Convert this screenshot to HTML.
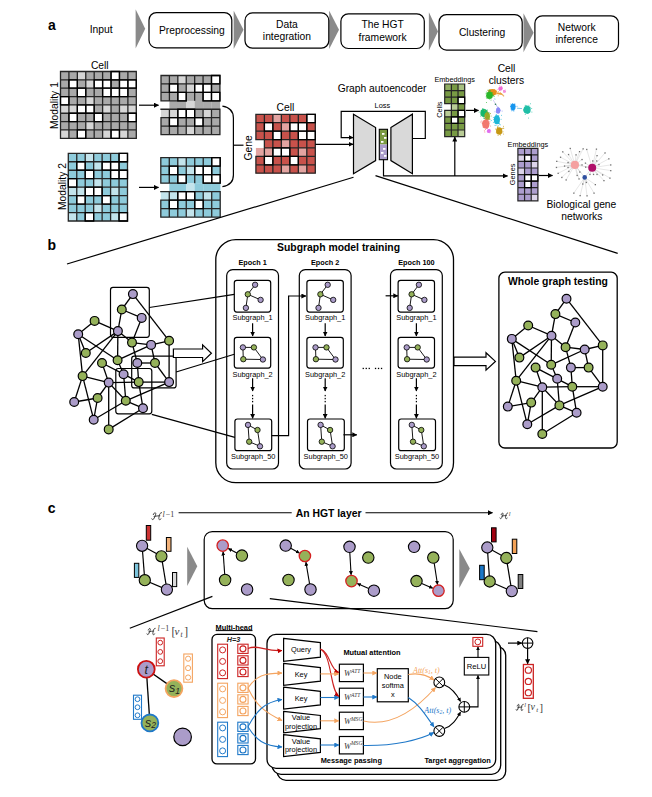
<!DOCTYPE html><html><head><meta charset="utf-8"><style>html,body{margin:0;padding:0;background:#fff;}svg{display:block;}</style></head><body>
<svg width="652" height="797" viewBox="0 0 652 797">
<defs><marker id="ah" viewBox="0 0 10 10" refX="9" refY="5" markerWidth="5" markerHeight="5" markerUnits="userSpaceOnUse" orient="auto"><path d="M0,0 L10,5 L0,10 z" fill="#000"/></marker><marker id="ahR" viewBox="0 0 10 10" refX="9" refY="5" markerWidth="5" markerHeight="5" markerUnits="userSpaceOnUse" orient="auto"><path d="M0,0 L10,5 L0,10 z" fill="#c00000"/></marker><marker id="ahO" viewBox="0 0 10 10" refX="9" refY="5" markerWidth="5" markerHeight="5" markerUnits="userSpaceOnUse" orient="auto"><path d="M0,0 L10,5 L0,10 z" fill="#f4a460"/></marker><marker id="ahB" viewBox="0 0 10 10" refX="9" refY="5" markerWidth="5" markerHeight="5" markerUnits="userSpaceOnUse" orient="auto"><path d="M0,0 L10,5 L0,10 z" fill="#1f78c8"/></marker><marker id="ahs" viewBox="0 0 10 10" refX="9" refY="5" markerWidth="4" markerHeight="4" markerUnits="userSpaceOnUse" orient="auto"><path d="M0,0 L10,5 L0,10 z" fill="#000"/></marker></defs>
<rect width="652" height="797" fill="#fff"/>
<text x="48" y="30" font-size="14" font-weight="bold" font-family='"Liberation Sans", sans-serif'>a</text>
<text x="101.2" y="29" font-size="10.3" font-weight="normal" font-style="normal" text-anchor="middle" dominant-baseline="central" fill="#000" font-family='"Liberation Sans", sans-serif' >Input</text>
<polygon points="135.6,9.3 145.2,28.85 135.6,48.4" fill="#8a8a8a"/>
<polygon points="233.7,10.7 243.5,29.85 233.7,49" fill="#8a8a8a"/>
<polygon points="329.2,10.7 339,29.85 329.2,49" fill="#8a8a8a"/>
<polygon points="428.9,12.3 438,31.450000000000003 428.9,50.6" fill="#8a8a8a"/>
<polygon points="523.5,13.2 533.6,32.7 523.5,52.2" fill="#8a8a8a"/>
<rect x="149" y="12.6" width="82.80000000000001" height="35.199999999999996" rx="7.5" fill="none" stroke="#000" stroke-width="1.2"/>
<text x="191.9" y="30.2" font-size="10.3" font-weight="normal" font-style="normal" text-anchor="middle" dominant-baseline="central" fill="#000" font-family='"Liberation Sans", sans-serif' >Preprocessing</text>
<rect x="245" y="12.9" width="83.80000000000001" height="35.300000000000004" rx="7.5" fill="none" stroke="#000" stroke-width="1.2"/>
<text x="286.9" y="24.35" font-size="10.3" font-weight="normal" font-style="normal" text-anchor="middle" dominant-baseline="central" fill="#000" font-family='"Liberation Sans", sans-serif' >Data</text>
<text x="286.9" y="36.75" font-size="10.3" font-weight="normal" font-style="normal" text-anchor="middle" dominant-baseline="central" fill="#000" font-family='"Liberation Sans", sans-serif' >integration</text>
<rect x="340.9" y="13.8" width="83.40000000000003" height="34.7" rx="7.5" fill="none" stroke="#000" stroke-width="1.2"/>
<text x="382.6" y="24.95" font-size="10.3" font-weight="normal" font-style="normal" text-anchor="middle" dominant-baseline="central" fill="#000" font-family='"Liberation Sans", sans-serif' >The HGT</text>
<text x="382.6" y="37.35" font-size="10.3" font-weight="normal" font-style="normal" text-anchor="middle" dominant-baseline="central" fill="#000" font-family='"Liberation Sans", sans-serif' >framework</text>
<rect x="439" y="14.6" width="83.20000000000005" height="35.5" rx="7.5" fill="none" stroke="#000" stroke-width="1.2"/>
<text x="482.1" y="32.35" font-size="10.3" font-weight="normal" font-style="normal" text-anchor="middle" dominant-baseline="central" fill="#000" font-family='"Liberation Sans", sans-serif' >Clustering</text>
<rect x="534.9" y="15.8" width="83.60000000000002" height="35.7" rx="7.5" fill="none" stroke="#000" stroke-width="1.2"/>
<text x="576.7" y="27.45" font-size="10.3" font-weight="normal" font-style="normal" text-anchor="middle" dominant-baseline="central" fill="#000" font-family='"Liberation Sans", sans-serif' >Network</text>
<text x="576.7" y="39.85" font-size="10.3" font-weight="normal" font-style="normal" text-anchor="middle" dominant-baseline="central" fill="#000" font-family='"Liberation Sans", sans-serif' >inference</text>
<rect x="60.50" y="71.50" width="8.62" height="8.55" fill="#a9a9a9"/>
<rect x="68.92" y="71.50" width="8.62" height="8.55" fill="#a9a9a9"/>
<rect x="77.34" y="71.50" width="8.62" height="8.55" fill="#d6d6d6"/>
<rect x="85.77" y="71.50" width="8.62" height="8.55" fill="#a9a9a9"/>
<rect x="94.19" y="71.50" width="8.62" height="8.55" fill="#a9a9a9"/>
<rect x="102.61" y="71.50" width="8.62" height="8.55" fill="#a9a9a9"/>
<rect x="111.03" y="71.50" width="8.62" height="8.55" fill="#ffffff"/>
<rect x="119.46" y="71.50" width="8.62" height="8.55" fill="#a9a9a9"/>
<rect x="127.88" y="71.50" width="8.62" height="8.55" fill="#a9a9a9"/>
<rect x="60.50" y="79.85" width="8.62" height="8.55" fill="#a9a9a9"/>
<rect x="68.92" y="79.85" width="8.62" height="8.55" fill="#ffffff"/>
<rect x="77.34" y="79.85" width="8.62" height="8.55" fill="#a9a9a9"/>
<rect x="85.77" y="79.85" width="8.62" height="8.55" fill="#d6d6d6"/>
<rect x="94.19" y="79.85" width="8.62" height="8.55" fill="#ffffff"/>
<rect x="102.61" y="79.85" width="8.62" height="8.55" fill="#ffffff"/>
<rect x="111.03" y="79.85" width="8.62" height="8.55" fill="#a9a9a9"/>
<rect x="119.46" y="79.85" width="8.62" height="8.55" fill="#ffffff"/>
<rect x="127.88" y="79.85" width="8.62" height="8.55" fill="#ffffff"/>
<rect x="60.50" y="88.20" width="8.62" height="8.55" fill="#a9a9a9"/>
<rect x="68.92" y="88.20" width="8.62" height="8.55" fill="#a9a9a9"/>
<rect x="77.34" y="88.20" width="8.62" height="8.55" fill="#ffffff"/>
<rect x="85.77" y="88.20" width="8.62" height="8.55" fill="#a9a9a9"/>
<rect x="94.19" y="88.20" width="8.62" height="8.55" fill="#a9a9a9"/>
<rect x="102.61" y="88.20" width="8.62" height="8.55" fill="#ffffff"/>
<rect x="111.03" y="88.20" width="8.62" height="8.55" fill="#ffffff"/>
<rect x="119.46" y="88.20" width="8.62" height="8.55" fill="#ffffff"/>
<rect x="127.88" y="88.20" width="8.62" height="8.55" fill="#a9a9a9"/>
<rect x="60.50" y="96.55" width="8.62" height="8.55" fill="#ffffff"/>
<rect x="68.92" y="96.55" width="8.62" height="8.55" fill="#a9a9a9"/>
<rect x="77.34" y="96.55" width="8.62" height="8.55" fill="#a9a9a9"/>
<rect x="85.77" y="96.55" width="8.62" height="8.55" fill="#d6d6d6"/>
<rect x="94.19" y="96.55" width="8.62" height="8.55" fill="#a9a9a9"/>
<rect x="102.61" y="96.55" width="8.62" height="8.55" fill="#a9a9a9"/>
<rect x="111.03" y="96.55" width="8.62" height="8.55" fill="#a9a9a9"/>
<rect x="119.46" y="96.55" width="8.62" height="8.55" fill="#a9a9a9"/>
<rect x="127.88" y="96.55" width="8.62" height="8.55" fill="#a9a9a9"/>
<rect x="60.50" y="104.90" width="8.62" height="8.55" fill="#d6d6d6"/>
<rect x="68.92" y="104.90" width="8.62" height="8.55" fill="#d6d6d6"/>
<rect x="77.34" y="104.90" width="8.62" height="8.55" fill="#ffffff"/>
<rect x="85.77" y="104.90" width="8.62" height="8.55" fill="#ffffff"/>
<rect x="94.19" y="104.90" width="8.62" height="8.55" fill="#a9a9a9"/>
<rect x="102.61" y="104.90" width="8.62" height="8.55" fill="#d6d6d6"/>
<rect x="111.03" y="104.90" width="8.62" height="8.55" fill="#a9a9a9"/>
<rect x="119.46" y="104.90" width="8.62" height="8.55" fill="#d6d6d6"/>
<rect x="127.88" y="104.90" width="8.62" height="8.55" fill="#d6d6d6"/>
<rect x="60.50" y="113.25" width="8.62" height="8.55" fill="#a9a9a9"/>
<rect x="68.92" y="113.25" width="8.62" height="8.55" fill="#ffffff"/>
<rect x="77.34" y="113.25" width="8.62" height="8.55" fill="#a9a9a9"/>
<rect x="85.77" y="113.25" width="8.62" height="8.55" fill="#a9a9a9"/>
<rect x="94.19" y="113.25" width="8.62" height="8.55" fill="#ffffff"/>
<rect x="102.61" y="113.25" width="8.62" height="8.55" fill="#a9a9a9"/>
<rect x="111.03" y="113.25" width="8.62" height="8.55" fill="#a9a9a9"/>
<rect x="119.46" y="113.25" width="8.62" height="8.55" fill="#a9a9a9"/>
<rect x="127.88" y="113.25" width="8.62" height="8.55" fill="#ffffff"/>
<rect x="60.50" y="121.60" width="8.62" height="8.55" fill="#a9a9a9"/>
<rect x="68.92" y="121.60" width="8.62" height="8.55" fill="#a9a9a9"/>
<rect x="77.34" y="121.60" width="8.62" height="8.55" fill="#a9a9a9"/>
<rect x="85.77" y="121.60" width="8.62" height="8.55" fill="#d6d6d6"/>
<rect x="94.19" y="121.60" width="8.62" height="8.55" fill="#a9a9a9"/>
<rect x="102.61" y="121.60" width="8.62" height="8.55" fill="#a9a9a9"/>
<rect x="111.03" y="121.60" width="8.62" height="8.55" fill="#a9a9a9"/>
<rect x="119.46" y="121.60" width="8.62" height="8.55" fill="#a9a9a9"/>
<rect x="127.88" y="121.60" width="8.62" height="8.55" fill="#a9a9a9"/>
<rect x="60.50" y="129.95" width="8.62" height="8.55" fill="#d6d6d6"/>
<rect x="68.92" y="129.95" width="8.62" height="8.55" fill="#a9a9a9"/>
<rect x="77.34" y="129.95" width="8.62" height="8.55" fill="#ffffff"/>
<rect x="85.77" y="129.95" width="8.62" height="8.55" fill="#a9a9a9"/>
<rect x="94.19" y="129.95" width="8.62" height="8.55" fill="#a9a9a9"/>
<rect x="102.61" y="129.95" width="8.62" height="8.55" fill="#d6d6d6"/>
<rect x="111.03" y="129.95" width="8.62" height="8.55" fill="#ffffff"/>
<rect x="119.46" y="129.95" width="8.62" height="8.55" fill="#d6d6d6"/>
<rect x="127.88" y="129.95" width="8.62" height="8.55" fill="#a9a9a9"/>
<path d="M59.85,71.50H69.57M68.27,71.50H77.99M76.69,71.50H86.42M85.12,71.50H94.84M93.54,71.50H103.26M101.96,71.50H111.68M110.38,71.50H120.11M118.81,71.50H128.53M127.23,71.50H136.95M59.85,79.85H69.57M68.27,79.85H77.99M76.69,79.85H86.42M85.12,79.85H94.84M93.54,79.85H103.26M101.96,79.85H111.68M110.38,79.85H120.11M118.81,79.85H128.53M127.23,79.85H136.95M59.85,88.20H69.57M68.27,88.20H77.99M76.69,88.20H86.42M85.12,88.20H94.84M93.54,88.20H103.26M101.96,88.20H111.68M110.38,88.20H120.11M118.81,88.20H128.53M127.23,88.20H136.95M59.85,96.55H69.57M68.27,96.55H77.99M76.69,96.55H86.42M85.12,96.55H94.84M93.54,96.55H103.26M101.96,96.55H111.68M110.38,96.55H120.11M118.81,96.55H128.53M127.23,96.55H136.95M59.85,104.90H69.57M68.27,104.90H77.99M76.69,104.90H86.42M85.12,104.90H94.84M93.54,104.90H103.26M101.96,104.90H111.68M110.38,104.90H120.11M118.81,104.90H128.53M127.23,104.90H136.95M59.85,113.25H69.57M68.27,113.25H77.99M76.69,113.25H86.42M85.12,113.25H94.84M93.54,113.25H103.26M101.96,113.25H111.68M110.38,113.25H120.11M118.81,113.25H128.53M127.23,113.25H136.95M59.85,121.60H69.57M68.27,121.60H77.99M76.69,121.60H86.42M85.12,121.60H94.84M93.54,121.60H103.26M101.96,121.60H111.68M110.38,121.60H120.11M118.81,121.60H128.53M127.23,121.60H136.95M59.85,129.95H69.57M68.27,129.95H77.99M76.69,129.95H86.42M85.12,129.95H94.84M93.54,129.95H103.26M101.96,129.95H111.68M110.38,129.95H120.11M118.81,129.95H128.53M127.23,129.95H136.95M59.85,138.30H69.57M68.27,138.30H77.99M76.69,138.30H86.42M85.12,138.30H94.84M93.54,138.30H103.26M101.96,138.30H111.68M110.38,138.30H120.11M118.81,138.30H128.53M127.23,138.30H136.95M60.50,71.50V79.85M60.50,79.85V88.20M60.50,88.20V96.55M60.50,96.55V104.90M60.50,104.90V113.25M60.50,113.25V121.60M60.50,121.60V129.95M60.50,129.95V138.30M68.92,71.50V79.85M68.92,79.85V88.20M68.92,88.20V96.55M68.92,96.55V104.90M68.92,104.90V113.25M68.92,113.25V121.60M68.92,121.60V129.95M68.92,129.95V138.30M77.34,71.50V79.85M77.34,79.85V88.20M77.34,88.20V96.55M77.34,96.55V104.90M77.34,104.90V113.25M77.34,113.25V121.60M77.34,121.60V129.95M77.34,129.95V138.30M85.77,71.50V79.85M85.77,79.85V88.20M85.77,88.20V96.55M85.77,96.55V104.90M85.77,104.90V113.25M85.77,113.25V121.60M85.77,121.60V129.95M85.77,129.95V138.30M94.19,71.50V79.85M94.19,79.85V88.20M94.19,88.20V96.55M94.19,96.55V104.90M94.19,104.90V113.25M94.19,113.25V121.60M94.19,121.60V129.95M94.19,129.95V138.30M102.61,71.50V79.85M102.61,79.85V88.20M102.61,88.20V96.55M102.61,96.55V104.90M102.61,104.90V113.25M102.61,113.25V121.60M102.61,121.60V129.95M102.61,129.95V138.30M111.03,71.50V79.85M111.03,79.85V88.20M111.03,88.20V96.55M111.03,96.55V104.90M111.03,104.90V113.25M111.03,113.25V121.60M111.03,121.60V129.95M111.03,129.95V138.30M119.46,71.50V79.85M119.46,79.85V88.20M119.46,88.20V96.55M119.46,96.55V104.90M119.46,104.90V113.25M119.46,113.25V121.60M119.46,121.60V129.95M119.46,129.95V138.30M127.88,71.50V79.85M127.88,79.85V88.20M127.88,88.20V96.55M127.88,96.55V104.90M127.88,104.90V113.25M127.88,113.25V121.60M127.88,121.60V129.95M127.88,129.95V138.30M136.30,71.50V79.85M136.30,79.85V88.20M136.30,88.20V96.55M136.30,96.55V104.90M136.30,104.90V113.25M136.30,113.25V121.60M136.30,121.60V129.95M136.30,129.95V138.30" stroke="#262626" stroke-width="1.3" fill="none"/>
<path d="M111.03,71.50h8.42v8.35h-8.42zM68.92,79.85h8.42v8.35h-8.42zM94.19,79.85h8.42v8.35h-8.42zM102.61,79.85h8.42v8.35h-8.42zM119.46,79.85h8.42v8.35h-8.42zM127.88,79.85h8.42v8.35h-8.42zM77.34,88.20h8.42v8.35h-8.42zM102.61,88.20h8.42v8.35h-8.42zM111.03,88.20h8.42v8.35h-8.42zM119.46,88.20h8.42v8.35h-8.42zM60.50,96.55h8.42v8.35h-8.42zM77.34,104.90h8.42v8.35h-8.42zM85.77,104.90h8.42v8.35h-8.42zM68.92,113.25h8.42v8.35h-8.42zM94.19,113.25h8.42v8.35h-8.42zM127.88,113.25h8.42v8.35h-8.42zM77.34,129.95h8.42v8.35h-8.42zM111.03,129.95h8.42v8.35h-8.42z" stroke="#000" stroke-width="1.3" fill="none"/>
<rect x="161.00" y="75.50" width="8.61" height="8.64" fill="#a9a9a9"/>
<rect x="169.41" y="75.50" width="8.61" height="8.64" fill="#a9a9a9"/>
<rect x="177.83" y="75.50" width="8.61" height="8.64" fill="#d6d6d6"/>
<rect x="186.24" y="75.50" width="8.61" height="8.64" fill="#a9a9a9"/>
<rect x="194.66" y="75.50" width="8.61" height="8.64" fill="#a9a9a9"/>
<rect x="203.07" y="75.50" width="8.61" height="8.64" fill="#a9a9a9"/>
<rect x="211.49" y="75.50" width="8.61" height="8.64" fill="#ffffff"/>
<rect x="161.00" y="83.94" width="8.61" height="8.64" fill="#a9a9a9"/>
<rect x="169.41" y="83.94" width="8.61" height="8.64" fill="#ffffff"/>
<rect x="177.83" y="83.94" width="8.61" height="8.64" fill="#a9a9a9"/>
<rect x="186.24" y="83.94" width="8.61" height="8.64" fill="#d6d6d6"/>
<rect x="194.66" y="83.94" width="8.61" height="8.64" fill="#ffffff"/>
<rect x="203.07" y="83.94" width="8.61" height="8.64" fill="#ffffff"/>
<rect x="211.49" y="83.94" width="8.61" height="8.64" fill="#a9a9a9"/>
<rect x="161.00" y="92.39" width="8.61" height="8.64" fill="#a9a9a9"/>
<rect x="169.41" y="92.39" width="8.61" height="8.64" fill="#a9a9a9"/>
<rect x="177.83" y="92.39" width="8.61" height="8.64" fill="#ffffff"/>
<rect x="186.24" y="92.39" width="8.61" height="8.64" fill="#a9a9a9"/>
<rect x="194.66" y="92.39" width="8.61" height="8.64" fill="#a9a9a9"/>
<rect x="203.07" y="92.39" width="8.61" height="8.64" fill="#ffffff"/>
<rect x="211.49" y="92.39" width="8.61" height="8.64" fill="#ffffff"/>
<rect x="169.41" y="100.83" width="8.61" height="8.64" fill="#a9a9a9"/>
<rect x="177.83" y="100.83" width="8.61" height="8.64" fill="#a9a9a9"/>
<rect x="186.24" y="100.83" width="8.61" height="8.64" fill="#d6d6d6"/>
<rect x="194.66" y="100.83" width="8.61" height="8.64" fill="#a9a9a9"/>
<rect x="203.07" y="100.83" width="8.61" height="8.64" fill="#a9a9a9"/>
<rect x="211.49" y="100.83" width="8.61" height="8.64" fill="#a9a9a9"/>
<rect x="161.00" y="109.27" width="8.61" height="8.64" fill="#d6d6d6"/>
<rect x="169.41" y="109.27" width="8.61" height="8.64" fill="#d6d6d6"/>
<rect x="177.83" y="109.27" width="8.61" height="8.64" fill="#ffffff"/>
<rect x="186.24" y="109.27" width="8.61" height="8.64" fill="#ffffff"/>
<rect x="194.66" y="109.27" width="8.61" height="8.64" fill="#a9a9a9"/>
<rect x="203.07" y="109.27" width="8.61" height="8.64" fill="#d6d6d6"/>
<rect x="211.49" y="109.27" width="8.61" height="8.64" fill="#a9a9a9"/>
<rect x="161.00" y="117.71" width="8.61" height="8.64" fill="#a9a9a9"/>
<rect x="169.41" y="117.71" width="8.61" height="8.64" fill="#ffffff"/>
<rect x="177.83" y="117.71" width="8.61" height="8.64" fill="#a9a9a9"/>
<rect x="186.24" y="117.71" width="8.61" height="8.64" fill="#a9a9a9"/>
<rect x="194.66" y="117.71" width="8.61" height="8.64" fill="#ffffff"/>
<rect x="203.07" y="117.71" width="8.61" height="8.64" fill="#a9a9a9"/>
<rect x="211.49" y="117.71" width="8.61" height="8.64" fill="#a9a9a9"/>
<rect x="161.00" y="126.16" width="8.61" height="8.64" fill="#a9a9a9"/>
<rect x="169.41" y="126.16" width="8.61" height="8.64" fill="#a9a9a9"/>
<rect x="177.83" y="126.16" width="8.61" height="8.64" fill="#a9a9a9"/>
<rect x="186.24" y="126.16" width="8.61" height="8.64" fill="#d6d6d6"/>
<rect x="194.66" y="126.16" width="8.61" height="8.64" fill="#a9a9a9"/>
<rect x="203.07" y="126.16" width="8.61" height="8.64" fill="#a9a9a9"/>
<rect x="211.49" y="126.16" width="8.61" height="8.64" fill="#a9a9a9"/>
<path d="M160.35,75.50H170.06M168.76,75.50H178.48M177.18,75.50H186.89M185.59,75.50H195.31M194.01,75.50H203.72M202.42,75.50H212.14M210.84,75.50H220.55M160.35,83.94H170.06M168.76,83.94H178.48M177.18,83.94H186.89M185.59,83.94H195.31M194.01,83.94H203.72M202.42,83.94H212.14M210.84,83.94H220.55M160.35,92.39H170.06M168.76,92.39H178.48M177.18,92.39H186.89M185.59,92.39H195.31M194.01,92.39H203.72M202.42,92.39H212.14M210.84,92.39H220.55M160.35,100.83H170.06M168.76,100.83H178.48M177.18,100.83H186.89M202.42,100.83H212.14M210.84,100.83H220.55M160.35,109.27H170.06M168.76,109.27H178.48M177.18,109.27H186.89M185.59,109.27H195.31M194.01,109.27H203.72M202.42,109.27H212.14M210.84,109.27H220.55M160.35,117.71H170.06M168.76,117.71H178.48M177.18,117.71H186.89M185.59,117.71H195.31M194.01,117.71H203.72M202.42,117.71H212.14M210.84,117.71H220.55M160.35,126.16H170.06M168.76,126.16H178.48M177.18,126.16H186.89M185.59,126.16H195.31M194.01,126.16H203.72M202.42,126.16H212.14M210.84,126.16H220.55M160.35,134.60H170.06M168.76,134.60H178.48M177.18,134.60H186.89M185.59,134.60H195.31M194.01,134.60H203.72M202.42,134.60H212.14M210.84,134.60H220.55M161.00,75.50V83.94M161.00,83.94V92.39M161.00,92.39V100.83M161.00,117.71V126.16M161.00,126.16V134.60M169.41,75.50V83.94M169.41,83.94V92.39M169.41,92.39V100.83M169.41,109.27V117.71M169.41,117.71V126.16M169.41,126.16V134.60M177.83,75.50V83.94M177.83,83.94V92.39M177.83,92.39V100.83M177.83,109.27V117.71M177.83,117.71V126.16M177.83,126.16V134.60M186.24,75.50V83.94M186.24,83.94V92.39M186.24,92.39V100.83M186.24,109.27V117.71M186.24,117.71V126.16M186.24,126.16V134.60M194.66,75.50V83.94M194.66,83.94V92.39M194.66,92.39V100.83M194.66,109.27V117.71M194.66,117.71V126.16M194.66,126.16V134.60M203.07,75.50V83.94M203.07,83.94V92.39M203.07,92.39V100.83M203.07,109.27V117.71M203.07,117.71V126.16M203.07,126.16V134.60M211.49,75.50V83.94M211.49,83.94V92.39M211.49,92.39V100.83M211.49,109.27V117.71M211.49,117.71V126.16M211.49,126.16V134.60M219.90,75.50V83.94M219.90,83.94V92.39M219.90,92.39V100.83M219.90,109.27V117.71M219.90,117.71V126.16M219.90,126.16V134.60" stroke="#262626" stroke-width="1.3" fill="none"/>
<path d="M211.49,75.50h8.41v8.44h-8.41zM169.41,83.94h8.41v8.44h-8.41zM194.66,83.94h8.41v8.44h-8.41zM203.07,83.94h8.41v8.44h-8.41zM177.83,92.39h8.41v8.44h-8.41zM203.07,92.39h8.41v8.44h-8.41zM211.49,92.39h8.41v8.44h-8.41zM177.83,109.27h8.41v8.44h-8.41zM186.24,109.27h8.41v8.44h-8.41zM169.41,117.71h8.41v8.44h-8.41zM194.66,117.71h8.41v8.44h-8.41z" stroke="#000" stroke-width="1.3" fill="none"/>
<rect x="68.30" y="153.30" width="8.66" height="8.66" fill="#8ecbdb"/>
<rect x="76.76" y="153.30" width="8.66" height="8.66" fill="#8ecbdb"/>
<rect x="85.21" y="153.30" width="8.66" height="8.66" fill="#c3e4ec"/>
<rect x="93.67" y="153.30" width="8.66" height="8.66" fill="#8ecbdb"/>
<rect x="102.13" y="153.30" width="8.66" height="8.66" fill="#8ecbdb"/>
<rect x="110.59" y="153.30" width="8.66" height="8.66" fill="#8ecbdb"/>
<rect x="119.04" y="153.30" width="8.66" height="8.66" fill="#ffffff"/>
<rect x="68.30" y="161.76" width="8.66" height="8.66" fill="#8ecbdb"/>
<rect x="76.76" y="161.76" width="8.66" height="8.66" fill="#ffffff"/>
<rect x="85.21" y="161.76" width="8.66" height="8.66" fill="#8ecbdb"/>
<rect x="93.67" y="161.76" width="8.66" height="8.66" fill="#c3e4ec"/>
<rect x="102.13" y="161.76" width="8.66" height="8.66" fill="#ffffff"/>
<rect x="110.59" y="161.76" width="8.66" height="8.66" fill="#ffffff"/>
<rect x="119.04" y="161.76" width="8.66" height="8.66" fill="#8ecbdb"/>
<rect x="68.30" y="170.23" width="8.66" height="8.66" fill="#8ecbdb"/>
<rect x="76.76" y="170.23" width="8.66" height="8.66" fill="#8ecbdb"/>
<rect x="85.21" y="170.23" width="8.66" height="8.66" fill="#ffffff"/>
<rect x="93.67" y="170.23" width="8.66" height="8.66" fill="#8ecbdb"/>
<rect x="102.13" y="170.23" width="8.66" height="8.66" fill="#8ecbdb"/>
<rect x="110.59" y="170.23" width="8.66" height="8.66" fill="#ffffff"/>
<rect x="119.04" y="170.23" width="8.66" height="8.66" fill="#ffffff"/>
<rect x="68.30" y="178.69" width="8.66" height="8.66" fill="#ffffff"/>
<rect x="76.76" y="178.69" width="8.66" height="8.66" fill="#8ecbdb"/>
<rect x="85.21" y="178.69" width="8.66" height="8.66" fill="#8ecbdb"/>
<rect x="93.67" y="178.69" width="8.66" height="8.66" fill="#c3e4ec"/>
<rect x="102.13" y="178.69" width="8.66" height="8.66" fill="#8ecbdb"/>
<rect x="110.59" y="178.69" width="8.66" height="8.66" fill="#8ecbdb"/>
<rect x="119.04" y="178.69" width="8.66" height="8.66" fill="#8ecbdb"/>
<rect x="68.30" y="187.15" width="8.66" height="8.66" fill="#c3e4ec"/>
<rect x="76.76" y="187.15" width="8.66" height="8.66" fill="#c3e4ec"/>
<rect x="85.21" y="187.15" width="8.66" height="8.66" fill="#ffffff"/>
<rect x="93.67" y="187.15" width="8.66" height="8.66" fill="#ffffff"/>
<rect x="102.13" y="187.15" width="8.66" height="8.66" fill="#8ecbdb"/>
<rect x="110.59" y="187.15" width="8.66" height="8.66" fill="#c3e4ec"/>
<rect x="119.04" y="187.15" width="8.66" height="8.66" fill="#8ecbdb"/>
<rect x="68.30" y="195.61" width="8.66" height="8.66" fill="#8ecbdb"/>
<rect x="76.76" y="195.61" width="8.66" height="8.66" fill="#ffffff"/>
<rect x="85.21" y="195.61" width="8.66" height="8.66" fill="#8ecbdb"/>
<rect x="93.67" y="195.61" width="8.66" height="8.66" fill="#8ecbdb"/>
<rect x="102.13" y="195.61" width="8.66" height="8.66" fill="#ffffff"/>
<rect x="110.59" y="195.61" width="8.66" height="8.66" fill="#8ecbdb"/>
<rect x="119.04" y="195.61" width="8.66" height="8.66" fill="#8ecbdb"/>
<rect x="68.30" y="204.07" width="8.66" height="8.66" fill="#8ecbdb"/>
<rect x="76.76" y="204.07" width="8.66" height="8.66" fill="#8ecbdb"/>
<rect x="85.21" y="204.07" width="8.66" height="8.66" fill="#8ecbdb"/>
<rect x="93.67" y="204.07" width="8.66" height="8.66" fill="#c3e4ec"/>
<rect x="102.13" y="204.07" width="8.66" height="8.66" fill="#8ecbdb"/>
<rect x="110.59" y="204.07" width="8.66" height="8.66" fill="#8ecbdb"/>
<rect x="119.04" y="204.07" width="8.66" height="8.66" fill="#8ecbdb"/>
<rect x="68.30" y="212.54" width="8.66" height="8.66" fill="#c3e4ec"/>
<rect x="76.76" y="212.54" width="8.66" height="8.66" fill="#8ecbdb"/>
<rect x="85.21" y="212.54" width="8.66" height="8.66" fill="#ffffff"/>
<rect x="93.67" y="212.54" width="8.66" height="8.66" fill="#8ecbdb"/>
<rect x="102.13" y="212.54" width="8.66" height="8.66" fill="#8ecbdb"/>
<rect x="110.59" y="212.54" width="8.66" height="8.66" fill="#c3e4ec"/>
<rect x="119.04" y="212.54" width="8.66" height="8.66" fill="#ffffff"/>
<path d="M67.65,153.30H77.41M76.11,153.30H85.86M84.56,153.30H94.32M93.02,153.30H102.78M101.48,153.30H111.24M109.94,153.30H119.69M118.39,153.30H128.15M67.65,161.76H77.41M76.11,161.76H85.86M84.56,161.76H94.32M93.02,161.76H102.78M101.48,161.76H111.24M109.94,161.76H119.69M118.39,161.76H128.15M67.65,170.23H77.41M76.11,170.23H85.86M84.56,170.23H94.32M93.02,170.23H102.78M101.48,170.23H111.24M109.94,170.23H119.69M118.39,170.23H128.15M67.65,178.69H77.41M76.11,178.69H85.86M84.56,178.69H94.32M93.02,178.69H102.78M101.48,178.69H111.24M109.94,178.69H119.69M118.39,178.69H128.15M67.65,187.15H77.41M76.11,187.15H85.86M84.56,187.15H94.32M93.02,187.15H102.78M101.48,187.15H111.24M109.94,187.15H119.69M118.39,187.15H128.15M67.65,195.61H77.41M76.11,195.61H85.86M84.56,195.61H94.32M93.02,195.61H102.78M101.48,195.61H111.24M109.94,195.61H119.69M118.39,195.61H128.15M67.65,204.07H77.41M76.11,204.07H85.86M84.56,204.07H94.32M93.02,204.07H102.78M101.48,204.07H111.24M109.94,204.07H119.69M118.39,204.07H128.15M67.65,212.54H77.41M76.11,212.54H85.86M84.56,212.54H94.32M93.02,212.54H102.78M101.48,212.54H111.24M109.94,212.54H119.69M118.39,212.54H128.15M67.65,221.00H77.41M76.11,221.00H85.86M84.56,221.00H94.32M93.02,221.00H102.78M101.48,221.00H111.24M109.94,221.00H119.69M118.39,221.00H128.15M68.30,153.30V161.76M68.30,161.76V170.23M68.30,170.23V178.69M68.30,178.69V187.15M68.30,187.15V195.61M68.30,195.61V204.07M68.30,204.07V212.54M68.30,212.54V221.00M76.76,153.30V161.76M76.76,161.76V170.23M76.76,170.23V178.69M76.76,178.69V187.15M76.76,187.15V195.61M76.76,195.61V204.07M76.76,204.07V212.54M76.76,212.54V221.00M85.21,153.30V161.76M85.21,161.76V170.23M85.21,170.23V178.69M85.21,178.69V187.15M85.21,187.15V195.61M85.21,195.61V204.07M85.21,204.07V212.54M85.21,212.54V221.00M93.67,153.30V161.76M93.67,161.76V170.23M93.67,170.23V178.69M93.67,178.69V187.15M93.67,187.15V195.61M93.67,195.61V204.07M93.67,204.07V212.54M93.67,212.54V221.00M102.13,153.30V161.76M102.13,161.76V170.23M102.13,170.23V178.69M102.13,178.69V187.15M102.13,187.15V195.61M102.13,195.61V204.07M102.13,204.07V212.54M102.13,212.54V221.00M110.59,153.30V161.76M110.59,161.76V170.23M110.59,170.23V178.69M110.59,178.69V187.15M110.59,187.15V195.61M110.59,195.61V204.07M110.59,204.07V212.54M110.59,212.54V221.00M119.04,153.30V161.76M119.04,161.76V170.23M119.04,170.23V178.69M119.04,178.69V187.15M119.04,187.15V195.61M119.04,195.61V204.07M119.04,204.07V212.54M119.04,212.54V221.00M127.50,153.30V161.76M127.50,161.76V170.23M127.50,170.23V178.69M127.50,178.69V187.15M127.50,187.15V195.61M127.50,195.61V204.07M127.50,204.07V212.54M127.50,212.54V221.00" stroke="#262626" stroke-width="1.3" fill="none"/>
<path d="M119.04,153.30h8.46v8.46h-8.46zM76.76,161.76h8.46v8.46h-8.46zM102.13,161.76h8.46v8.46h-8.46zM110.59,161.76h8.46v8.46h-8.46zM85.21,170.23h8.46v8.46h-8.46zM110.59,170.23h8.46v8.46h-8.46zM119.04,170.23h8.46v8.46h-8.46zM68.30,178.69h8.46v8.46h-8.46zM85.21,187.15h8.46v8.46h-8.46zM93.67,187.15h8.46v8.46h-8.46zM76.76,195.61h8.46v8.46h-8.46zM102.13,195.61h8.46v8.46h-8.46zM85.21,212.54h8.46v8.46h-8.46zM119.04,212.54h8.46v8.46h-8.46z" stroke="#000" stroke-width="1.3" fill="none"/>
<rect x="160.80" y="157.60" width="8.69" height="8.71" fill="#8ecbdb"/>
<rect x="169.29" y="157.60" width="8.69" height="8.71" fill="#8ecbdb"/>
<rect x="177.77" y="157.60" width="8.69" height="8.71" fill="#c3e4ec"/>
<rect x="186.26" y="157.60" width="8.69" height="8.71" fill="#8ecbdb"/>
<rect x="194.74" y="157.60" width="8.69" height="8.71" fill="#8ecbdb"/>
<rect x="203.23" y="157.60" width="8.69" height="8.71" fill="#8ecbdb"/>
<rect x="211.71" y="157.60" width="8.69" height="8.71" fill="#ffffff"/>
<rect x="160.80" y="166.11" width="8.69" height="8.71" fill="#8ecbdb"/>
<rect x="169.29" y="166.11" width="8.69" height="8.71" fill="#ffffff"/>
<rect x="177.77" y="166.11" width="8.69" height="8.71" fill="#8ecbdb"/>
<rect x="186.26" y="166.11" width="8.69" height="8.71" fill="#c3e4ec"/>
<rect x="194.74" y="166.11" width="8.69" height="8.71" fill="#ffffff"/>
<rect x="203.23" y="166.11" width="8.69" height="8.71" fill="#ffffff"/>
<rect x="211.71" y="166.11" width="8.69" height="8.71" fill="#8ecbdb"/>
<rect x="160.80" y="174.63" width="8.69" height="8.71" fill="#8ecbdb"/>
<rect x="169.29" y="174.63" width="8.69" height="8.71" fill="#8ecbdb"/>
<rect x="177.77" y="174.63" width="8.69" height="8.71" fill="#ffffff"/>
<rect x="186.26" y="174.63" width="8.69" height="8.71" fill="#8ecbdb"/>
<rect x="194.74" y="174.63" width="8.69" height="8.71" fill="#8ecbdb"/>
<rect x="203.23" y="174.63" width="8.69" height="8.71" fill="#ffffff"/>
<rect x="211.71" y="174.63" width="8.69" height="8.71" fill="#ffffff"/>
<rect x="169.29" y="183.14" width="8.69" height="8.71" fill="#8ecbdb"/>
<rect x="177.77" y="183.14" width="8.69" height="8.71" fill="#8ecbdb"/>
<rect x="186.26" y="183.14" width="8.69" height="8.71" fill="#c3e4ec"/>
<rect x="194.74" y="183.14" width="8.69" height="8.71" fill="#8ecbdb"/>
<rect x="203.23" y="183.14" width="8.69" height="8.71" fill="#8ecbdb"/>
<rect x="211.71" y="183.14" width="8.69" height="8.71" fill="#8ecbdb"/>
<rect x="160.80" y="191.66" width="8.69" height="8.71" fill="#c3e4ec"/>
<rect x="169.29" y="191.66" width="8.69" height="8.71" fill="#c3e4ec"/>
<rect x="177.77" y="191.66" width="8.69" height="8.71" fill="#ffffff"/>
<rect x="186.26" y="191.66" width="8.69" height="8.71" fill="#ffffff"/>
<rect x="194.74" y="191.66" width="8.69" height="8.71" fill="#8ecbdb"/>
<rect x="203.23" y="191.66" width="8.69" height="8.71" fill="#c3e4ec"/>
<rect x="211.71" y="191.66" width="8.69" height="8.71" fill="#8ecbdb"/>
<rect x="160.80" y="200.17" width="8.69" height="8.71" fill="#8ecbdb"/>
<rect x="169.29" y="200.17" width="8.69" height="8.71" fill="#ffffff"/>
<rect x="177.77" y="200.17" width="8.69" height="8.71" fill="#8ecbdb"/>
<rect x="186.26" y="200.17" width="8.69" height="8.71" fill="#8ecbdb"/>
<rect x="194.74" y="200.17" width="8.69" height="8.71" fill="#ffffff"/>
<rect x="203.23" y="200.17" width="8.69" height="8.71" fill="#8ecbdb"/>
<rect x="211.71" y="200.17" width="8.69" height="8.71" fill="#8ecbdb"/>
<rect x="160.80" y="208.69" width="8.69" height="8.71" fill="#8ecbdb"/>
<rect x="169.29" y="208.69" width="8.69" height="8.71" fill="#8ecbdb"/>
<rect x="177.77" y="208.69" width="8.69" height="8.71" fill="#8ecbdb"/>
<rect x="186.26" y="208.69" width="8.69" height="8.71" fill="#c3e4ec"/>
<rect x="194.74" y="208.69" width="8.69" height="8.71" fill="#8ecbdb"/>
<rect x="203.23" y="208.69" width="8.69" height="8.71" fill="#8ecbdb"/>
<rect x="211.71" y="208.69" width="8.69" height="8.71" fill="#8ecbdb"/>
<path d="M160.15,157.60H169.94M168.64,157.60H178.42M177.12,157.60H186.91M185.61,157.60H195.39M194.09,157.60H203.88M202.58,157.60H212.36M211.06,157.60H220.85M160.15,166.11H169.94M168.64,166.11H178.42M177.12,166.11H186.91M185.61,166.11H195.39M194.09,166.11H203.88M202.58,166.11H212.36M211.06,166.11H220.85M160.15,174.63H169.94M168.64,174.63H178.42M177.12,174.63H186.91M185.61,174.63H195.39M194.09,174.63H203.88M202.58,174.63H212.36M211.06,174.63H220.85M160.15,183.14H169.94M168.64,183.14H178.42M177.12,183.14H186.91M202.58,183.14H212.36M211.06,183.14H220.85M160.15,191.66H169.94M168.64,191.66H178.42M177.12,191.66H186.91M185.61,191.66H195.39M194.09,191.66H203.88M202.58,191.66H212.36M211.06,191.66H220.85M160.15,200.17H169.94M168.64,200.17H178.42M177.12,200.17H186.91M185.61,200.17H195.39M194.09,200.17H203.88M202.58,200.17H212.36M211.06,200.17H220.85M160.15,208.69H169.94M168.64,208.69H178.42M177.12,208.69H186.91M185.61,208.69H195.39M194.09,208.69H203.88M202.58,208.69H212.36M211.06,208.69H220.85M160.15,217.20H169.94M168.64,217.20H178.42M177.12,217.20H186.91M185.61,217.20H195.39M194.09,217.20H203.88M202.58,217.20H212.36M211.06,217.20H220.85M160.80,157.60V166.11M160.80,166.11V174.63M160.80,174.63V183.14M160.80,200.17V208.69M160.80,208.69V217.20M169.29,157.60V166.11M169.29,166.11V174.63M169.29,174.63V183.14M169.29,191.66V200.17M169.29,200.17V208.69M169.29,208.69V217.20M177.77,157.60V166.11M177.77,166.11V174.63M177.77,174.63V183.14M177.77,191.66V200.17M177.77,200.17V208.69M177.77,208.69V217.20M186.26,157.60V166.11M186.26,166.11V174.63M186.26,174.63V183.14M186.26,191.66V200.17M186.26,200.17V208.69M186.26,208.69V217.20M194.74,157.60V166.11M194.74,166.11V174.63M194.74,174.63V183.14M194.74,191.66V200.17M194.74,200.17V208.69M194.74,208.69V217.20M203.23,157.60V166.11M203.23,166.11V174.63M203.23,174.63V183.14M203.23,191.66V200.17M203.23,200.17V208.69M203.23,208.69V217.20M211.71,157.60V166.11M211.71,166.11V174.63M211.71,174.63V183.14M211.71,191.66V200.17M211.71,200.17V208.69M211.71,208.69V217.20M220.20,157.60V166.11M220.20,166.11V174.63M220.20,174.63V183.14M220.20,191.66V200.17M220.20,200.17V208.69M220.20,208.69V217.20" stroke="#262626" stroke-width="1.3" fill="none"/>
<path d="M211.71,157.60h8.49v8.51h-8.49zM169.29,166.11h8.49v8.51h-8.49zM194.74,166.11h8.49v8.51h-8.49zM203.23,166.11h8.49v8.51h-8.49zM177.77,174.63h8.49v8.51h-8.49zM203.23,174.63h8.49v8.51h-8.49zM211.71,174.63h8.49v8.51h-8.49zM177.77,191.66h8.49v8.51h-8.49zM186.26,191.66h8.49v8.51h-8.49zM169.29,200.17h8.49v8.51h-8.49zM194.74,200.17h8.49v8.51h-8.49z" stroke="#000" stroke-width="1.3" fill="none"/>
<rect x="255.90" y="114.30" width="8.69" height="8.61" fill="#c8524b"/>
<rect x="264.39" y="114.30" width="8.69" height="8.61" fill="#c8524b"/>
<rect x="272.87" y="114.30" width="8.69" height="8.61" fill="#e3a4a1"/>
<rect x="281.36" y="114.30" width="8.69" height="8.61" fill="#c8524b"/>
<rect x="289.84" y="114.30" width="8.69" height="8.61" fill="#c8524b"/>
<rect x="298.33" y="114.30" width="8.69" height="8.61" fill="#c8524b"/>
<rect x="306.81" y="114.30" width="8.69" height="8.61" fill="#ffffff"/>
<rect x="255.90" y="122.71" width="8.69" height="8.61" fill="#c8524b"/>
<rect x="264.39" y="122.71" width="8.69" height="8.61" fill="#ffffff"/>
<rect x="272.87" y="122.71" width="8.69" height="8.61" fill="#c8524b"/>
<rect x="281.36" y="122.71" width="8.69" height="8.61" fill="#e3a4a1"/>
<rect x="289.84" y="122.71" width="8.69" height="8.61" fill="#ffffff"/>
<rect x="298.33" y="122.71" width="8.69" height="8.61" fill="#ffffff"/>
<rect x="306.81" y="122.71" width="8.69" height="8.61" fill="#c8524b"/>
<rect x="255.90" y="131.13" width="8.69" height="8.61" fill="#c8524b"/>
<rect x="264.39" y="131.13" width="8.69" height="8.61" fill="#c8524b"/>
<rect x="272.87" y="131.13" width="8.69" height="8.61" fill="#ffffff"/>
<rect x="281.36" y="131.13" width="8.69" height="8.61" fill="#c8524b"/>
<rect x="289.84" y="131.13" width="8.69" height="8.61" fill="#c8524b"/>
<rect x="298.33" y="131.13" width="8.69" height="8.61" fill="#ffffff"/>
<rect x="306.81" y="131.13" width="8.69" height="8.61" fill="#ffffff"/>
<rect x="264.39" y="139.54" width="8.69" height="8.61" fill="#c8524b"/>
<rect x="272.87" y="139.54" width="8.69" height="8.61" fill="#c8524b"/>
<rect x="281.36" y="139.54" width="8.69" height="8.61" fill="#e3a4a1"/>
<rect x="289.84" y="139.54" width="8.69" height="8.61" fill="#c8524b"/>
<rect x="298.33" y="139.54" width="8.69" height="8.61" fill="#c8524b"/>
<rect x="306.81" y="139.54" width="8.69" height="8.61" fill="#c8524b"/>
<rect x="255.90" y="147.96" width="8.69" height="8.61" fill="#e3a4a1"/>
<rect x="264.39" y="147.96" width="8.69" height="8.61" fill="#e3a4a1"/>
<rect x="272.87" y="147.96" width="8.69" height="8.61" fill="#ffffff"/>
<rect x="281.36" y="147.96" width="8.69" height="8.61" fill="#ffffff"/>
<rect x="289.84" y="147.96" width="8.69" height="8.61" fill="#c8524b"/>
<rect x="298.33" y="147.96" width="8.69" height="8.61" fill="#e3a4a1"/>
<rect x="306.81" y="147.96" width="8.69" height="8.61" fill="#c8524b"/>
<rect x="255.90" y="156.37" width="8.69" height="8.61" fill="#c8524b"/>
<rect x="264.39" y="156.37" width="8.69" height="8.61" fill="#ffffff"/>
<rect x="272.87" y="156.37" width="8.69" height="8.61" fill="#c8524b"/>
<rect x="281.36" y="156.37" width="8.69" height="8.61" fill="#c8524b"/>
<rect x="289.84" y="156.37" width="8.69" height="8.61" fill="#ffffff"/>
<rect x="298.33" y="156.37" width="8.69" height="8.61" fill="#c8524b"/>
<rect x="306.81" y="156.37" width="8.69" height="8.61" fill="#c8524b"/>
<rect x="255.90" y="164.79" width="8.69" height="8.61" fill="#c8524b"/>
<rect x="264.39" y="164.79" width="8.69" height="8.61" fill="#c8524b"/>
<rect x="272.87" y="164.79" width="8.69" height="8.61" fill="#c8524b"/>
<rect x="281.36" y="164.79" width="8.69" height="8.61" fill="#e3a4a1"/>
<rect x="289.84" y="164.79" width="8.69" height="8.61" fill="#c8524b"/>
<rect x="298.33" y="164.79" width="8.69" height="8.61" fill="#e3a4a1"/>
<rect x="306.81" y="164.79" width="8.69" height="8.61" fill="#c8524b"/>
<path d="M255.25,114.30H265.04M263.74,114.30H273.52M272.22,114.30H282.01M280.71,114.30H290.49M289.19,114.30H298.98M297.68,114.30H307.46M306.16,114.30H315.95M255.25,122.71H265.04M263.74,122.71H273.52M272.22,122.71H282.01M280.71,122.71H290.49M289.19,122.71H298.98M297.68,122.71H307.46M306.16,122.71H315.95M255.25,131.13H265.04M263.74,131.13H273.52M272.22,131.13H282.01M280.71,131.13H290.49M289.19,131.13H298.98M297.68,131.13H307.46M306.16,131.13H315.95M255.25,139.54H265.04M263.74,139.54H273.52M272.22,139.54H282.01M280.71,139.54H290.49M289.19,139.54H298.98M297.68,139.54H307.46M306.16,139.54H315.95M263.74,147.96H273.52M272.22,147.96H282.01M280.71,147.96H290.49M289.19,147.96H298.98M297.68,147.96H307.46M306.16,147.96H315.95M255.25,156.37H265.04M263.74,156.37H273.52M272.22,156.37H282.01M280.71,156.37H290.49M289.19,156.37H298.98M297.68,156.37H307.46M306.16,156.37H315.95M255.25,164.79H265.04M263.74,164.79H273.52M272.22,164.79H282.01M280.71,164.79H290.49M289.19,164.79H298.98M297.68,164.79H307.46M306.16,164.79H315.95M255.25,173.20H265.04M263.74,173.20H273.52M272.22,173.20H282.01M280.71,173.20H290.49M289.19,173.20H298.98M297.68,173.20H307.46M306.16,173.20H315.95M255.90,114.30V122.71M255.90,122.71V131.13M255.90,131.13V139.54M255.90,156.37V164.79M255.90,164.79V173.20M264.39,114.30V122.71M264.39,122.71V131.13M264.39,131.13V139.54M264.39,139.54V147.96M264.39,147.96V156.37M264.39,156.37V164.79M264.39,164.79V173.20M272.87,114.30V122.71M272.87,122.71V131.13M272.87,131.13V139.54M272.87,139.54V147.96M272.87,147.96V156.37M272.87,156.37V164.79M272.87,164.79V173.20M281.36,114.30V122.71M281.36,122.71V131.13M281.36,131.13V139.54M281.36,139.54V147.96M281.36,147.96V156.37M281.36,156.37V164.79M281.36,164.79V173.20M289.84,114.30V122.71M289.84,122.71V131.13M289.84,131.13V139.54M289.84,139.54V147.96M289.84,147.96V156.37M289.84,156.37V164.79M289.84,164.79V173.20M298.33,114.30V122.71M298.33,122.71V131.13M298.33,131.13V139.54M298.33,139.54V147.96M298.33,147.96V156.37M298.33,156.37V164.79M298.33,164.79V173.20M306.81,114.30V122.71M306.81,122.71V131.13M306.81,131.13V139.54M306.81,139.54V147.96M306.81,147.96V156.37M306.81,156.37V164.79M306.81,164.79V173.20M315.30,114.30V122.71M315.30,122.71V131.13M315.30,131.13V139.54M315.30,139.54V147.96M315.30,147.96V156.37M315.30,156.37V164.79M315.30,164.79V173.20" stroke="#262626" stroke-width="1.3" fill="none"/>
<path d="M306.81,114.30h8.49v8.41h-8.49zM264.39,122.71h8.49v8.41h-8.49zM289.84,122.71h8.49v8.41h-8.49zM298.33,122.71h8.49v8.41h-8.49zM272.87,131.13h8.49v8.41h-8.49zM298.33,131.13h8.49v8.41h-8.49zM306.81,131.13h8.49v8.41h-8.49zM272.87,147.96h8.49v8.41h-8.49zM281.36,147.96h8.49v8.41h-8.49zM264.39,156.37h8.49v8.41h-8.49zM289.84,156.37h8.49v8.41h-8.49z" stroke="#000" stroke-width="1.3" fill="none"/>
<rect x="444.70" y="84.00" width="6.87" height="6.77" fill="#90ae64"/>
<rect x="451.37" y="84.00" width="6.87" height="6.77" fill="#789a44"/>
<rect x="458.03" y="84.00" width="6.87" height="6.77" fill="#a8c080"/>
<rect x="444.70" y="90.58" width="6.87" height="6.77" fill="#789a44"/>
<rect x="451.37" y="90.58" width="6.87" height="6.77" fill="#789a44"/>
<rect x="458.03" y="90.58" width="6.87" height="6.77" fill="#789a44"/>
<rect x="444.70" y="97.15" width="6.87" height="6.77" fill="#789a44"/>
<rect x="451.37" y="97.15" width="6.87" height="6.77" fill="#789a44"/>
<rect x="458.03" y="97.15" width="6.87" height="6.77" fill="#ffffff"/>
<rect x="451.37" y="103.72" width="6.87" height="6.77" fill="#b9cc96"/>
<rect x="458.03" y="103.72" width="6.87" height="6.77" fill="#789a44"/>
<rect x="444.70" y="110.30" width="6.87" height="6.77" fill="#b9cc96"/>
<rect x="451.37" y="110.30" width="6.87" height="6.77" fill="#789a44"/>
<rect x="458.03" y="110.30" width="6.87" height="6.77" fill="#ffffff"/>
<rect x="444.70" y="116.88" width="6.87" height="6.77" fill="#789a44"/>
<rect x="451.37" y="116.88" width="6.87" height="6.77" fill="#ffffff"/>
<rect x="458.03" y="116.88" width="6.87" height="6.77" fill="#789a44"/>
<rect x="444.70" y="123.45" width="6.87" height="6.77" fill="#789a44"/>
<rect x="451.37" y="123.45" width="6.87" height="6.77" fill="#789a44"/>
<rect x="458.03" y="123.45" width="6.87" height="6.77" fill="#789a44"/>
<rect x="444.70" y="130.02" width="6.87" height="6.77" fill="#789a44"/>
<rect x="451.37" y="130.02" width="6.87" height="6.77" fill="#789a44"/>
<rect x="458.03" y="130.02" width="6.87" height="6.77" fill="#b9cc96"/>
<path d="M444.10,84.00H451.97M450.77,84.00H458.63M457.43,84.00H465.30M444.10,90.58H451.97M450.77,90.58H458.63M457.43,90.58H465.30M444.10,97.15H451.97M450.77,97.15H458.63M457.43,97.15H465.30M444.10,103.72H451.97M450.77,103.72H458.63M457.43,103.72H465.30M444.10,110.30H451.97M450.77,110.30H458.63M457.43,110.30H465.30M444.10,116.88H451.97M450.77,116.88H458.63M457.43,116.88H465.30M444.10,123.45H451.97M450.77,123.45H458.63M457.43,123.45H465.30M444.10,130.02H451.97M450.77,130.02H458.63M457.43,130.02H465.30M444.10,136.60H451.97M450.77,136.60H458.63M457.43,136.60H465.30M444.70,84.00V90.58M444.70,90.58V97.15M444.70,97.15V103.72M444.70,110.30V116.88M444.70,116.88V123.45M444.70,123.45V130.02M444.70,130.02V136.60M451.37,84.00V90.58M451.37,90.58V97.15M451.37,97.15V103.72M451.37,103.72V110.30M451.37,110.30V116.88M451.37,116.88V123.45M451.37,123.45V130.02M451.37,130.02V136.60M458.03,84.00V90.58M458.03,90.58V97.15M458.03,97.15V103.72M458.03,103.72V110.30M458.03,110.30V116.88M458.03,116.88V123.45M458.03,123.45V130.02M458.03,130.02V136.60M464.70,84.00V90.58M464.70,90.58V97.15M464.70,97.15V103.72M464.70,103.72V110.30M464.70,110.30V116.88M464.70,116.88V123.45M464.70,123.45V130.02M464.70,130.02V136.60" stroke="#262626" stroke-width="1.2" fill="none"/>
<path d="M458.03,97.15h6.67v6.57h-6.67zM458.03,110.30h6.67v6.57h-6.67zM451.37,116.88h6.67v6.57h-6.67z" stroke="#000" stroke-width="1.2" fill="none"/>
<rect x="517.90" y="148.30" width="6.87" height="6.76" fill="#ad9ecf"/>
<rect x="524.57" y="148.30" width="6.87" height="6.76" fill="#ad9ecf"/>
<rect x="531.23" y="148.30" width="6.87" height="6.76" fill="#ad9ecf"/>
<rect x="517.90" y="154.86" width="6.87" height="6.76" fill="#dcd4ea"/>
<rect x="524.57" y="154.86" width="6.87" height="6.76" fill="#ffffff"/>
<rect x="531.23" y="154.86" width="6.87" height="6.76" fill="#ad9ecf"/>
<rect x="517.90" y="161.43" width="6.87" height="6.76" fill="#ad9ecf"/>
<rect x="524.57" y="161.43" width="6.87" height="6.76" fill="#ad9ecf"/>
<rect x="531.23" y="161.43" width="6.87" height="6.76" fill="#dcd4ea"/>
<rect x="517.90" y="167.99" width="6.87" height="6.76" fill="#dcd4ea"/>
<rect x="524.57" y="167.99" width="6.87" height="6.76" fill="#ad9ecf"/>
<rect x="531.23" y="167.99" width="6.87" height="6.76" fill="#ad9ecf"/>
<rect x="517.90" y="174.55" width="6.87" height="6.76" fill="#ad9ecf"/>
<rect x="524.57" y="174.55" width="6.87" height="6.76" fill="#ffffff"/>
<rect x="531.23" y="174.55" width="6.87" height="6.76" fill="#ffffff"/>
<rect x="517.90" y="181.11" width="6.87" height="6.76" fill="#ad9ecf"/>
<rect x="524.57" y="181.11" width="6.87" height="6.76" fill="#ffffff"/>
<rect x="531.23" y="181.11" width="6.87" height="6.76" fill="#ad9ecf"/>
<rect x="517.90" y="187.68" width="6.87" height="6.76" fill="#ad9ecf"/>
<rect x="524.57" y="187.68" width="6.87" height="6.76" fill="#ad9ecf"/>
<rect x="531.23" y="187.68" width="6.87" height="6.76" fill="#ad9ecf"/>
<rect x="517.90" y="194.24" width="6.87" height="6.76" fill="#ad9ecf"/>
<rect x="524.57" y="194.24" width="6.87" height="6.76" fill="#ad9ecf"/>
<rect x="531.23" y="194.24" width="6.87" height="6.76" fill="#dcd4ea"/>
<path d="M517.30,148.30H525.17M523.97,148.30H531.83M530.63,148.30H538.50M517.30,154.86H525.17M523.97,154.86H531.83M530.63,154.86H538.50M517.30,161.43H525.17M523.97,161.43H531.83M530.63,161.43H538.50M517.30,167.99H525.17M523.97,167.99H531.83M530.63,167.99H538.50M517.30,174.55H525.17M523.97,174.55H531.83M530.63,174.55H538.50M517.30,181.11H525.17M523.97,181.11H531.83M530.63,181.11H538.50M517.30,187.68H525.17M523.97,187.68H531.83M530.63,187.68H538.50M517.30,194.24H525.17M523.97,194.24H531.83M530.63,194.24H538.50M517.30,200.80H525.17M523.97,200.80H531.83M530.63,200.80H538.50M517.90,148.30V154.86M517.90,154.86V161.43M517.90,161.43V167.99M517.90,167.99V174.55M517.90,174.55V181.11M517.90,181.11V187.68M517.90,187.68V194.24M517.90,194.24V200.80M524.57,148.30V154.86M524.57,154.86V161.43M524.57,161.43V167.99M524.57,167.99V174.55M524.57,174.55V181.11M524.57,181.11V187.68M524.57,187.68V194.24M524.57,194.24V200.80M531.23,148.30V154.86M531.23,154.86V161.43M531.23,161.43V167.99M531.23,167.99V174.55M531.23,174.55V181.11M531.23,181.11V187.68M531.23,187.68V194.24M531.23,194.24V200.80M537.90,148.30V154.86M537.90,154.86V161.43M537.90,161.43V167.99M537.90,167.99V174.55M537.90,174.55V181.11M537.90,181.11V187.68M537.90,187.68V194.24M537.90,194.24V200.80" stroke="#262626" stroke-width="1.2" fill="none"/>
<path d="M524.57,154.86h6.67v6.56h-6.67zM524.57,174.55h6.67v6.56h-6.67zM531.23,174.55h6.67v6.56h-6.67zM524.57,181.11h6.67v6.56h-6.67z" stroke="#000" stroke-width="1.2" fill="none"/>
<text x="99.8" y="65.7" font-size="10.3" font-weight="normal" font-style="normal" text-anchor="middle" dominant-baseline="central" fill="#000" font-family='"Liberation Sans", sans-serif' >Cell</text>
<text x="54.5" y="105.6" font-size="10.3" font-weight="normal" font-style="normal" text-anchor="middle" dominant-baseline="central" fill="#000" font-family='"Liberation Sans", sans-serif' transform="rotate(-90 54.5 105.6)" >Modality 1</text>
<text x="62.3" y="186.5" font-size="10.3" font-weight="normal" font-style="normal" text-anchor="middle" dominant-baseline="central" fill="#000" font-family='"Liberation Sans", sans-serif' transform="rotate(-90 62.3 186.5)" >Modality 2</text>
<line x1="139" y1="105.2" x2="158.5" y2="105.2" stroke="#000" stroke-width="1.2" marker-end="url(#ah)"/>
<line x1="139" y1="187.4" x2="158.5" y2="187.4" stroke="#000" stroke-width="1.2" marker-end="url(#ah)"/>
<path d="M222.4,106.2 Q233.4,108 233.4,118 V175 Q233.4,185 222.4,186.6" stroke="#000" stroke-width="1.2" fill="none" />
<line x1="233.4" y1="145.2" x2="243.5" y2="145.2" stroke="#000" stroke-width="1.2"/>
<text x="285.4" y="107" font-size="10.3" font-weight="normal" font-style="normal" text-anchor="middle" dominant-baseline="central" fill="#000" font-family='"Liberation Sans", sans-serif' >Cell</text>
<text x="248.5" y="147.8" font-size="10.3" font-weight="normal" font-style="normal" text-anchor="middle" dominant-baseline="central" fill="#000" font-family='"Liberation Sans", sans-serif' transform="rotate(-90 248.5 147.8)" >Gene</text>
<text x="382" y="88.8" font-size="10.3" font-weight="normal" font-style="normal" text-anchor="middle" dominant-baseline="central" fill="#000" font-family='"Liberation Sans", sans-serif' >Graph autoencoder</text>
<text x="382.4" y="105" font-size="7.4" font-weight="normal" font-style="normal" text-anchor="middle" dominant-baseline="central" fill="#000" font-family='"Liberation Sans", sans-serif' >Loss</text>
<path d="M412.4,138.5 H425.3 V111.3 H341.2 V137.6 H353" stroke="#000" stroke-width="1.2" fill="none" marker-end="url(#ah)" />
<line x1="315.3" y1="144.3" x2="353" y2="144.3" stroke="#000" stroke-width="1.2" marker-end="url(#ah)"/>
<polygon points="353.5,114.2 375.6,127.5 375.6,160.6 353.5,173.8" fill="#d9d9d9" stroke="#000" stroke-width="1.2"/>
<polygon points="390.9,127.5 412.4,114.2 412.4,173.8 390.9,160.6" fill="#d9d9d9" stroke="#000" stroke-width="1.2"/>
<rect x="379.3" y="129.3" width="8.2" height="15.2" fill="#7a9a40"/>
<rect x="379.3" y="144.5" width="8.2" height="15.2" fill="#ab9dcc"/>
<rect x="382" y="133" width="2.5" height="1.8" fill="#fff"/>
<rect x="384" y="137" width="2.5" height="1.8" fill="#fff"/>
<rect x="381" y="141" width="2.5" height="1.8" fill="#fff"/>
<rect x="383" y="148" width="2.5" height="1.8" fill="#fff"/>
<rect x="381" y="152" width="2.5" height="1.8" fill="#fff"/>
<rect x="384" y="155" width="2.5" height="1.8" fill="#fff"/>
<rect x="379.3" y="129.3" width="8.2" height="30.4" rx="0" fill="none" stroke="#000" stroke-width="1.1"/>
<path d="M383.5,159.7 V175.9 H507.5" stroke="#000" stroke-width="1.2" fill="none" marker-end="url(#ah)" />
<line x1="454.8" y1="175.9" x2="454.8" y2="137" stroke="#000" stroke-width="1.2" marker-end="url(#ah)"/>
<text x="454.7" y="79" font-size="7.3" font-weight="normal" font-style="normal" text-anchor="middle" dominant-baseline="central" fill="#000" font-family='"Liberation Sans", sans-serif' >Embeddings</text>
<text x="439.8" y="109.7" font-size="7.3" font-weight="normal" font-style="normal" text-anchor="middle" dominant-baseline="central" fill="#000" font-family='"Liberation Sans", sans-serif' transform="rotate(-90 439.8 109.7)" >Cells</text>
<line x1="466" y1="110.4" x2="478.5" y2="110.4" stroke="#000" stroke-width="1.2" marker-end="url(#ah)"/>
<text x="506.5" y="68.3" font-size="10.3" font-weight="normal" font-style="normal" text-anchor="middle" dominant-baseline="central" fill="#000" font-family='"Liberation Sans", sans-serif' >Cell</text>
<text x="506.4" y="80.3" font-size="10.3" font-weight="normal" font-style="normal" text-anchor="middle" dominant-baseline="central" fill="#000" font-family='"Liberation Sans", sans-serif' >clusters</text>
<line x1="496.4" y1="93.2" x2="502" y2="94.2" stroke="#e8901c" stroke-width="1.8" opacity="0.85"/>
<line x1="502" y1="94.2" x2="504" y2="96.3" stroke="#e8a040" stroke-width="1.2" opacity="0.85"/>
<line x1="493.2" y1="100" x2="495.6" y2="104.2" stroke="#b8b0f0" stroke-width="0.7" opacity="0.85"/>
<line x1="495.6" y1="104.2" x2="498.2" y2="108" stroke="#a0a0f0" stroke-width="0.8" opacity="0.85"/>
<line x1="517" y1="108.2" x2="522" y2="108.6" stroke="#40a8d8" stroke-width="0.8" opacity="0.85"/>
<line x1="494" y1="98.5" x2="495.5" y2="99.5" stroke="#a8e0f0" stroke-width="1.2" opacity="0.85"/>
<circle cx="495.5" cy="104.2" r="0.8" fill="#2a7a50"/>
<ellipse cx="492.3" cy="92.3" rx="4.18" ry="3.32" fill="#e8901c"/>
<circle cx="489.34" cy="93.03" r="0.5" fill="#e8901c" opacity="0.85"/>
<circle cx="494.71" cy="91.31" r="0.5" fill="#e8901c" opacity="0.85"/>
<circle cx="489.08" cy="92.17" r="0.5" fill="#e8901c" opacity="0.85"/>
<circle cx="493.46" cy="94.41" r="0.5" fill="#e8901c" opacity="0.85"/>
<circle cx="489.36" cy="89.81" r="0.5" fill="#e8901c" opacity="0.85"/>
<circle cx="494.01" cy="93.21" r="0.5" fill="#e8901c" opacity="0.85"/>
<circle cx="496.01" cy="94.19" r="0.5" fill="#e8901c" opacity="0.85"/>
<circle cx="492.05" cy="91.77" r="0.5" fill="#e8901c" opacity="0.85"/>
<circle cx="498.52" cy="91.74" r="0.5" fill="#e8901c" opacity="0.85"/>
<circle cx="490.40" cy="90.11" r="0.5" fill="#e8901c" opacity="0.85"/>
<circle cx="492.53" cy="92.58" r="0.5" fill="#e8901c" opacity="0.85"/>
<circle cx="491.47" cy="92.18" r="0.5" fill="#e8901c" opacity="0.85"/>
<circle cx="492.96" cy="93.63" r="0.5" fill="#e8901c" opacity="0.85"/>
<circle cx="494.95" cy="92.70" r="0.5" fill="#e8901c" opacity="0.85"/>
<circle cx="487.97" cy="93.65" r="0.5" fill="#e8901c" opacity="0.85"/>
<circle cx="488.86" cy="91.97" r="0.5" fill="#e8901c" opacity="0.85"/>
<circle cx="488.73" cy="92.30" r="0.5" fill="#e8901c" opacity="0.85"/>
<circle cx="490.42" cy="92.71" r="0.5" fill="#e8901c" opacity="0.85"/>
<circle cx="500.29" cy="92.21" r="0.5" fill="#e8901c" opacity="0.85"/>
<circle cx="494.34" cy="89.75" r="0.5" fill="#e8901c" opacity="0.85"/>
<circle cx="491.60" cy="93.58" r="0.5" fill="#e8901c" opacity="0.85"/>
<circle cx="492.08" cy="93.01" r="0.5" fill="#e8901c" opacity="0.85"/>
<circle cx="492.55" cy="90.36" r="0.5" fill="#e8901c" opacity="0.85"/>
<circle cx="493.66" cy="90.74" r="0.5" fill="#e8901c" opacity="0.85"/>
<circle cx="496.83" cy="91.33" r="0.5" fill="#e8901c" opacity="0.85"/>
<circle cx="493.96" cy="92.30" r="0.5" fill="#e8901c" opacity="0.85"/>
<circle cx="494.60" cy="91.14" r="0.5" fill="#e8901c" opacity="0.85"/>
<circle cx="494.72" cy="92.06" r="0.5" fill="#e8901c" opacity="0.85"/>
<circle cx="495.36" cy="93.50" r="0.5" fill="#e8901c" opacity="0.85"/>
<circle cx="492.64" cy="90.80" r="0.5" fill="#e8901c" opacity="0.85"/>
<circle cx="494.16" cy="93.20" r="0.5" fill="#e8901c" opacity="0.85"/>
<circle cx="496.27" cy="91.57" r="0.5" fill="#e8901c" opacity="0.85"/>
<circle cx="493.64" cy="93.28" r="0.5" fill="#e8901c" opacity="0.85"/>
<circle cx="492.98" cy="92.70" r="0.5" fill="#e8901c" opacity="0.85"/>
<circle cx="492.74" cy="91.15" r="0.5" fill="#e8901c" opacity="0.85"/>
<circle cx="489.84" cy="91.54" r="0.5" fill="#e8901c" opacity="0.85"/>
<circle cx="493.73" cy="95.21" r="0.5" fill="#e8901c" opacity="0.85"/>
<circle cx="494.66" cy="94.33" r="0.5" fill="#e8901c" opacity="0.85"/>
<circle cx="494.18" cy="93.64" r="0.5" fill="#e8901c" opacity="0.85"/>
<circle cx="492.74" cy="93.79" r="0.5" fill="#e8901c" opacity="0.85"/>
<circle cx="496.59" cy="91.67" r="0.5" fill="#e8901c" opacity="0.85"/>
<circle cx="490.62" cy="96.07" r="0.5" fill="#e8901c" opacity="0.85"/>
<circle cx="492.89" cy="94.17" r="0.5" fill="#e8901c" opacity="0.85"/>
<circle cx="494.41" cy="90.11" r="0.5" fill="#e8901c" opacity="0.85"/>
<circle cx="498.19" cy="95.72" r="0.5" fill="#e8901c" opacity="0.85"/>
<circle cx="492.73" cy="93.75" r="0.5" fill="#e8901c" opacity="0.85"/>
<circle cx="492.61" cy="90.60" r="0.5" fill="#e8901c" opacity="0.85"/>
<circle cx="492.03" cy="93.02" r="0.5" fill="#e8901c" opacity="0.85"/>
<circle cx="495.00" cy="93.67" r="0.5" fill="#e8901c" opacity="0.85"/>
<circle cx="492.44" cy="94.91" r="0.5" fill="#e8901c" opacity="0.85"/>
<circle cx="490.46" cy="93.83" r="0.5" fill="#e8901c" opacity="0.85"/>
<circle cx="494.99" cy="91.74" r="0.5" fill="#e8901c" opacity="0.85"/>
<circle cx="487.97" cy="90.56" r="0.5" fill="#e8901c" opacity="0.85"/>
<circle cx="492.87" cy="93.32" r="0.5" fill="#e8901c" opacity="0.85"/>
<circle cx="496.05" cy="90.37" r="0.5" fill="#e8901c" opacity="0.85"/>
<circle cx="492.30" cy="93.55" r="0.5" fill="#e8901c" opacity="0.85"/>
<ellipse cx="489.5" cy="95.2" rx="3.23" ry="3.61" fill="#2cb82c"/>
<circle cx="489.21" cy="90.25" r="0.5" fill="#2cb82c" opacity="0.85"/>
<circle cx="491.01" cy="100.03" r="0.5" fill="#2cb82c" opacity="0.85"/>
<circle cx="491.38" cy="93.28" r="0.5" fill="#2cb82c" opacity="0.85"/>
<circle cx="488.73" cy="95.66" r="0.5" fill="#2cb82c" opacity="0.85"/>
<circle cx="494.15" cy="96.49" r="0.5" fill="#2cb82c" opacity="0.85"/>
<circle cx="489.71" cy="98.46" r="0.5" fill="#2cb82c" opacity="0.85"/>
<circle cx="489.35" cy="99.09" r="0.5" fill="#2cb82c" opacity="0.85"/>
<circle cx="488.22" cy="94.21" r="0.5" fill="#2cb82c" opacity="0.85"/>
<circle cx="490.85" cy="98.18" r="0.5" fill="#2cb82c" opacity="0.85"/>
<circle cx="490.72" cy="95.83" r="0.5" fill="#2cb82c" opacity="0.85"/>
<circle cx="486.09" cy="93.71" r="0.5" fill="#2cb82c" opacity="0.85"/>
<circle cx="488.36" cy="94.08" r="0.5" fill="#2cb82c" opacity="0.85"/>
<circle cx="490.60" cy="94.50" r="0.5" fill="#2cb82c" opacity="0.85"/>
<circle cx="490.97" cy="95.37" r="0.5" fill="#2cb82c" opacity="0.85"/>
<circle cx="488.88" cy="95.45" r="0.5" fill="#2cb82c" opacity="0.85"/>
<circle cx="490.30" cy="96.99" r="0.5" fill="#2cb82c" opacity="0.85"/>
<circle cx="488.61" cy="94.71" r="0.5" fill="#2cb82c" opacity="0.85"/>
<circle cx="486.95" cy="98.55" r="0.5" fill="#2cb82c" opacity="0.85"/>
<circle cx="492.21" cy="94.83" r="0.5" fill="#2cb82c" opacity="0.85"/>
<circle cx="488.61" cy="92.62" r="0.5" fill="#2cb82c" opacity="0.85"/>
<circle cx="489.82" cy="95.63" r="0.5" fill="#2cb82c" opacity="0.85"/>
<circle cx="493.58" cy="95.71" r="0.5" fill="#2cb82c" opacity="0.85"/>
<circle cx="488.05" cy="90.09" r="0.5" fill="#2cb82c" opacity="0.85"/>
<circle cx="492.14" cy="95.60" r="0.5" fill="#2cb82c" opacity="0.85"/>
<circle cx="486.49" cy="95.58" r="0.5" fill="#2cb82c" opacity="0.85"/>
<circle cx="486.49" cy="102.47" r="0.5" fill="#2cb82c" opacity="0.85"/>
<circle cx="491.59" cy="96.40" r="0.5" fill="#2cb82c" opacity="0.85"/>
<circle cx="489.17" cy="90.73" r="0.5" fill="#2cb82c" opacity="0.85"/>
<circle cx="489.26" cy="91.95" r="0.5" fill="#2cb82c" opacity="0.85"/>
<circle cx="490.61" cy="90.73" r="0.5" fill="#2cb82c" opacity="0.85"/>
<circle cx="487.80" cy="97.75" r="0.5" fill="#2cb82c" opacity="0.85"/>
<circle cx="492.57" cy="92.73" r="0.5" fill="#2cb82c" opacity="0.85"/>
<circle cx="486.63" cy="97.04" r="0.5" fill="#2cb82c" opacity="0.85"/>
<circle cx="491.10" cy="93.14" r="0.5" fill="#2cb82c" opacity="0.85"/>
<circle cx="488.20" cy="93.75" r="0.5" fill="#2cb82c" opacity="0.85"/>
<circle cx="487.28" cy="93.78" r="0.5" fill="#2cb82c" opacity="0.85"/>
<circle cx="491.84" cy="96.64" r="0.5" fill="#2cb82c" opacity="0.85"/>
<circle cx="493.35" cy="95.02" r="0.5" fill="#2cb82c" opacity="0.85"/>
<circle cx="489.25" cy="93.15" r="0.5" fill="#2cb82c" opacity="0.85"/>
<circle cx="489.27" cy="92.46" r="0.5" fill="#2cb82c" opacity="0.85"/>
<circle cx="486.18" cy="96.66" r="0.5" fill="#2cb82c" opacity="0.85"/>
<circle cx="492.19" cy="96.95" r="0.5" fill="#2cb82c" opacity="0.85"/>
<circle cx="491.99" cy="95.73" r="0.5" fill="#2cb82c" opacity="0.85"/>
<circle cx="488.16" cy="95.38" r="0.5" fill="#2cb82c" opacity="0.85"/>
<circle cx="488.80" cy="92.88" r="0.5" fill="#2cb82c" opacity="0.85"/>
<circle cx="486.34" cy="92.10" r="0.5" fill="#2cb82c" opacity="0.85"/>
<circle cx="489.49" cy="95.51" r="0.5" fill="#2cb82c" opacity="0.85"/>
<circle cx="488.61" cy="98.19" r="0.5" fill="#2cb82c" opacity="0.85"/>
<ellipse cx="500.5" cy="88.6" rx="2.18" ry="1.99" fill="#f070d8"/>
<circle cx="500.73" cy="89.27" r="0.5" fill="#f070d8" opacity="0.85"/>
<circle cx="502.04" cy="87.65" r="0.5" fill="#f070d8" opacity="0.85"/>
<circle cx="498.01" cy="89.47" r="0.5" fill="#f070d8" opacity="0.85"/>
<circle cx="499.63" cy="90.11" r="0.5" fill="#f070d8" opacity="0.85"/>
<circle cx="500.93" cy="89.76" r="0.5" fill="#f070d8" opacity="0.85"/>
<circle cx="501.47" cy="86.20" r="0.5" fill="#f070d8" opacity="0.85"/>
<circle cx="501.41" cy="87.82" r="0.5" fill="#f070d8" opacity="0.85"/>
<circle cx="499.54" cy="88.10" r="0.5" fill="#f070d8" opacity="0.85"/>
<circle cx="501.47" cy="89.62" r="0.5" fill="#f070d8" opacity="0.85"/>
<circle cx="501.78" cy="86.68" r="0.5" fill="#f070d8" opacity="0.85"/>
<circle cx="499.75" cy="85.86" r="0.5" fill="#f070d8" opacity="0.85"/>
<circle cx="500.37" cy="89.29" r="0.5" fill="#f070d8" opacity="0.85"/>
<circle cx="499.53" cy="88.88" r="0.5" fill="#f070d8" opacity="0.85"/>
<circle cx="500.79" cy="89.76" r="0.5" fill="#f070d8" opacity="0.85"/>
<circle cx="499.46" cy="87.64" r="0.5" fill="#f070d8" opacity="0.85"/>
<circle cx="499.53" cy="90.62" r="0.5" fill="#f070d8" opacity="0.85"/>
<circle cx="501.88" cy="88.46" r="0.5" fill="#f070d8" opacity="0.85"/>
<circle cx="500.79" cy="88.73" r="0.5" fill="#f070d8" opacity="0.85"/>
<circle cx="500.76" cy="88.36" r="0.5" fill="#f070d8" opacity="0.85"/>
<circle cx="500.08" cy="87.15" r="0.5" fill="#f070d8" opacity="0.85"/>
<circle cx="499.69" cy="90.51" r="0.5" fill="#f070d8" opacity="0.85"/>
<circle cx="501.18" cy="88.67" r="0.5" fill="#f070d8" opacity="0.85"/>
<circle cx="500.23" cy="88.67" r="0.5" fill="#f070d8" opacity="0.85"/>
<circle cx="500.95" cy="87.85" r="0.5" fill="#f070d8" opacity="0.85"/>
<ellipse cx="504.5" cy="91.4" rx="1.33" ry="1.23" fill="#f590dc"/>
<circle cx="504.65" cy="91.57" r="0.5" fill="#f590dc" opacity="0.85"/>
<circle cx="503.92" cy="90.84" r="0.5" fill="#f590dc" opacity="0.85"/>
<circle cx="503.73" cy="90.64" r="0.5" fill="#f590dc" opacity="0.85"/>
<circle cx="505.19" cy="89.71" r="0.5" fill="#f590dc" opacity="0.85"/>
<circle cx="504.29" cy="90.96" r="0.5" fill="#f590dc" opacity="0.85"/>
<circle cx="504.02" cy="91.47" r="0.5" fill="#f590dc" opacity="0.85"/>
<circle cx="505.37" cy="91.45" r="0.5" fill="#f590dc" opacity="0.85"/>
<circle cx="504.39" cy="90.96" r="0.5" fill="#f590dc" opacity="0.85"/>
<circle cx="504.40" cy="92.05" r="0.5" fill="#f590dc" opacity="0.85"/>
<circle cx="504.20" cy="90.58" r="0.5" fill="#f590dc" opacity="0.85"/>
<circle cx="503.53" cy="90.61" r="0.5" fill="#f590dc" opacity="0.85"/>
<circle cx="503.43" cy="92.19" r="0.5" fill="#f590dc" opacity="0.85"/>
<circle cx="504.77" cy="91.23" r="0.5" fill="#f590dc" opacity="0.85"/>
<circle cx="505.62" cy="90.93" r="0.5" fill="#f590dc" opacity="0.85"/>
<circle cx="505.08" cy="91.97" r="0.5" fill="#f590dc" opacity="0.85"/>
<ellipse cx="513.1" cy="107" rx="2.47" ry="3.23" fill="#1898f0"/>
<circle cx="510.89" cy="104.09" r="0.5" fill="#1898f0" opacity="0.85"/>
<circle cx="511.77" cy="108.70" r="0.5" fill="#1898f0" opacity="0.85"/>
<circle cx="514.95" cy="104.70" r="0.5" fill="#1898f0" opacity="0.85"/>
<circle cx="514.60" cy="106.28" r="0.5" fill="#1898f0" opacity="0.85"/>
<circle cx="512.54" cy="105.97" r="0.5" fill="#1898f0" opacity="0.85"/>
<circle cx="512.64" cy="103.60" r="0.5" fill="#1898f0" opacity="0.85"/>
<circle cx="511.67" cy="104.69" r="0.5" fill="#1898f0" opacity="0.85"/>
<circle cx="513.80" cy="110.91" r="0.5" fill="#1898f0" opacity="0.85"/>
<circle cx="517.01" cy="106.37" r="0.5" fill="#1898f0" opacity="0.85"/>
<circle cx="510.64" cy="106.24" r="0.5" fill="#1898f0" opacity="0.85"/>
<circle cx="511.76" cy="110.71" r="0.5" fill="#1898f0" opacity="0.85"/>
<circle cx="513.92" cy="105.64" r="0.5" fill="#1898f0" opacity="0.85"/>
<circle cx="514.44" cy="108.00" r="0.5" fill="#1898f0" opacity="0.85"/>
<circle cx="510.78" cy="106.01" r="0.5" fill="#1898f0" opacity="0.85"/>
<circle cx="512.76" cy="107.04" r="0.5" fill="#1898f0" opacity="0.85"/>
<circle cx="513.29" cy="106.37" r="0.5" fill="#1898f0" opacity="0.85"/>
<circle cx="513.37" cy="105.90" r="0.5" fill="#1898f0" opacity="0.85"/>
<circle cx="511.82" cy="109.83" r="0.5" fill="#1898f0" opacity="0.85"/>
<circle cx="513.62" cy="107.82" r="0.5" fill="#1898f0" opacity="0.85"/>
<circle cx="510.82" cy="106.69" r="0.5" fill="#1898f0" opacity="0.85"/>
<circle cx="514.27" cy="104.59" r="0.5" fill="#1898f0" opacity="0.85"/>
<circle cx="514.67" cy="106.27" r="0.5" fill="#1898f0" opacity="0.85"/>
<circle cx="513.68" cy="106.75" r="0.5" fill="#1898f0" opacity="0.85"/>
<circle cx="513.41" cy="109.25" r="0.5" fill="#1898f0" opacity="0.85"/>
<circle cx="512.52" cy="109.93" r="0.5" fill="#1898f0" opacity="0.85"/>
<circle cx="511.98" cy="105.26" r="0.5" fill="#1898f0" opacity="0.85"/>
<circle cx="514.12" cy="105.01" r="0.5" fill="#1898f0" opacity="0.85"/>
<circle cx="512.57" cy="108.70" r="0.5" fill="#1898f0" opacity="0.85"/>
<circle cx="514.83" cy="103.68" r="0.5" fill="#1898f0" opacity="0.85"/>
<circle cx="513.82" cy="110.52" r="0.5" fill="#1898f0" opacity="0.85"/>
<circle cx="514.81" cy="106.55" r="0.5" fill="#1898f0" opacity="0.85"/>
<circle cx="512.24" cy="106.45" r="0.5" fill="#1898f0" opacity="0.85"/>
<circle cx="511.45" cy="106.51" r="0.5" fill="#1898f0" opacity="0.85"/>
<circle cx="512.83" cy="106.73" r="0.5" fill="#1898f0" opacity="0.85"/>
<circle cx="514.79" cy="106.57" r="0.5" fill="#1898f0" opacity="0.85"/>
<circle cx="511.02" cy="108.97" r="0.5" fill="#1898f0" opacity="0.85"/>
<ellipse cx="527.1" cy="109.8" rx="3.61" ry="3.99" fill="#22c0a8"/>
<circle cx="524.86" cy="108.77" r="0.5" fill="#22c0a8" opacity="0.85"/>
<circle cx="526.82" cy="109.01" r="0.5" fill="#22c0a8" opacity="0.85"/>
<circle cx="525.00" cy="109.22" r="0.5" fill="#22c0a8" opacity="0.85"/>
<circle cx="531.66" cy="108.40" r="0.5" fill="#22c0a8" opacity="0.85"/>
<circle cx="526.82" cy="112.40" r="0.5" fill="#22c0a8" opacity="0.85"/>
<circle cx="528.66" cy="111.56" r="0.5" fill="#22c0a8" opacity="0.85"/>
<circle cx="528.90" cy="105.25" r="0.5" fill="#22c0a8" opacity="0.85"/>
<circle cx="525.29" cy="110.10" r="0.5" fill="#22c0a8" opacity="0.85"/>
<circle cx="528.14" cy="112.79" r="0.5" fill="#22c0a8" opacity="0.85"/>
<circle cx="528.08" cy="109.25" r="0.5" fill="#22c0a8" opacity="0.85"/>
<circle cx="527.18" cy="109.31" r="0.5" fill="#22c0a8" opacity="0.85"/>
<circle cx="527.62" cy="111.36" r="0.5" fill="#22c0a8" opacity="0.85"/>
<circle cx="526.39" cy="107.92" r="0.5" fill="#22c0a8" opacity="0.85"/>
<circle cx="525.31" cy="112.33" r="0.5" fill="#22c0a8" opacity="0.85"/>
<circle cx="529.78" cy="112.09" r="0.5" fill="#22c0a8" opacity="0.85"/>
<circle cx="528.89" cy="111.72" r="0.5" fill="#22c0a8" opacity="0.85"/>
<circle cx="527.10" cy="111.33" r="0.5" fill="#22c0a8" opacity="0.85"/>
<circle cx="524.90" cy="109.33" r="0.5" fill="#22c0a8" opacity="0.85"/>
<circle cx="525.57" cy="111.48" r="0.5" fill="#22c0a8" opacity="0.85"/>
<circle cx="525.89" cy="109.55" r="0.5" fill="#22c0a8" opacity="0.85"/>
<circle cx="527.94" cy="112.93" r="0.5" fill="#22c0a8" opacity="0.85"/>
<circle cx="525.44" cy="107.63" r="0.5" fill="#22c0a8" opacity="0.85"/>
<circle cx="528.81" cy="107.24" r="0.5" fill="#22c0a8" opacity="0.85"/>
<circle cx="528.05" cy="108.48" r="0.5" fill="#22c0a8" opacity="0.85"/>
<circle cx="526.88" cy="105.59" r="0.5" fill="#22c0a8" opacity="0.85"/>
<circle cx="528.59" cy="108.64" r="0.5" fill="#22c0a8" opacity="0.85"/>
<circle cx="525.22" cy="114.60" r="0.5" fill="#22c0a8" opacity="0.85"/>
<circle cx="528.59" cy="117.91" r="0.5" fill="#22c0a8" opacity="0.85"/>
<circle cx="527.95" cy="109.00" r="0.5" fill="#22c0a8" opacity="0.85"/>
<circle cx="527.33" cy="113.51" r="0.5" fill="#22c0a8" opacity="0.85"/>
<circle cx="527.04" cy="110.84" r="0.5" fill="#22c0a8" opacity="0.85"/>
<circle cx="528.18" cy="107.70" r="0.5" fill="#22c0a8" opacity="0.85"/>
<circle cx="527.37" cy="108.64" r="0.5" fill="#22c0a8" opacity="0.85"/>
<circle cx="524.50" cy="111.81" r="0.5" fill="#22c0a8" opacity="0.85"/>
<circle cx="528.49" cy="109.97" r="0.5" fill="#22c0a8" opacity="0.85"/>
<circle cx="525.20" cy="105.17" r="0.5" fill="#22c0a8" opacity="0.85"/>
<circle cx="528.11" cy="109.57" r="0.5" fill="#22c0a8" opacity="0.85"/>
<circle cx="523.58" cy="109.66" r="0.5" fill="#22c0a8" opacity="0.85"/>
<circle cx="523.92" cy="109.74" r="0.5" fill="#22c0a8" opacity="0.85"/>
<circle cx="527.40" cy="110.62" r="0.5" fill="#22c0a8" opacity="0.85"/>
<circle cx="527.55" cy="110.19" r="0.5" fill="#22c0a8" opacity="0.85"/>
<circle cx="524.72" cy="108.91" r="0.5" fill="#22c0a8" opacity="0.85"/>
<circle cx="526.03" cy="109.26" r="0.5" fill="#22c0a8" opacity="0.85"/>
<circle cx="527.66" cy="111.23" r="0.5" fill="#22c0a8" opacity="0.85"/>
<circle cx="530.52" cy="103.87" r="0.5" fill="#22c0a8" opacity="0.85"/>
<circle cx="527.94" cy="109.34" r="0.5" fill="#22c0a8" opacity="0.85"/>
<circle cx="531.86" cy="111.96" r="0.5" fill="#22c0a8" opacity="0.85"/>
<circle cx="523.65" cy="110.73" r="0.5" fill="#22c0a8" opacity="0.85"/>
<circle cx="526.01" cy="112.10" r="0.5" fill="#22c0a8" opacity="0.85"/>
<circle cx="524.89" cy="109.57" r="0.5" fill="#22c0a8" opacity="0.85"/>
<circle cx="526.83" cy="109.58" r="0.5" fill="#22c0a8" opacity="0.85"/>
<circle cx="525.88" cy="105.55" r="0.5" fill="#22c0a8" opacity="0.85"/>
<circle cx="528.06" cy="112.11" r="0.5" fill="#22c0a8" opacity="0.85"/>
<circle cx="526.96" cy="107.45" r="0.5" fill="#22c0a8" opacity="0.85"/>
<circle cx="527.52" cy="111.11" r="0.5" fill="#22c0a8" opacity="0.85"/>
<circle cx="526.73" cy="109.77" r="0.5" fill="#22c0a8" opacity="0.85"/>
<circle cx="530.04" cy="107.22" r="0.5" fill="#22c0a8" opacity="0.85"/>
<ellipse cx="484" cy="112.9" rx="3.61" ry="3.99" fill="#18b870"/>
<circle cx="482.83" cy="108.50" r="0.5" fill="#18b870" opacity="0.85"/>
<circle cx="482.54" cy="111.19" r="0.5" fill="#18b870" opacity="0.85"/>
<circle cx="481.99" cy="111.30" r="0.5" fill="#18b870" opacity="0.85"/>
<circle cx="487.76" cy="112.45" r="0.5" fill="#18b870" opacity="0.85"/>
<circle cx="483.76" cy="117.98" r="0.5" fill="#18b870" opacity="0.85"/>
<circle cx="483.87" cy="108.89" r="0.5" fill="#18b870" opacity="0.85"/>
<circle cx="484.84" cy="110.74" r="0.5" fill="#18b870" opacity="0.85"/>
<circle cx="487.43" cy="110.02" r="0.5" fill="#18b870" opacity="0.85"/>
<circle cx="482.79" cy="109.19" r="0.5" fill="#18b870" opacity="0.85"/>
<circle cx="484.20" cy="110.55" r="0.5" fill="#18b870" opacity="0.85"/>
<circle cx="483.86" cy="112.03" r="0.5" fill="#18b870" opacity="0.85"/>
<circle cx="482.72" cy="115.08" r="0.5" fill="#18b870" opacity="0.85"/>
<circle cx="485.96" cy="113.04" r="0.5" fill="#18b870" opacity="0.85"/>
<circle cx="482.12" cy="110.43" r="0.5" fill="#18b870" opacity="0.85"/>
<circle cx="484.56" cy="118.42" r="0.5" fill="#18b870" opacity="0.85"/>
<circle cx="483.05" cy="111.09" r="0.5" fill="#18b870" opacity="0.85"/>
<circle cx="482.54" cy="110.37" r="0.5" fill="#18b870" opacity="0.85"/>
<circle cx="481.97" cy="112.43" r="0.5" fill="#18b870" opacity="0.85"/>
<circle cx="487.00" cy="112.90" r="0.5" fill="#18b870" opacity="0.85"/>
<circle cx="482.93" cy="109.17" r="0.5" fill="#18b870" opacity="0.85"/>
<circle cx="484.45" cy="112.84" r="0.5" fill="#18b870" opacity="0.85"/>
<circle cx="481.44" cy="110.39" r="0.5" fill="#18b870" opacity="0.85"/>
<circle cx="483.91" cy="115.24" r="0.5" fill="#18b870" opacity="0.85"/>
<circle cx="485.31" cy="113.37" r="0.5" fill="#18b870" opacity="0.85"/>
<circle cx="483.32" cy="113.64" r="0.5" fill="#18b870" opacity="0.85"/>
<circle cx="483.97" cy="117.92" r="0.5" fill="#18b870" opacity="0.85"/>
<circle cx="481.63" cy="112.05" r="0.5" fill="#18b870" opacity="0.85"/>
<circle cx="486.65" cy="112.29" r="0.5" fill="#18b870" opacity="0.85"/>
<circle cx="486.98" cy="112.80" r="0.5" fill="#18b870" opacity="0.85"/>
<circle cx="484.30" cy="112.04" r="0.5" fill="#18b870" opacity="0.85"/>
<circle cx="481.11" cy="110.66" r="0.5" fill="#18b870" opacity="0.85"/>
<circle cx="488.63" cy="114.39" r="0.5" fill="#18b870" opacity="0.85"/>
<circle cx="485.27" cy="115.10" r="0.5" fill="#18b870" opacity="0.85"/>
<circle cx="485.19" cy="115.26" r="0.5" fill="#18b870" opacity="0.85"/>
<circle cx="483.44" cy="112.38" r="0.5" fill="#18b870" opacity="0.85"/>
<circle cx="486.06" cy="112.09" r="0.5" fill="#18b870" opacity="0.85"/>
<circle cx="481.22" cy="112.38" r="0.5" fill="#18b870" opacity="0.85"/>
<circle cx="482.86" cy="114.32" r="0.5" fill="#18b870" opacity="0.85"/>
<circle cx="482.49" cy="110.45" r="0.5" fill="#18b870" opacity="0.85"/>
<circle cx="483.31" cy="116.49" r="0.5" fill="#18b870" opacity="0.85"/>
<circle cx="483.90" cy="113.27" r="0.5" fill="#18b870" opacity="0.85"/>
<circle cx="484.02" cy="113.58" r="0.5" fill="#18b870" opacity="0.85"/>
<circle cx="485.94" cy="116.12" r="0.5" fill="#18b870" opacity="0.85"/>
<circle cx="480.56" cy="116.04" r="0.5" fill="#18b870" opacity="0.85"/>
<circle cx="483.99" cy="112.16" r="0.5" fill="#18b870" opacity="0.85"/>
<circle cx="489.01" cy="112.51" r="0.5" fill="#18b870" opacity="0.85"/>
<circle cx="488.06" cy="115.14" r="0.5" fill="#18b870" opacity="0.85"/>
<circle cx="481.85" cy="114.03" r="0.5" fill="#18b870" opacity="0.85"/>
<circle cx="485.54" cy="112.61" r="0.5" fill="#18b870" opacity="0.85"/>
<circle cx="479.13" cy="112.11" r="0.5" fill="#18b870" opacity="0.85"/>
<circle cx="483.60" cy="110.34" r="0.5" fill="#18b870" opacity="0.85"/>
<circle cx="487.82" cy="112.34" r="0.5" fill="#18b870" opacity="0.85"/>
<circle cx="483.18" cy="112.21" r="0.5" fill="#18b870" opacity="0.85"/>
<circle cx="482.36" cy="111.11" r="0.5" fill="#18b870" opacity="0.85"/>
<circle cx="484.20" cy="113.62" r="0.5" fill="#18b870" opacity="0.85"/>
<circle cx="482.94" cy="112.69" r="0.5" fill="#18b870" opacity="0.85"/>
<circle cx="481.09" cy="114.11" r="0.5" fill="#18b870" opacity="0.85"/>
<ellipse cx="487.2" cy="116.2" rx="2.75" ry="3.99" fill="#98ac28"/>
<circle cx="486.00" cy="116.70" r="0.5" fill="#98ac28" opacity="0.85"/>
<circle cx="485.75" cy="115.01" r="0.5" fill="#98ac28" opacity="0.85"/>
<circle cx="487.54" cy="113.40" r="0.5" fill="#98ac28" opacity="0.85"/>
<circle cx="491.14" cy="116.12" r="0.5" fill="#98ac28" opacity="0.85"/>
<circle cx="487.08" cy="114.50" r="0.5" fill="#98ac28" opacity="0.85"/>
<circle cx="489.74" cy="119.40" r="0.5" fill="#98ac28" opacity="0.85"/>
<circle cx="487.68" cy="113.04" r="0.5" fill="#98ac28" opacity="0.85"/>
<circle cx="486.40" cy="117.62" r="0.5" fill="#98ac28" opacity="0.85"/>
<circle cx="486.38" cy="113.46" r="0.5" fill="#98ac28" opacity="0.85"/>
<circle cx="485.31" cy="114.42" r="0.5" fill="#98ac28" opacity="0.85"/>
<circle cx="487.22" cy="114.70" r="0.5" fill="#98ac28" opacity="0.85"/>
<circle cx="487.23" cy="122.65" r="0.5" fill="#98ac28" opacity="0.85"/>
<circle cx="490.03" cy="113.80" r="0.5" fill="#98ac28" opacity="0.85"/>
<circle cx="487.75" cy="116.40" r="0.5" fill="#98ac28" opacity="0.85"/>
<circle cx="486.98" cy="118.61" r="0.5" fill="#98ac28" opacity="0.85"/>
<circle cx="486.67" cy="115.45" r="0.5" fill="#98ac28" opacity="0.85"/>
<circle cx="486.60" cy="115.97" r="0.5" fill="#98ac28" opacity="0.85"/>
<circle cx="489.25" cy="117.99" r="0.5" fill="#98ac28" opacity="0.85"/>
<circle cx="485.06" cy="115.18" r="0.5" fill="#98ac28" opacity="0.85"/>
<circle cx="485.93" cy="118.09" r="0.5" fill="#98ac28" opacity="0.85"/>
<circle cx="487.56" cy="118.26" r="0.5" fill="#98ac28" opacity="0.85"/>
<circle cx="487.10" cy="111.79" r="0.5" fill="#98ac28" opacity="0.85"/>
<circle cx="487.92" cy="116.73" r="0.5" fill="#98ac28" opacity="0.85"/>
<circle cx="488.01" cy="113.19" r="0.5" fill="#98ac28" opacity="0.85"/>
<circle cx="487.33" cy="114.61" r="0.5" fill="#98ac28" opacity="0.85"/>
<circle cx="486.10" cy="117.02" r="0.5" fill="#98ac28" opacity="0.85"/>
<circle cx="487.76" cy="114.14" r="0.5" fill="#98ac28" opacity="0.85"/>
<circle cx="484.47" cy="110.48" r="0.5" fill="#98ac28" opacity="0.85"/>
<circle cx="486.28" cy="118.79" r="0.5" fill="#98ac28" opacity="0.85"/>
<circle cx="487.11" cy="111.00" r="0.5" fill="#98ac28" opacity="0.85"/>
<circle cx="485.82" cy="117.17" r="0.5" fill="#98ac28" opacity="0.85"/>
<circle cx="489.87" cy="118.90" r="0.5" fill="#98ac28" opacity="0.85"/>
<circle cx="487.78" cy="116.66" r="0.5" fill="#98ac28" opacity="0.85"/>
<circle cx="485.51" cy="115.16" r="0.5" fill="#98ac28" opacity="0.85"/>
<circle cx="486.67" cy="114.41" r="0.5" fill="#98ac28" opacity="0.85"/>
<circle cx="487.30" cy="115.29" r="0.5" fill="#98ac28" opacity="0.85"/>
<circle cx="487.74" cy="119.51" r="0.5" fill="#98ac28" opacity="0.85"/>
<circle cx="488.38" cy="117.17" r="0.5" fill="#98ac28" opacity="0.85"/>
<circle cx="486.82" cy="112.69" r="0.5" fill="#98ac28" opacity="0.85"/>
<circle cx="487.02" cy="117.46" r="0.5" fill="#98ac28" opacity="0.85"/>
<circle cx="485.59" cy="119.10" r="0.5" fill="#98ac28" opacity="0.85"/>
<circle cx="486.67" cy="117.06" r="0.5" fill="#98ac28" opacity="0.85"/>
<circle cx="486.68" cy="113.30" r="0.5" fill="#98ac28" opacity="0.85"/>
<circle cx="490.50" cy="113.52" r="0.5" fill="#98ac28" opacity="0.85"/>
<circle cx="488.66" cy="114.92" r="0.5" fill="#98ac28" opacity="0.85"/>
<circle cx="487.64" cy="114.34" r="0.5" fill="#98ac28" opacity="0.85"/>
<ellipse cx="485.8" cy="124" rx="3.61" ry="4.56" fill="#f27a70"/>
<circle cx="484.93" cy="126.43" r="0.5" fill="#f27a70" opacity="0.85"/>
<circle cx="489.87" cy="121.76" r="0.5" fill="#f27a70" opacity="0.85"/>
<circle cx="485.82" cy="126.50" r="0.5" fill="#f27a70" opacity="0.85"/>
<circle cx="484.48" cy="125.88" r="0.5" fill="#f27a70" opacity="0.85"/>
<circle cx="484.16" cy="125.59" r="0.5" fill="#f27a70" opacity="0.85"/>
<circle cx="486.71" cy="127.20" r="0.5" fill="#f27a70" opacity="0.85"/>
<circle cx="486.56" cy="120.85" r="0.5" fill="#f27a70" opacity="0.85"/>
<circle cx="487.19" cy="121.09" r="0.5" fill="#f27a70" opacity="0.85"/>
<circle cx="487.37" cy="127.99" r="0.5" fill="#f27a70" opacity="0.85"/>
<circle cx="487.05" cy="122.54" r="0.5" fill="#f27a70" opacity="0.85"/>
<circle cx="488.29" cy="124.44" r="0.5" fill="#f27a70" opacity="0.85"/>
<circle cx="483.20" cy="123.06" r="0.5" fill="#f27a70" opacity="0.85"/>
<circle cx="488.77" cy="123.20" r="0.5" fill="#f27a70" opacity="0.85"/>
<circle cx="486.05" cy="123.09" r="0.5" fill="#f27a70" opacity="0.85"/>
<circle cx="482.28" cy="122.65" r="0.5" fill="#f27a70" opacity="0.85"/>
<circle cx="486.55" cy="124.55" r="0.5" fill="#f27a70" opacity="0.85"/>
<circle cx="485.44" cy="118.36" r="0.5" fill="#f27a70" opacity="0.85"/>
<circle cx="488.35" cy="125.90" r="0.5" fill="#f27a70" opacity="0.85"/>
<circle cx="487.94" cy="127.43" r="0.5" fill="#f27a70" opacity="0.85"/>
<circle cx="484.87" cy="122.40" r="0.5" fill="#f27a70" opacity="0.85"/>
<circle cx="486.46" cy="128.42" r="0.5" fill="#f27a70" opacity="0.85"/>
<circle cx="482.28" cy="123.39" r="0.5" fill="#f27a70" opacity="0.85"/>
<circle cx="484.31" cy="125.48" r="0.5" fill="#f27a70" opacity="0.85"/>
<circle cx="488.86" cy="123.22" r="0.5" fill="#f27a70" opacity="0.85"/>
<circle cx="483.21" cy="124.13" r="0.5" fill="#f27a70" opacity="0.85"/>
<circle cx="485.20" cy="119.93" r="0.5" fill="#f27a70" opacity="0.85"/>
<circle cx="487.65" cy="122.62" r="0.5" fill="#f27a70" opacity="0.85"/>
<circle cx="487.23" cy="120.53" r="0.5" fill="#f27a70" opacity="0.85"/>
<circle cx="488.09" cy="120.20" r="0.5" fill="#f27a70" opacity="0.85"/>
<circle cx="488.00" cy="119.22" r="0.5" fill="#f27a70" opacity="0.85"/>
<circle cx="488.68" cy="123.01" r="0.5" fill="#f27a70" opacity="0.85"/>
<circle cx="482.55" cy="123.38" r="0.5" fill="#f27a70" opacity="0.85"/>
<circle cx="486.51" cy="121.38" r="0.5" fill="#f27a70" opacity="0.85"/>
<circle cx="484.77" cy="124.71" r="0.5" fill="#f27a70" opacity="0.85"/>
<circle cx="485.45" cy="115.91" r="0.5" fill="#f27a70" opacity="0.85"/>
<circle cx="484.90" cy="125.13" r="0.5" fill="#f27a70" opacity="0.85"/>
<circle cx="486.42" cy="126.66" r="0.5" fill="#f27a70" opacity="0.85"/>
<circle cx="484.36" cy="130.74" r="0.5" fill="#f27a70" opacity="0.85"/>
<circle cx="487.47" cy="124.82" r="0.5" fill="#f27a70" opacity="0.85"/>
<circle cx="488.07" cy="126.52" r="0.5" fill="#f27a70" opacity="0.85"/>
<circle cx="486.01" cy="122.36" r="0.5" fill="#f27a70" opacity="0.85"/>
<circle cx="487.94" cy="125.12" r="0.5" fill="#f27a70" opacity="0.85"/>
<circle cx="481.84" cy="121.08" r="0.5" fill="#f27a70" opacity="0.85"/>
<circle cx="486.78" cy="124.29" r="0.5" fill="#f27a70" opacity="0.85"/>
<circle cx="486.39" cy="125.69" r="0.5" fill="#f27a70" opacity="0.85"/>
<circle cx="486.10" cy="128.18" r="0.5" fill="#f27a70" opacity="0.85"/>
<circle cx="484.57" cy="122.95" r="0.5" fill="#f27a70" opacity="0.85"/>
<circle cx="486.47" cy="125.97" r="0.5" fill="#f27a70" opacity="0.85"/>
<circle cx="487.45" cy="127.93" r="0.5" fill="#f27a70" opacity="0.85"/>
<circle cx="484.80" cy="127.08" r="0.5" fill="#f27a70" opacity="0.85"/>
<circle cx="486.78" cy="121.25" r="0.5" fill="#f27a70" opacity="0.85"/>
<circle cx="485.51" cy="129.51" r="0.5" fill="#f27a70" opacity="0.85"/>
<circle cx="487.44" cy="122.76" r="0.5" fill="#f27a70" opacity="0.85"/>
<circle cx="480.79" cy="122.06" r="0.5" fill="#f27a70" opacity="0.85"/>
<circle cx="484.33" cy="124.20" r="0.5" fill="#f27a70" opacity="0.85"/>
<circle cx="490.63" cy="125.97" r="0.5" fill="#f27a70" opacity="0.85"/>
<circle cx="486.45" cy="121.53" r="0.5" fill="#f27a70" opacity="0.85"/>
<circle cx="483.32" cy="123.45" r="0.5" fill="#f27a70" opacity="0.85"/>
<circle cx="484.82" cy="131.94" r="0.5" fill="#f27a70" opacity="0.85"/>
<circle cx="484.96" cy="122.37" r="0.5" fill="#f27a70" opacity="0.85"/>
<circle cx="488.16" cy="124.20" r="0.5" fill="#f27a70" opacity="0.85"/>
<circle cx="483.22" cy="127.40" r="0.5" fill="#f27a70" opacity="0.85"/>
<circle cx="485.15" cy="120.49" r="0.5" fill="#f27a70" opacity="0.85"/>
<circle cx="486.47" cy="125.29" r="0.5" fill="#f27a70" opacity="0.85"/>
<ellipse cx="488.8" cy="130.9" rx="1.80" ry="1.99" fill="#e070f0"/>
<circle cx="488.45" cy="131.71" r="0.5" fill="#e070f0" opacity="0.85"/>
<circle cx="489.66" cy="129.88" r="0.5" fill="#e070f0" opacity="0.85"/>
<circle cx="486.65" cy="128.14" r="0.5" fill="#e070f0" opacity="0.85"/>
<circle cx="488.67" cy="132.32" r="0.5" fill="#e070f0" opacity="0.85"/>
<circle cx="489.85" cy="132.51" r="0.5" fill="#e070f0" opacity="0.85"/>
<circle cx="490.74" cy="130.92" r="0.5" fill="#e070f0" opacity="0.85"/>
<circle cx="489.90" cy="129.13" r="0.5" fill="#e070f0" opacity="0.85"/>
<circle cx="489.52" cy="131.35" r="0.5" fill="#e070f0" opacity="0.85"/>
<circle cx="488.70" cy="130.39" r="0.5" fill="#e070f0" opacity="0.85"/>
<circle cx="487.63" cy="131.06" r="0.5" fill="#e070f0" opacity="0.85"/>
<circle cx="490.14" cy="130.48" r="0.5" fill="#e070f0" opacity="0.85"/>
<circle cx="489.36" cy="130.13" r="0.5" fill="#e070f0" opacity="0.85"/>
<circle cx="489.07" cy="129.74" r="0.5" fill="#e070f0" opacity="0.85"/>
<circle cx="489.20" cy="130.65" r="0.5" fill="#e070f0" opacity="0.85"/>
<circle cx="489.13" cy="130.20" r="0.5" fill="#e070f0" opacity="0.85"/>
<circle cx="487.57" cy="130.52" r="0.5" fill="#e070f0" opacity="0.85"/>
<circle cx="489.88" cy="132.72" r="0.5" fill="#e070f0" opacity="0.85"/>
<circle cx="488.46" cy="131.82" r="0.5" fill="#e070f0" opacity="0.85"/>
<circle cx="489.59" cy="131.35" r="0.5" fill="#e070f0" opacity="0.85"/>
<circle cx="487.18" cy="131.27" r="0.5" fill="#e070f0" opacity="0.85"/>
<circle cx="487.79" cy="132.26" r="0.5" fill="#e070f0" opacity="0.85"/>
<ellipse cx="498.2" cy="110.6" rx="2.18" ry="3.13" fill="#8c8cf8"/>
<circle cx="499.20" cy="111.72" r="0.5" fill="#8c8cf8" opacity="0.85"/>
<circle cx="494.99" cy="111.73" r="0.5" fill="#8c8cf8" opacity="0.85"/>
<circle cx="499.09" cy="108.28" r="0.5" fill="#8c8cf8" opacity="0.85"/>
<circle cx="499.43" cy="110.74" r="0.5" fill="#8c8cf8" opacity="0.85"/>
<circle cx="497.97" cy="109.31" r="0.5" fill="#8c8cf8" opacity="0.85"/>
<circle cx="496.91" cy="109.81" r="0.5" fill="#8c8cf8" opacity="0.85"/>
<circle cx="502.10" cy="110.97" r="0.5" fill="#8c8cf8" opacity="0.85"/>
<circle cx="498.46" cy="109.42" r="0.5" fill="#8c8cf8" opacity="0.85"/>
<circle cx="497.42" cy="109.60" r="0.5" fill="#8c8cf8" opacity="0.85"/>
<circle cx="497.08" cy="112.19" r="0.5" fill="#8c8cf8" opacity="0.85"/>
<circle cx="497.86" cy="112.17" r="0.5" fill="#8c8cf8" opacity="0.85"/>
<circle cx="496.74" cy="112.29" r="0.5" fill="#8c8cf8" opacity="0.85"/>
<circle cx="498.17" cy="111.81" r="0.5" fill="#8c8cf8" opacity="0.85"/>
<circle cx="498.07" cy="108.99" r="0.5" fill="#8c8cf8" opacity="0.85"/>
<circle cx="499.73" cy="109.81" r="0.5" fill="#8c8cf8" opacity="0.85"/>
<circle cx="498.01" cy="108.99" r="0.5" fill="#8c8cf8" opacity="0.85"/>
<circle cx="498.46" cy="109.89" r="0.5" fill="#8c8cf8" opacity="0.85"/>
<circle cx="498.56" cy="111.23" r="0.5" fill="#8c8cf8" opacity="0.85"/>
<circle cx="497.33" cy="108.04" r="0.5" fill="#8c8cf8" opacity="0.85"/>
<circle cx="498.75" cy="112.27" r="0.5" fill="#8c8cf8" opacity="0.85"/>
<circle cx="499.08" cy="108.52" r="0.5" fill="#8c8cf8" opacity="0.85"/>
<circle cx="498.97" cy="111.30" r="0.5" fill="#8c8cf8" opacity="0.85"/>
<circle cx="498.56" cy="111.38" r="0.5" fill="#8c8cf8" opacity="0.85"/>
<circle cx="497.79" cy="110.99" r="0.5" fill="#8c8cf8" opacity="0.85"/>
<circle cx="499.37" cy="109.68" r="0.5" fill="#8c8cf8" opacity="0.85"/>
<circle cx="496.38" cy="110.41" r="0.5" fill="#8c8cf8" opacity="0.85"/>
<circle cx="498.45" cy="107.25" r="0.5" fill="#8c8cf8" opacity="0.85"/>
<circle cx="497.34" cy="111.67" r="0.5" fill="#8c8cf8" opacity="0.85"/>
<circle cx="498.01" cy="110.77" r="0.5" fill="#8c8cf8" opacity="0.85"/>
<circle cx="496.61" cy="112.25" r="0.5" fill="#8c8cf8" opacity="0.85"/>
<circle cx="500.42" cy="110.24" r="0.5" fill="#8c8cf8" opacity="0.85"/>
<circle cx="497.27" cy="108.50" r="0.5" fill="#8c8cf8" opacity="0.85"/>
<ellipse cx="496.9" cy="119.8" rx="3.04" ry="4.56" fill="#20b8d8"/>
<circle cx="498.47" cy="120.08" r="0.5" fill="#20b8d8" opacity="0.85"/>
<circle cx="495.50" cy="123.00" r="0.5" fill="#20b8d8" opacity="0.85"/>
<circle cx="498.25" cy="121.39" r="0.5" fill="#20b8d8" opacity="0.85"/>
<circle cx="493.80" cy="119.53" r="0.5" fill="#20b8d8" opacity="0.85"/>
<circle cx="498.00" cy="116.57" r="0.5" fill="#20b8d8" opacity="0.85"/>
<circle cx="498.53" cy="123.58" r="0.5" fill="#20b8d8" opacity="0.85"/>
<circle cx="498.72" cy="117.89" r="0.5" fill="#20b8d8" opacity="0.85"/>
<circle cx="495.65" cy="122.29" r="0.5" fill="#20b8d8" opacity="0.85"/>
<circle cx="498.65" cy="123.05" r="0.5" fill="#20b8d8" opacity="0.85"/>
<circle cx="499.01" cy="119.54" r="0.5" fill="#20b8d8" opacity="0.85"/>
<circle cx="496.18" cy="114.90" r="0.5" fill="#20b8d8" opacity="0.85"/>
<circle cx="498.28" cy="125.81" r="0.5" fill="#20b8d8" opacity="0.85"/>
<circle cx="496.08" cy="118.54" r="0.5" fill="#20b8d8" opacity="0.85"/>
<circle cx="498.04" cy="120.79" r="0.5" fill="#20b8d8" opacity="0.85"/>
<circle cx="494.49" cy="117.91" r="0.5" fill="#20b8d8" opacity="0.85"/>
<circle cx="494.97" cy="125.14" r="0.5" fill="#20b8d8" opacity="0.85"/>
<circle cx="495.64" cy="122.05" r="0.5" fill="#20b8d8" opacity="0.85"/>
<circle cx="500.28" cy="124.80" r="0.5" fill="#20b8d8" opacity="0.85"/>
<circle cx="499.41" cy="124.10" r="0.5" fill="#20b8d8" opacity="0.85"/>
<circle cx="494.73" cy="118.89" r="0.5" fill="#20b8d8" opacity="0.85"/>
<circle cx="495.62" cy="119.03" r="0.5" fill="#20b8d8" opacity="0.85"/>
<circle cx="501.51" cy="115.37" r="0.5" fill="#20b8d8" opacity="0.85"/>
<circle cx="497.88" cy="116.54" r="0.5" fill="#20b8d8" opacity="0.85"/>
<circle cx="499.26" cy="123.23" r="0.5" fill="#20b8d8" opacity="0.85"/>
<circle cx="496.00" cy="125.26" r="0.5" fill="#20b8d8" opacity="0.85"/>
<circle cx="497.03" cy="123.24" r="0.5" fill="#20b8d8" opacity="0.85"/>
<circle cx="497.45" cy="118.32" r="0.5" fill="#20b8d8" opacity="0.85"/>
<circle cx="496.23" cy="119.49" r="0.5" fill="#20b8d8" opacity="0.85"/>
<circle cx="497.99" cy="120.13" r="0.5" fill="#20b8d8" opacity="0.85"/>
<circle cx="501.05" cy="119.29" r="0.5" fill="#20b8d8" opacity="0.85"/>
<circle cx="496.08" cy="117.90" r="0.5" fill="#20b8d8" opacity="0.85"/>
<circle cx="495.53" cy="116.00" r="0.5" fill="#20b8d8" opacity="0.85"/>
<circle cx="495.17" cy="122.19" r="0.5" fill="#20b8d8" opacity="0.85"/>
<circle cx="497.01" cy="119.35" r="0.5" fill="#20b8d8" opacity="0.85"/>
<circle cx="497.52" cy="122.62" r="0.5" fill="#20b8d8" opacity="0.85"/>
<circle cx="497.98" cy="121.84" r="0.5" fill="#20b8d8" opacity="0.85"/>
<circle cx="495.91" cy="119.11" r="0.5" fill="#20b8d8" opacity="0.85"/>
<circle cx="495.53" cy="119.54" r="0.5" fill="#20b8d8" opacity="0.85"/>
<circle cx="495.46" cy="118.82" r="0.5" fill="#20b8d8" opacity="0.85"/>
<circle cx="496.59" cy="119.23" r="0.5" fill="#20b8d8" opacity="0.85"/>
<circle cx="496.43" cy="118.50" r="0.5" fill="#20b8d8" opacity="0.85"/>
<circle cx="499.21" cy="118.90" r="0.5" fill="#20b8d8" opacity="0.85"/>
<circle cx="495.12" cy="120.31" r="0.5" fill="#20b8d8" opacity="0.85"/>
<circle cx="494.98" cy="116.97" r="0.5" fill="#20b8d8" opacity="0.85"/>
<circle cx="497.05" cy="115.40" r="0.5" fill="#20b8d8" opacity="0.85"/>
<circle cx="491.23" cy="120.56" r="0.5" fill="#20b8d8" opacity="0.85"/>
<circle cx="498.72" cy="115.39" r="0.5" fill="#20b8d8" opacity="0.85"/>
<circle cx="495.32" cy="121.32" r="0.5" fill="#20b8d8" opacity="0.85"/>
<circle cx="493.40" cy="117.49" r="0.5" fill="#20b8d8" opacity="0.85"/>
<circle cx="494.78" cy="119.28" r="0.5" fill="#20b8d8" opacity="0.85"/>
<circle cx="493.43" cy="122.16" r="0.5" fill="#20b8d8" opacity="0.85"/>
<circle cx="496.65" cy="120.60" r="0.5" fill="#20b8d8" opacity="0.85"/>
<circle cx="496.32" cy="114.20" r="0.5" fill="#20b8d8" opacity="0.85"/>
<circle cx="496.63" cy="116.26" r="0.5" fill="#20b8d8" opacity="0.85"/>
<circle cx="496.92" cy="117.55" r="0.5" fill="#20b8d8" opacity="0.85"/>
<circle cx="496.34" cy="119.24" r="0.5" fill="#20b8d8" opacity="0.85"/>
<ellipse cx="499.2" cy="130.9" rx="3.13" ry="3.61" fill="#c89a18"/>
<circle cx="500.60" cy="132.50" r="0.5" fill="#c89a18" opacity="0.85"/>
<circle cx="497.38" cy="130.87" r="0.5" fill="#c89a18" opacity="0.85"/>
<circle cx="501.85" cy="131.93" r="0.5" fill="#c89a18" opacity="0.85"/>
<circle cx="497.88" cy="130.65" r="0.5" fill="#c89a18" opacity="0.85"/>
<circle cx="498.57" cy="132.87" r="0.5" fill="#c89a18" opacity="0.85"/>
<circle cx="499.26" cy="131.68" r="0.5" fill="#c89a18" opacity="0.85"/>
<circle cx="503.21" cy="128.02" r="0.5" fill="#c89a18" opacity="0.85"/>
<circle cx="497.36" cy="127.28" r="0.5" fill="#c89a18" opacity="0.85"/>
<circle cx="496.31" cy="132.69" r="0.5" fill="#c89a18" opacity="0.85"/>
<circle cx="499.73" cy="134.31" r="0.5" fill="#c89a18" opacity="0.85"/>
<circle cx="495.62" cy="129.06" r="0.5" fill="#c89a18" opacity="0.85"/>
<circle cx="501.82" cy="133.05" r="0.5" fill="#c89a18" opacity="0.85"/>
<circle cx="500.81" cy="132.72" r="0.5" fill="#c89a18" opacity="0.85"/>
<circle cx="499.26" cy="130.88" r="0.5" fill="#c89a18" opacity="0.85"/>
<circle cx="499.26" cy="132.66" r="0.5" fill="#c89a18" opacity="0.85"/>
<circle cx="498.90" cy="131.57" r="0.5" fill="#c89a18" opacity="0.85"/>
<circle cx="501.84" cy="128.55" r="0.5" fill="#c89a18" opacity="0.85"/>
<circle cx="497.84" cy="132.08" r="0.5" fill="#c89a18" opacity="0.85"/>
<circle cx="498.72" cy="130.57" r="0.5" fill="#c89a18" opacity="0.85"/>
<circle cx="503.01" cy="131.77" r="0.5" fill="#c89a18" opacity="0.85"/>
<circle cx="498.44" cy="133.19" r="0.5" fill="#c89a18" opacity="0.85"/>
<circle cx="503.77" cy="128.58" r="0.5" fill="#c89a18" opacity="0.85"/>
<circle cx="497.98" cy="131.14" r="0.5" fill="#c89a18" opacity="0.85"/>
<circle cx="498.05" cy="135.44" r="0.5" fill="#c89a18" opacity="0.85"/>
<circle cx="500.15" cy="130.07" r="0.5" fill="#c89a18" opacity="0.85"/>
<circle cx="500.09" cy="129.24" r="0.5" fill="#c89a18" opacity="0.85"/>
<circle cx="498.10" cy="131.12" r="0.5" fill="#c89a18" opacity="0.85"/>
<circle cx="503.53" cy="126.20" r="0.5" fill="#c89a18" opacity="0.85"/>
<circle cx="499.96" cy="133.72" r="0.5" fill="#c89a18" opacity="0.85"/>
<circle cx="500.54" cy="134.92" r="0.5" fill="#c89a18" opacity="0.85"/>
<circle cx="500.02" cy="131.21" r="0.5" fill="#c89a18" opacity="0.85"/>
<circle cx="498.96" cy="129.11" r="0.5" fill="#c89a18" opacity="0.85"/>
<circle cx="502.17" cy="128.43" r="0.5" fill="#c89a18" opacity="0.85"/>
<circle cx="498.98" cy="129.80" r="0.5" fill="#c89a18" opacity="0.85"/>
<circle cx="497.78" cy="126.26" r="0.5" fill="#c89a18" opacity="0.85"/>
<circle cx="498.51" cy="131.19" r="0.5" fill="#c89a18" opacity="0.85"/>
<circle cx="499.46" cy="132.67" r="0.5" fill="#c89a18" opacity="0.85"/>
<circle cx="498.91" cy="129.56" r="0.5" fill="#c89a18" opacity="0.85"/>
<circle cx="499.76" cy="132.29" r="0.5" fill="#c89a18" opacity="0.85"/>
<circle cx="497.56" cy="127.72" r="0.5" fill="#c89a18" opacity="0.85"/>
<circle cx="497.34" cy="133.11" r="0.5" fill="#c89a18" opacity="0.85"/>
<circle cx="501.01" cy="129.05" r="0.5" fill="#c89a18" opacity="0.85"/>
<circle cx="499.40" cy="132.65" r="0.5" fill="#c89a18" opacity="0.85"/>
<circle cx="501.61" cy="129.52" r="0.5" fill="#c89a18" opacity="0.85"/>
<circle cx="498.76" cy="133.84" r="0.5" fill="#c89a18" opacity="0.85"/>
<circle cx="503.58" cy="134.10" r="0.5" fill="#c89a18" opacity="0.85"/>
<circle cx="497.13" cy="131.84" r="0.5" fill="#c89a18" opacity="0.85"/>
<text x="527.9" y="144.4" font-size="7.3" font-weight="normal" font-style="normal" text-anchor="middle" dominant-baseline="central" fill="#000" font-family='"Liberation Sans", sans-serif' >Embeddings</text>
<text x="512.5" y="174.4" font-size="7.3" font-weight="normal" font-style="normal" text-anchor="middle" dominant-baseline="central" fill="#000" font-family='"Liberation Sans", sans-serif' transform="rotate(-90 512.5 174.4)" >Genes</text>
<line x1="538.9" y1="175.5" x2="552.5" y2="175.5" stroke="#000" stroke-width="1.2" marker-end="url(#ah)"/>
<line x1="574.9" y1="164.9" x2="570.2" y2="148.4" stroke="#cfcfcf" stroke-width="0.5"/>
<line x1="574.9" y1="164.9" x2="562.7" y2="151.8" stroke="#cfcfcf" stroke-width="0.5"/>
<line x1="574.9" y1="164.9" x2="583.1" y2="148.8" stroke="#cfcfcf" stroke-width="0.5"/>
<line x1="592.2" y1="167.7" x2="586.7" y2="149.4" stroke="#cfcfcf" stroke-width="0.5"/>
<line x1="592.2" y1="167.7" x2="596.4" y2="149.1" stroke="#cfcfcf" stroke-width="0.5"/>
<line x1="592.2" y1="167.7" x2="605.0" y2="152.9" stroke="#cfcfcf" stroke-width="0.5"/>
<line x1="574.9" y1="164.9" x2="568.5" y2="154.5" stroke="#cfcfcf" stroke-width="0.5"/>
<line x1="574.9" y1="164.9" x2="576.0" y2="154.8" stroke="#cfcfcf" stroke-width="0.5"/>
<line x1="574.9" y1="164.9" x2="579.5" y2="151.6" stroke="#cfcfcf" stroke-width="0.5"/>
<line x1="574.9" y1="164.9" x2="560.5" y2="157.2" stroke="#cfcfcf" stroke-width="0.5"/>
<line x1="592.2" y1="167.7" x2="597.0" y2="155.6" stroke="#cfcfcf" stroke-width="0.5"/>
<line x1="592.2" y1="167.7" x2="608.8" y2="158.8" stroke="#cfcfcf" stroke-width="0.5"/>
<line x1="574.9" y1="164.9" x2="582.0" y2="159.5" stroke="#cfcfcf" stroke-width="0.5"/>
<line x1="574.9" y1="164.9" x2="556.7" y2="161.3" stroke="#cfcfcf" stroke-width="0.5"/>
<line x1="574.9" y1="164.9" x2="568.0" y2="162.5" stroke="#cfcfcf" stroke-width="0.5"/>
<line x1="592.2" y1="167.7" x2="592.7" y2="160.9" stroke="#cfcfcf" stroke-width="0.5"/>
<line x1="592.2" y1="167.7" x2="596.7" y2="160.9" stroke="#cfcfcf" stroke-width="0.5"/>
<line x1="592.2" y1="167.7" x2="585.4" y2="163.1" stroke="#cfcfcf" stroke-width="0.5"/>
<line x1="574.9" y1="164.9" x2="564.5" y2="166.0" stroke="#cfcfcf" stroke-width="0.5"/>
<line x1="574.9" y1="164.9" x2="568.0" y2="167.4" stroke="#cfcfcf" stroke-width="0.5"/>
<line x1="574.9" y1="164.9" x2="582.0" y2="164.9" stroke="#cfcfcf" stroke-width="0.5"/>
<line x1="592.2" y1="167.7" x2="585.6" y2="167.1" stroke="#cfcfcf" stroke-width="0.5"/>
<line x1="592.2" y1="167.7" x2="598.9" y2="164.5" stroke="#cfcfcf" stroke-width="0.5"/>
<line x1="592.2" y1="167.7" x2="610.7" y2="164.9" stroke="#cfcfcf" stroke-width="0.5"/>
<line x1="574.9" y1="164.9" x2="556.4" y2="167.4" stroke="#cfcfcf" stroke-width="0.5"/>
<line x1="574.9" y1="164.9" x2="568.8" y2="171.4" stroke="#cfcfcf" stroke-width="0.5"/>
<line x1="574.9" y1="164.9" x2="579.8" y2="172.0" stroke="#cfcfcf" stroke-width="0.5"/>
<line x1="592.2" y1="167.7" x2="610.7" y2="170.6" stroke="#cfcfcf" stroke-width="0.5"/>
<line x1="574.9" y1="164.9" x2="558.1" y2="173.3" stroke="#cfcfcf" stroke-width="0.5"/>
<line x1="574.9" y1="164.9" x2="577.1" y2="175.4" stroke="#cfcfcf" stroke-width="0.5"/>
<line x1="592.2" y1="167.7" x2="589.9" y2="174.4" stroke="#cfcfcf" stroke-width="0.5"/>
<line x1="592.2" y1="167.7" x2="593.5" y2="174.4" stroke="#cfcfcf" stroke-width="0.5"/>
<line x1="592.2" y1="167.7" x2="597.0" y2="174.4" stroke="#cfcfcf" stroke-width="0.5"/>
<line x1="592.2" y1="167.7" x2="602.6" y2="174.9" stroke="#cfcfcf" stroke-width="0.5"/>
<line x1="592.2" y1="167.7" x2="609.9" y2="178.1" stroke="#cfcfcf" stroke-width="0.5"/>
<line x1="574.9" y1="164.9" x2="561.8" y2="177.4" stroke="#cfcfcf" stroke-width="0.5"/>
<line x1="574.9" y1="164.9" x2="566.1" y2="179.9" stroke="#cfcfcf" stroke-width="0.5"/>
<line x1="574.9" y1="164.9" x2="579.0" y2="178.9" stroke="#cfcfcf" stroke-width="0.5"/>
<line x1="592.2" y1="167.7" x2="603.9" y2="180.6" stroke="#cfcfcf" stroke-width="0.5"/>
<line x1="584.7" y1="177.4" x2="582.7" y2="184.0" stroke="#cfcfcf" stroke-width="0.5"/>
<line x1="584.7" y1="177.4" x2="586.3" y2="182.4" stroke="#cfcfcf" stroke-width="0.5"/>
<line x1="584.7" y1="177.4" x2="595.3" y2="184.6" stroke="#cfcfcf" stroke-width="0.5"/>
<line x1="584.7" y1="177.4" x2="573.8" y2="193.1" stroke="#cfcfcf" stroke-width="0.5"/>
<line x1="584.7" y1="177.4" x2="580.1" y2="195.6" stroke="#cfcfcf" stroke-width="0.5"/>
<line x1="584.7" y1="177.4" x2="587.0" y2="195.8" stroke="#cfcfcf" stroke-width="0.5"/>
<line x1="584.7" y1="177.4" x2="594.0" y2="193.1" stroke="#cfcfcf" stroke-width="0.5"/>
<line x1="574.9" y1="164.9" x2="592.2" y2="167.7" stroke="#ccc" stroke-width="0.6"/>
<line x1="574.9" y1="164.9" x2="584.7" y2="177.4" stroke="#ccc" stroke-width="0.6"/>
<line x1="592.2" y1="167.7" x2="584.7" y2="177.4" stroke="#ccc" stroke-width="0.6"/>
<rect x="569.6" y="147.8" width="1.3" height="1.3" fill="#707070"/>
<rect x="562.1" y="151.2" width="1.3" height="1.3" fill="#707070"/>
<rect x="582.5" y="148.2" width="1.3" height="1.3" fill="#707070"/>
<rect x="586.1" y="148.8" width="1.3" height="1.3" fill="#707070"/>
<rect x="595.8" y="148.5" width="1.3" height="1.3" fill="#707070"/>
<rect x="604.4" y="152.3" width="1.3" height="1.3" fill="#707070"/>
<rect x="567.9" y="153.9" width="1.3" height="1.3" fill="#707070"/>
<rect x="575.4" y="154.2" width="1.3" height="1.3" fill="#707070"/>
<rect x="578.9" y="151.0" width="1.3" height="1.3" fill="#707070"/>
<rect x="559.9" y="156.6" width="1.3" height="1.3" fill="#707070"/>
<rect x="596.4" y="155.0" width="1.3" height="1.3" fill="#707070"/>
<rect x="608.2" y="158.2" width="1.3" height="1.3" fill="#707070"/>
<rect x="581.4" y="158.9" width="1.3" height="1.3" fill="#707070"/>
<rect x="556.1" y="160.7" width="1.3" height="1.3" fill="#707070"/>
<rect x="567.4" y="161.9" width="1.3" height="1.3" fill="#707070"/>
<rect x="592.1" y="160.3" width="1.3" height="1.3" fill="#707070"/>
<rect x="596.1" y="160.3" width="1.3" height="1.3" fill="#707070"/>
<rect x="584.8" y="162.5" width="1.3" height="1.3" fill="#707070"/>
<rect x="563.9" y="165.4" width="1.3" height="1.3" fill="#707070"/>
<rect x="567.4" y="166.8" width="1.3" height="1.3" fill="#707070"/>
<rect x="581.4" y="164.3" width="1.3" height="1.3" fill="#707070"/>
<rect x="585.0" y="166.5" width="1.3" height="1.3" fill="#707070"/>
<rect x="598.3" y="163.9" width="1.3" height="1.3" fill="#707070"/>
<rect x="610.1" y="164.3" width="1.3" height="1.3" fill="#707070"/>
<rect x="555.8" y="166.8" width="1.3" height="1.3" fill="#707070"/>
<rect x="568.2" y="170.8" width="1.3" height="1.3" fill="#707070"/>
<rect x="579.2" y="171.4" width="1.3" height="1.3" fill="#707070"/>
<rect x="610.1" y="170.0" width="1.3" height="1.3" fill="#707070"/>
<rect x="557.5" y="172.7" width="1.3" height="1.3" fill="#707070"/>
<rect x="576.5" y="174.8" width="1.3" height="1.3" fill="#707070"/>
<rect x="589.3" y="173.8" width="1.3" height="1.3" fill="#707070"/>
<rect x="592.9" y="173.8" width="1.3" height="1.3" fill="#707070"/>
<rect x="596.4" y="173.8" width="1.3" height="1.3" fill="#707070"/>
<rect x="602.0" y="174.3" width="1.3" height="1.3" fill="#707070"/>
<rect x="609.3" y="177.5" width="1.3" height="1.3" fill="#707070"/>
<rect x="561.2" y="176.8" width="1.3" height="1.3" fill="#707070"/>
<rect x="565.5" y="179.3" width="1.3" height="1.3" fill="#707070"/>
<rect x="578.4" y="178.3" width="1.3" height="1.3" fill="#707070"/>
<rect x="603.3" y="180.0" width="1.3" height="1.3" fill="#707070"/>
<rect x="582.1" y="183.4" width="1.3" height="1.3" fill="#707070"/>
<rect x="585.7" y="181.8" width="1.3" height="1.3" fill="#707070"/>
<rect x="594.7" y="184.0" width="1.3" height="1.3" fill="#707070"/>
<rect x="573.2" y="192.5" width="1.3" height="1.3" fill="#707070"/>
<rect x="579.5" y="195.0" width="1.3" height="1.3" fill="#707070"/>
<rect x="586.4" y="195.2" width="1.3" height="1.3" fill="#707070"/>
<rect x="593.4" y="192.5" width="1.3" height="1.3" fill="#707070"/>
<circle cx="574.9" cy="164.9" r="4.1" fill="#f4a0a0" stroke="none" stroke-width="1.0"/>
<circle cx="592.2" cy="167.7" r="4.0" fill="#b0106a" stroke="none" stroke-width="1.0"/>
<circle cx="584.7" cy="177.4" r="2.3" fill="#3050a0" stroke="none" stroke-width="1.0"/>
<text x="581.4" y="204.8" font-size="10.3" font-weight="normal" font-style="normal" text-anchor="middle" dominant-baseline="central" fill="#000" font-family='"Liberation Sans", sans-serif' >Biological gene</text>
<text x="581.8" y="216.1" font-size="10.3" font-weight="normal" font-style="normal" text-anchor="middle" dominant-baseline="central" fill="#000" font-family='"Liberation Sans", sans-serif' >networks</text>
<line x1="67" y1="264" x2="353.5" y2="177.2" stroke="#000" stroke-width="1.2"/>
<line x1="375.5" y1="175.6" x2="617.7" y2="253.4" stroke="#000" stroke-width="1.2"/>
<text x="47.6" y="249.6" font-size="14" font-weight="bold" font-family='"Liberation Sans", sans-serif'>b</text>
<g transform="translate(0,0)">
<line x1="132.9" y1="294.1" x2="121.8" y2="309.5" stroke="#000" stroke-width="1.3"/>
<line x1="132.9" y1="294.1" x2="169.1" y2="340.8" stroke="#000" stroke-width="1.3"/>
<line x1="121.8" y1="309.5" x2="141.7" y2="317.9" stroke="#000" stroke-width="1.3"/>
<line x1="121.8" y1="309.5" x2="117.9" y2="331.1" stroke="#000" stroke-width="1.3"/>
<line x1="141.7" y1="317.9" x2="132" y2="342.6" stroke="#000" stroke-width="1.3"/>
<line x1="94.6" y1="320.9" x2="117.9" y2="331.1" stroke="#000" stroke-width="1.3"/>
<line x1="94.6" y1="320.9" x2="78.2" y2="334.3" stroke="#000" stroke-width="1.3"/>
<line x1="117.9" y1="331.1" x2="132" y2="342.6" stroke="#000" stroke-width="1.3"/>
<line x1="117.9" y1="331.1" x2="85.8" y2="353" stroke="#000" stroke-width="1.3"/>
<line x1="117.9" y1="331.1" x2="117.6" y2="360.2" stroke="#000" stroke-width="1.3"/>
<line x1="117.9" y1="331.1" x2="82.6" y2="376.1" stroke="#000" stroke-width="1.3"/>
<line x1="78.2" y1="334.3" x2="85.8" y2="353" stroke="#000" stroke-width="1.3"/>
<line x1="78.2" y1="334.3" x2="117.6" y2="360.2" stroke="#000" stroke-width="1.3"/>
<line x1="78.2" y1="334.3" x2="82.6" y2="376.1" stroke="#000" stroke-width="1.3"/>
<line x1="132" y1="342.6" x2="151.1" y2="344.9" stroke="#000" stroke-width="1.3"/>
<line x1="132" y1="342.6" x2="137.3" y2="363" stroke="#000" stroke-width="1.3"/>
<line x1="151.1" y1="344.9" x2="169.1" y2="340.8" stroke="#000" stroke-width="1.3"/>
<line x1="151.1" y1="344.9" x2="117.6" y2="360.2" stroke="#000" stroke-width="1.3"/>
<line x1="151.1" y1="344.9" x2="155" y2="363" stroke="#000" stroke-width="1.3"/>
<line x1="169.1" y1="340.8" x2="169.1" y2="382.1" stroke="#000" stroke-width="1.3"/>
<line x1="117.6" y1="360.2" x2="123.6" y2="374.2" stroke="#000" stroke-width="1.3"/>
<line x1="102" y1="363" x2="123.6" y2="374.2" stroke="#000" stroke-width="1.3"/>
<line x1="102" y1="363" x2="108.7" y2="382.6" stroke="#000" stroke-width="1.3"/>
<line x1="137.3" y1="363" x2="155" y2="363" stroke="#000" stroke-width="1.3"/>
<line x1="137.3" y1="363" x2="138.7" y2="382.1" stroke="#000" stroke-width="1.3"/>
<line x1="155" y1="363" x2="169.1" y2="382.1" stroke="#000" stroke-width="1.3"/>
<line x1="123.6" y1="374.2" x2="138.7" y2="382.1" stroke="#000" stroke-width="1.3"/>
<line x1="123.6" y1="374.2" x2="125.8" y2="400.8" stroke="#000" stroke-width="1.3"/>
<line x1="82.6" y1="376.1" x2="108.7" y2="382.6" stroke="#000" stroke-width="1.3"/>
<line x1="82.6" y1="376.1" x2="74.2" y2="402" stroke="#000" stroke-width="1.3"/>
<line x1="82.6" y1="376.1" x2="93.7" y2="419.7" stroke="#000" stroke-width="1.3"/>
<line x1="108.7" y1="382.6" x2="138.7" y2="382.1" stroke="#000" stroke-width="1.3"/>
<line x1="108.7" y1="382.6" x2="97.6" y2="398" stroke="#000" stroke-width="1.3"/>
<line x1="108.7" y1="382.6" x2="125.8" y2="400.8" stroke="#000" stroke-width="1.3"/>
<line x1="108.7" y1="382.6" x2="108.7" y2="429.4" stroke="#000" stroke-width="1.3"/>
<line x1="138.7" y1="382.1" x2="169.1" y2="382.1" stroke="#000" stroke-width="1.3"/>
<line x1="138.7" y1="382.1" x2="143" y2="408.2" stroke="#000" stroke-width="1.3"/>
<line x1="169.1" y1="382.1" x2="125.8" y2="400.8" stroke="#000" stroke-width="1.3"/>
<line x1="97.6" y1="398" x2="74.2" y2="402" stroke="#000" stroke-width="1.3"/>
<line x1="97.6" y1="398" x2="93.7" y2="419.7" stroke="#000" stroke-width="1.3"/>
<line x1="125.8" y1="400.8" x2="143" y2="408.2" stroke="#000" stroke-width="1.3"/>
<line x1="125.8" y1="400.8" x2="93.7" y2="419.7" stroke="#000" stroke-width="1.3"/>
<line x1="143" y1="408.2" x2="108.7" y2="429.4" stroke="#000" stroke-width="1.3"/>
<circle cx="132.9" cy="294.1" r="4.4" fill="#ab9cc9" stroke="#000" stroke-width="1.2"/>
<circle cx="121.8" cy="309.5" r="4.4" fill="#95b25a" stroke="#000" stroke-width="1.2"/>
<circle cx="141.7" cy="317.9" r="4.4" fill="#ab9cc9" stroke="#000" stroke-width="1.2"/>
<circle cx="94.6" cy="320.9" r="4.4" fill="#95b25a" stroke="#000" stroke-width="1.2"/>
<circle cx="117.9" cy="331.1" r="4.4" fill="#ab9cc9" stroke="#000" stroke-width="1.2"/>
<circle cx="78.2" cy="334.3" r="4.4" fill="#ab9cc9" stroke="#000" stroke-width="1.2"/>
<circle cx="132" cy="342.6" r="4.4" fill="#95b25a" stroke="#000" stroke-width="1.2"/>
<circle cx="151.1" cy="344.9" r="4.4" fill="#ab9cc9" stroke="#000" stroke-width="1.2"/>
<circle cx="169.1" cy="340.8" r="4.4" fill="#95b25a" stroke="#000" stroke-width="1.2"/>
<circle cx="85.8" cy="353" r="4.4" fill="#95b25a" stroke="#000" stroke-width="1.2"/>
<circle cx="117.6" cy="360.2" r="4.4" fill="#95b25a" stroke="#000" stroke-width="1.2"/>
<circle cx="102" cy="363" r="4.4" fill="#95b25a" stroke="#000" stroke-width="1.2"/>
<circle cx="137.3" cy="363" r="4.4" fill="#ab9cc9" stroke="#000" stroke-width="1.2"/>
<circle cx="155" cy="363" r="4.4" fill="#95b25a" stroke="#000" stroke-width="1.2"/>
<circle cx="123.6" cy="374.2" r="4.4" fill="#ab9cc9" stroke="#000" stroke-width="1.2"/>
<circle cx="82.6" cy="376.1" r="4.4" fill="#95b25a" stroke="#000" stroke-width="1.2"/>
<circle cx="108.7" cy="382.6" r="4.4" fill="#ab9cc9" stroke="#000" stroke-width="1.2"/>
<circle cx="138.7" cy="382.1" r="4.4" fill="#95b25a" stroke="#000" stroke-width="1.2"/>
<circle cx="169.1" cy="382.1" r="4.4" fill="#ab9cc9" stroke="#000" stroke-width="1.2"/>
<circle cx="97.6" cy="398" r="4.4" fill="#95b25a" stroke="#000" stroke-width="1.2"/>
<circle cx="74.2" cy="402" r="4.4" fill="#ab9cc9" stroke="#000" stroke-width="1.2"/>
<circle cx="125.8" cy="400.8" r="4.4" fill="#95b25a" stroke="#000" stroke-width="1.2"/>
<circle cx="143" cy="408.2" r="4.4" fill="#ab9cc9" stroke="#000" stroke-width="1.2"/>
<circle cx="93.7" cy="419.7" r="4.4" fill="#ab9cc9" stroke="#000" stroke-width="1.2"/>
<circle cx="108.7" cy="429.4" r="4.4" fill="#95b25a" stroke="#000" stroke-width="1.2"/>
</g>
<rect x="110.5" y="287.4" width="38.8" height="49.9" rx="2.5" fill="none" stroke="#000" stroke-width="1.2"/>
<rect x="131.7" y="356.2" width="44.4" height="31.7" rx="2.5" fill="none" stroke="#000" stroke-width="1.2"/>
<rect x="115.8" y="368.5" width="36" height="45.3" rx="2.5" fill="none" stroke="#000" stroke-width="1.2"/>
<line x1="149.3" y1="307.5" x2="234.3" y2="294.3" stroke="#000" stroke-width="1.2"/>
<line x1="176.1" y1="372" x2="234.3" y2="354.3" stroke="#000" stroke-width="1.2"/>
<line x1="151.8" y1="414.4" x2="234.9" y2="437.3" stroke="#000" stroke-width="1.2"/>
<polygon points="173.4,349 202.6,349 202.6,344.9 211.4,353.3 202.6,361.6 202.6,357.5 173.4,357.5" fill="#fff" stroke="#000" stroke-width="1.2"/>
<rect x="215.8" y="239.6" width="237.7" height="243.1" rx="20" fill="none" stroke="#000" stroke-width="1.3"/>
<text x="338.5" y="247.9" font-size="10.4" font-weight="bold" font-style="normal" text-anchor="middle" dominant-baseline="central" fill="#000" font-family='"Liberation Sans", sans-serif' >Subgraph model training</text>
<rect x="226.7" y="269.6" width="51.8" height="199.4" rx="6" fill="none" stroke="#000" stroke-width="1.2"/>
<text x="252.6" y="262.8" font-size="7.3" font-weight="bold" font-style="normal" text-anchor="middle" dominant-baseline="central" fill="#000" font-family='"Liberation Sans", sans-serif' >Epoch 1</text>
<rect x="234.3" y="280.3" width="36.4" height="31.8" rx="2.5" fill="none" stroke="#000" stroke-width="1.2"/>
<line x1="247.8" y1="294.3" x2="255.1" y2="284.8" stroke="#000" stroke-width="0.9"/>
<line x1="247.8" y1="294.3" x2="260.6" y2="299.9" stroke="#000" stroke-width="0.9"/>
<line x1="247.8" y1="294.3" x2="245.9" y2="307.9" stroke="#000" stroke-width="0.9"/>
<circle cx="255.1" cy="284.8" r="2.7" fill="#ab9cc9" stroke="#000" stroke-width="0.8"/>
<circle cx="247.8" cy="294.3" r="2.7" fill="#95b25a" stroke="#000" stroke-width="0.8"/>
<circle cx="260.6" cy="299.9" r="2.7" fill="#ab9cc9" stroke="#000" stroke-width="0.8"/>
<circle cx="245.9" cy="307.9" r="2.7" fill="#ab9cc9" stroke="#000" stroke-width="0.8"/>
<text x="252.6" y="317.8" font-size="7.4" font-weight="normal" font-style="normal" text-anchor="middle" dominant-baseline="central" fill="#000" font-family='"Liberation Sans", sans-serif' >Subgraph_1</text>
<line x1="252.6" y1="323.2" x2="252.6" y2="336" stroke="#000" stroke-width="1.2" marker-end="url(#ah)"/>
<rect x="234.3" y="337.3" width="36.4" height="30.8" rx="2.5" fill="none" stroke="#000" stroke-width="1.2"/>
<line x1="242.9" y1="347.4" x2="253.9" y2="347.4" stroke="#000" stroke-width="0.9"/>
<line x1="242.9" y1="347.4" x2="243.3" y2="359.2" stroke="#000" stroke-width="0.9"/>
<line x1="253.9" y1="347.4" x2="262.9" y2="359.5" stroke="#000" stroke-width="0.9"/>
<line x1="243.3" y1="359.2" x2="262.9" y2="359.5" stroke="#000" stroke-width="0.9"/>
<circle cx="242.9" cy="347.4" r="2.7" fill="#ab9cc9" stroke="#000" stroke-width="0.8"/>
<circle cx="253.9" cy="347.4" r="2.7" fill="#95b25a" stroke="#000" stroke-width="0.8"/>
<circle cx="243.3" cy="359.2" r="2.7" fill="#95b25a" stroke="#000" stroke-width="0.8"/>
<circle cx="262.9" cy="359.5" r="2.7" fill="#ab9cc9" stroke="#000" stroke-width="0.8"/>
<text x="252.6" y="374" font-size="7.4" font-weight="normal" font-style="normal" text-anchor="middle" dominant-baseline="central" fill="#000" font-family='"Liberation Sans", sans-serif' >Subgraph_2</text>
<line x1="252.6" y1="378.3" x2="252.6" y2="391" stroke="#000" stroke-width="1.2" marker-end="url(#ah)"/>
<rect x="252.0" y="394.9" width="1.2" height="1.4" fill="#000"/>
<rect x="252.0" y="397.9" width="1.2" height="1.4" fill="#000"/>
<rect x="252.0" y="400.9" width="1.2" height="1.4" fill="#000"/>
<line x1="252.6" y1="404.5" x2="252.6" y2="418.3" stroke="#000" stroke-width="1.2" marker-end="url(#ah)"/>
<rect x="234.9" y="419" width="36.8" height="31.7" rx="2.5" fill="none" stroke="#000" stroke-width="1.2"/>
<line x1="248.0" y1="424.9" x2="257.5" y2="430.0" stroke="#000" stroke-width="0.9"/>
<line x1="248.0" y1="424.9" x2="249.2" y2="441.7" stroke="#000" stroke-width="0.9"/>
<line x1="257.5" y1="430.0" x2="260.0" y2="446.3" stroke="#000" stroke-width="0.9"/>
<line x1="249.2" y1="441.7" x2="260.0" y2="446.3" stroke="#000" stroke-width="0.9"/>
<circle cx="248.0" cy="424.9" r="2.7" fill="#ab9cc9" stroke="#000" stroke-width="0.8"/>
<circle cx="257.5" cy="430.0" r="2.7" fill="#95b25a" stroke="#000" stroke-width="0.8"/>
<circle cx="249.2" cy="441.7" r="2.7" fill="#95b25a" stroke="#000" stroke-width="0.8"/>
<circle cx="260.0" cy="446.3" r="2.7" fill="#ab9cc9" stroke="#000" stroke-width="0.8"/>
<text x="253.2" y="456.3" font-size="7.4" font-weight="normal" font-style="normal" text-anchor="middle" dominant-baseline="central" fill="#000" font-family='"Liberation Sans", sans-serif' >Subgraph_50</text>
<rect x="299.29999999999995" y="269.6" width="51.8" height="199.4" rx="6" fill="none" stroke="#000" stroke-width="1.2"/>
<text x="325.2" y="262.8" font-size="7.3" font-weight="bold" font-style="normal" text-anchor="middle" dominant-baseline="central" fill="#000" font-family='"Liberation Sans", sans-serif' >Epoch 2</text>
<rect x="306.9" y="280.3" width="36.4" height="31.8" rx="2.5" fill="none" stroke="#000" stroke-width="1.2"/>
<line x1="320.4" y1="294.3" x2="327.7" y2="284.8" stroke="#000" stroke-width="0.9"/>
<line x1="320.4" y1="294.3" x2="333.2" y2="299.9" stroke="#000" stroke-width="0.9"/>
<line x1="320.4" y1="294.3" x2="318.5" y2="307.9" stroke="#000" stroke-width="0.9"/>
<circle cx="327.7" cy="284.8" r="2.7" fill="#ab9cc9" stroke="#000" stroke-width="0.8"/>
<circle cx="320.4" cy="294.3" r="2.7" fill="#95b25a" stroke="#000" stroke-width="0.8"/>
<circle cx="333.2" cy="299.9" r="2.7" fill="#ab9cc9" stroke="#000" stroke-width="0.8"/>
<circle cx="318.5" cy="307.9" r="2.7" fill="#ab9cc9" stroke="#000" stroke-width="0.8"/>
<text x="325.2" y="317.8" font-size="7.4" font-weight="normal" font-style="normal" text-anchor="middle" dominant-baseline="central" fill="#000" font-family='"Liberation Sans", sans-serif' >Subgraph_1</text>
<line x1="325.2" y1="323.2" x2="325.2" y2="336" stroke="#000" stroke-width="1.2" marker-end="url(#ah)"/>
<rect x="306.9" y="337.3" width="36.4" height="30.8" rx="2.5" fill="none" stroke="#000" stroke-width="1.2"/>
<line x1="315.5" y1="347.4" x2="326.5" y2="347.4" stroke="#000" stroke-width="0.9"/>
<line x1="315.5" y1="347.4" x2="315.9" y2="359.2" stroke="#000" stroke-width="0.9"/>
<line x1="326.5" y1="347.4" x2="335.5" y2="359.5" stroke="#000" stroke-width="0.9"/>
<line x1="315.9" y1="359.2" x2="335.5" y2="359.5" stroke="#000" stroke-width="0.9"/>
<circle cx="315.5" cy="347.4" r="2.7" fill="#ab9cc9" stroke="#000" stroke-width="0.8"/>
<circle cx="326.5" cy="347.4" r="2.7" fill="#95b25a" stroke="#000" stroke-width="0.8"/>
<circle cx="315.9" cy="359.2" r="2.7" fill="#95b25a" stroke="#000" stroke-width="0.8"/>
<circle cx="335.5" cy="359.5" r="2.7" fill="#ab9cc9" stroke="#000" stroke-width="0.8"/>
<text x="325.2" y="374" font-size="7.4" font-weight="normal" font-style="normal" text-anchor="middle" dominant-baseline="central" fill="#000" font-family='"Liberation Sans", sans-serif' >Subgraph_2</text>
<line x1="325.2" y1="378.3" x2="325.2" y2="391" stroke="#000" stroke-width="1.2" marker-end="url(#ah)"/>
<rect x="324.59999999999997" y="394.9" width="1.2" height="1.4" fill="#000"/>
<rect x="324.59999999999997" y="397.9" width="1.2" height="1.4" fill="#000"/>
<rect x="324.59999999999997" y="400.9" width="1.2" height="1.4" fill="#000"/>
<line x1="325.2" y1="404.5" x2="325.2" y2="418.3" stroke="#000" stroke-width="1.2" marker-end="url(#ah)"/>
<rect x="307.5" y="419" width="36.8" height="31.7" rx="2.5" fill="none" stroke="#000" stroke-width="1.2"/>
<line x1="320.6" y1="424.9" x2="330.1" y2="430.0" stroke="#000" stroke-width="0.9"/>
<line x1="320.6" y1="424.9" x2="321.8" y2="441.7" stroke="#000" stroke-width="0.9"/>
<line x1="330.1" y1="430.0" x2="332.6" y2="446.3" stroke="#000" stroke-width="0.9"/>
<line x1="321.8" y1="441.7" x2="332.6" y2="446.3" stroke="#000" stroke-width="0.9"/>
<circle cx="320.6" cy="424.9" r="2.7" fill="#ab9cc9" stroke="#000" stroke-width="0.8"/>
<circle cx="330.1" cy="430.0" r="2.7" fill="#95b25a" stroke="#000" stroke-width="0.8"/>
<circle cx="321.8" cy="441.7" r="2.7" fill="#95b25a" stroke="#000" stroke-width="0.8"/>
<circle cx="332.6" cy="446.3" r="2.7" fill="#ab9cc9" stroke="#000" stroke-width="0.8"/>
<text x="325.8" y="456.3" font-size="7.4" font-weight="normal" font-style="normal" text-anchor="middle" dominant-baseline="central" fill="#000" font-family='"Liberation Sans", sans-serif' >Subgraph_50</text>
<rect x="390.5" y="269.6" width="51.8" height="199.4" rx="6" fill="none" stroke="#000" stroke-width="1.2"/>
<text x="416.4" y="262.8" font-size="7.3" font-weight="bold" font-style="normal" text-anchor="middle" dominant-baseline="central" fill="#000" font-family='"Liberation Sans", sans-serif' >Epoch 100</text>
<rect x="398.1" y="280.3" width="36.4" height="31.8" rx="2.5" fill="none" stroke="#000" stroke-width="1.2"/>
<line x1="411.6" y1="294.3" x2="418.9" y2="284.8" stroke="#000" stroke-width="0.9"/>
<line x1="411.6" y1="294.3" x2="424.4" y2="299.9" stroke="#000" stroke-width="0.9"/>
<line x1="411.6" y1="294.3" x2="409.7" y2="307.9" stroke="#000" stroke-width="0.9"/>
<circle cx="418.9" cy="284.8" r="2.7" fill="#ab9cc9" stroke="#000" stroke-width="0.8"/>
<circle cx="411.6" cy="294.3" r="2.7" fill="#95b25a" stroke="#000" stroke-width="0.8"/>
<circle cx="424.4" cy="299.9" r="2.7" fill="#ab9cc9" stroke="#000" stroke-width="0.8"/>
<circle cx="409.7" cy="307.9" r="2.7" fill="#ab9cc9" stroke="#000" stroke-width="0.8"/>
<text x="416.4" y="317.8" font-size="7.4" font-weight="normal" font-style="normal" text-anchor="middle" dominant-baseline="central" fill="#000" font-family='"Liberation Sans", sans-serif' >Subgraph_1</text>
<line x1="416.4" y1="323.2" x2="416.4" y2="336" stroke="#000" stroke-width="1.2" marker-end="url(#ah)"/>
<rect x="398.1" y="337.3" width="36.4" height="30.8" rx="2.5" fill="none" stroke="#000" stroke-width="1.2"/>
<line x1="406.7" y1="347.4" x2="417.7" y2="347.4" stroke="#000" stroke-width="0.9"/>
<line x1="406.7" y1="347.4" x2="407.1" y2="359.2" stroke="#000" stroke-width="0.9"/>
<line x1="417.7" y1="347.4" x2="426.7" y2="359.5" stroke="#000" stroke-width="0.9"/>
<line x1="407.1" y1="359.2" x2="426.7" y2="359.5" stroke="#000" stroke-width="0.9"/>
<circle cx="406.7" cy="347.4" r="2.7" fill="#ab9cc9" stroke="#000" stroke-width="0.8"/>
<circle cx="417.7" cy="347.4" r="2.7" fill="#95b25a" stroke="#000" stroke-width="0.8"/>
<circle cx="407.1" cy="359.2" r="2.7" fill="#95b25a" stroke="#000" stroke-width="0.8"/>
<circle cx="426.7" cy="359.5" r="2.7" fill="#ab9cc9" stroke="#000" stroke-width="0.8"/>
<text x="416.4" y="374" font-size="7.4" font-weight="normal" font-style="normal" text-anchor="middle" dominant-baseline="central" fill="#000" font-family='"Liberation Sans", sans-serif' >Subgraph_2</text>
<line x1="416.4" y1="378.3" x2="416.4" y2="391" stroke="#000" stroke-width="1.2" marker-end="url(#ah)"/>
<rect x="415.79999999999995" y="394.9" width="1.2" height="1.4" fill="#000"/>
<rect x="415.79999999999995" y="397.9" width="1.2" height="1.4" fill="#000"/>
<rect x="415.79999999999995" y="400.9" width="1.2" height="1.4" fill="#000"/>
<line x1="416.4" y1="404.5" x2="416.4" y2="418.3" stroke="#000" stroke-width="1.2" marker-end="url(#ah)"/>
<rect x="398.70000000000005" y="419" width="36.8" height="31.7" rx="2.5" fill="none" stroke="#000" stroke-width="1.2"/>
<line x1="411.8" y1="424.9" x2="421.3" y2="430.0" stroke="#000" stroke-width="0.9"/>
<line x1="411.8" y1="424.9" x2="413.0" y2="441.7" stroke="#000" stroke-width="0.9"/>
<line x1="421.3" y1="430.0" x2="423.8" y2="446.3" stroke="#000" stroke-width="0.9"/>
<line x1="413.0" y1="441.7" x2="423.8" y2="446.3" stroke="#000" stroke-width="0.9"/>
<circle cx="411.8" cy="424.9" r="2.7" fill="#ab9cc9" stroke="#000" stroke-width="0.8"/>
<circle cx="421.3" cy="430.0" r="2.7" fill="#95b25a" stroke="#000" stroke-width="0.8"/>
<circle cx="413.0" cy="441.7" r="2.7" fill="#95b25a" stroke="#000" stroke-width="0.8"/>
<circle cx="423.8" cy="446.3" r="2.7" fill="#ab9cc9" stroke="#000" stroke-width="0.8"/>
<text x="417.0" y="456.3" font-size="7.4" font-weight="normal" font-style="normal" text-anchor="middle" dominant-baseline="central" fill="#000" font-family='"Liberation Sans", sans-serif' >Subgraph_50</text>
<path d="M271.7,435.7 H288.6 V296 H305.9" stroke="#000" stroke-width="1.2" fill="none" marker-end="url(#ah)" />
<line x1="343.4" y1="434.8" x2="356.8" y2="434.8" stroke="#000" stroke-width="1.2" marker-end="url(#ah)"/>
<line x1="385.6" y1="295.8" x2="397.8" y2="295.8" stroke="#000" stroke-width="1.2" marker-end="url(#ah)"/>
<rect x="362.59999999999997" y="367.8" width="1.3" height="1.3" fill="#000"/>
<rect x="365.59999999999997" y="367.8" width="1.3" height="1.3" fill="#000"/>
<rect x="368.59999999999997" y="367.8" width="1.3" height="1.3" fill="#000"/>
<rect x="374.9" y="367.8" width="1.3" height="1.3" fill="#000"/>
<rect x="377.9" y="367.8" width="1.3" height="1.3" fill="#000"/>
<rect x="380.9" y="367.8" width="1.3" height="1.3" fill="#000"/>
<polygon points="454,357.2 486,357.2 486,352.7 495.4,361.4 486,370.2 486,365.6 454,365.6" fill="#fff" stroke="#000" stroke-width="1.2"/>
<rect x="498.9" y="272.2" width="118.3" height="175.8" rx="6" fill="none" stroke="#000" stroke-width="1.3"/>
<text x="558" y="281" font-size="10.4" font-weight="bold" font-style="normal" text-anchor="middle" dominant-baseline="central" fill="#000" font-family='"Liberation Sans", sans-serif' >Whole graph testing</text>
<g transform="translate(433.6,4.6)">
<line x1="132.9" y1="294.1" x2="121.8" y2="309.5" stroke="#000" stroke-width="1.3"/>
<line x1="132.9" y1="294.1" x2="169.1" y2="340.8" stroke="#000" stroke-width="1.3"/>
<line x1="121.8" y1="309.5" x2="141.7" y2="317.9" stroke="#000" stroke-width="1.3"/>
<line x1="121.8" y1="309.5" x2="117.9" y2="331.1" stroke="#000" stroke-width="1.3"/>
<line x1="141.7" y1="317.9" x2="132" y2="342.6" stroke="#000" stroke-width="1.3"/>
<line x1="94.6" y1="320.9" x2="117.9" y2="331.1" stroke="#000" stroke-width="1.3"/>
<line x1="94.6" y1="320.9" x2="78.2" y2="334.3" stroke="#000" stroke-width="1.3"/>
<line x1="117.9" y1="331.1" x2="132" y2="342.6" stroke="#000" stroke-width="1.3"/>
<line x1="117.9" y1="331.1" x2="85.8" y2="353" stroke="#000" stroke-width="1.3"/>
<line x1="117.9" y1="331.1" x2="117.6" y2="360.2" stroke="#000" stroke-width="1.3"/>
<line x1="117.9" y1="331.1" x2="82.6" y2="376.1" stroke="#000" stroke-width="1.3"/>
<line x1="78.2" y1="334.3" x2="85.8" y2="353" stroke="#000" stroke-width="1.3"/>
<line x1="78.2" y1="334.3" x2="117.6" y2="360.2" stroke="#000" stroke-width="1.3"/>
<line x1="78.2" y1="334.3" x2="82.6" y2="376.1" stroke="#000" stroke-width="1.3"/>
<line x1="132" y1="342.6" x2="151.1" y2="344.9" stroke="#000" stroke-width="1.3"/>
<line x1="132" y1="342.6" x2="137.3" y2="363" stroke="#000" stroke-width="1.3"/>
<line x1="151.1" y1="344.9" x2="169.1" y2="340.8" stroke="#000" stroke-width="1.3"/>
<line x1="151.1" y1="344.9" x2="117.6" y2="360.2" stroke="#000" stroke-width="1.3"/>
<line x1="151.1" y1="344.9" x2="155" y2="363" stroke="#000" stroke-width="1.3"/>
<line x1="169.1" y1="340.8" x2="169.1" y2="382.1" stroke="#000" stroke-width="1.3"/>
<line x1="117.6" y1="360.2" x2="123.6" y2="374.2" stroke="#000" stroke-width="1.3"/>
<line x1="102" y1="363" x2="123.6" y2="374.2" stroke="#000" stroke-width="1.3"/>
<line x1="102" y1="363" x2="108.7" y2="382.6" stroke="#000" stroke-width="1.3"/>
<line x1="137.3" y1="363" x2="155" y2="363" stroke="#000" stroke-width="1.3"/>
<line x1="137.3" y1="363" x2="138.7" y2="382.1" stroke="#000" stroke-width="1.3"/>
<line x1="155" y1="363" x2="169.1" y2="382.1" stroke="#000" stroke-width="1.3"/>
<line x1="123.6" y1="374.2" x2="138.7" y2="382.1" stroke="#000" stroke-width="1.3"/>
<line x1="123.6" y1="374.2" x2="125.8" y2="400.8" stroke="#000" stroke-width="1.3"/>
<line x1="82.6" y1="376.1" x2="108.7" y2="382.6" stroke="#000" stroke-width="1.3"/>
<line x1="82.6" y1="376.1" x2="74.2" y2="402" stroke="#000" stroke-width="1.3"/>
<line x1="82.6" y1="376.1" x2="93.7" y2="419.7" stroke="#000" stroke-width="1.3"/>
<line x1="108.7" y1="382.6" x2="138.7" y2="382.1" stroke="#000" stroke-width="1.3"/>
<line x1="108.7" y1="382.6" x2="97.6" y2="398" stroke="#000" stroke-width="1.3"/>
<line x1="108.7" y1="382.6" x2="125.8" y2="400.8" stroke="#000" stroke-width="1.3"/>
<line x1="108.7" y1="382.6" x2="108.7" y2="429.4" stroke="#000" stroke-width="1.3"/>
<line x1="138.7" y1="382.1" x2="169.1" y2="382.1" stroke="#000" stroke-width="1.3"/>
<line x1="138.7" y1="382.1" x2="143" y2="408.2" stroke="#000" stroke-width="1.3"/>
<line x1="169.1" y1="382.1" x2="125.8" y2="400.8" stroke="#000" stroke-width="1.3"/>
<line x1="97.6" y1="398" x2="74.2" y2="402" stroke="#000" stroke-width="1.3"/>
<line x1="97.6" y1="398" x2="93.7" y2="419.7" stroke="#000" stroke-width="1.3"/>
<line x1="125.8" y1="400.8" x2="143" y2="408.2" stroke="#000" stroke-width="1.3"/>
<line x1="125.8" y1="400.8" x2="93.7" y2="419.7" stroke="#000" stroke-width="1.3"/>
<line x1="143" y1="408.2" x2="108.7" y2="429.4" stroke="#000" stroke-width="1.3"/>
<circle cx="132.9" cy="294.1" r="4.4" fill="#ab9cc9" stroke="#000" stroke-width="1.2"/>
<circle cx="121.8" cy="309.5" r="4.4" fill="#95b25a" stroke="#000" stroke-width="1.2"/>
<circle cx="141.7" cy="317.9" r="4.4" fill="#ab9cc9" stroke="#000" stroke-width="1.2"/>
<circle cx="94.6" cy="320.9" r="4.4" fill="#95b25a" stroke="#000" stroke-width="1.2"/>
<circle cx="117.9" cy="331.1" r="4.4" fill="#ab9cc9" stroke="#000" stroke-width="1.2"/>
<circle cx="78.2" cy="334.3" r="4.4" fill="#ab9cc9" stroke="#000" stroke-width="1.2"/>
<circle cx="132" cy="342.6" r="4.4" fill="#95b25a" stroke="#000" stroke-width="1.2"/>
<circle cx="151.1" cy="344.9" r="4.4" fill="#ab9cc9" stroke="#000" stroke-width="1.2"/>
<circle cx="169.1" cy="340.8" r="4.4" fill="#95b25a" stroke="#000" stroke-width="1.2"/>
<circle cx="85.8" cy="353" r="4.4" fill="#95b25a" stroke="#000" stroke-width="1.2"/>
<circle cx="117.6" cy="360.2" r="4.4" fill="#95b25a" stroke="#000" stroke-width="1.2"/>
<circle cx="102" cy="363" r="4.4" fill="#95b25a" stroke="#000" stroke-width="1.2"/>
<circle cx="137.3" cy="363" r="4.4" fill="#ab9cc9" stroke="#000" stroke-width="1.2"/>
<circle cx="155" cy="363" r="4.4" fill="#95b25a" stroke="#000" stroke-width="1.2"/>
<circle cx="123.6" cy="374.2" r="4.4" fill="#ab9cc9" stroke="#000" stroke-width="1.2"/>
<circle cx="82.6" cy="376.1" r="4.4" fill="#95b25a" stroke="#000" stroke-width="1.2"/>
<circle cx="108.7" cy="382.6" r="4.4" fill="#ab9cc9" stroke="#000" stroke-width="1.2"/>
<circle cx="138.7" cy="382.1" r="4.4" fill="#95b25a" stroke="#000" stroke-width="1.2"/>
<circle cx="169.1" cy="382.1" r="4.4" fill="#ab9cc9" stroke="#000" stroke-width="1.2"/>
<circle cx="97.6" cy="398" r="4.4" fill="#95b25a" stroke="#000" stroke-width="1.2"/>
<circle cx="74.2" cy="402" r="4.4" fill="#ab9cc9" stroke="#000" stroke-width="1.2"/>
<circle cx="125.8" cy="400.8" r="4.4" fill="#95b25a" stroke="#000" stroke-width="1.2"/>
<circle cx="143" cy="408.2" r="4.4" fill="#ab9cc9" stroke="#000" stroke-width="1.2"/>
<circle cx="93.7" cy="419.7" r="4.4" fill="#ab9cc9" stroke="#000" stroke-width="1.2"/>
<circle cx="108.7" cy="429.4" r="4.4" fill="#95b25a" stroke="#000" stroke-width="1.2"/>
</g>
<text x="47.8" y="512.7" font-size="14" font-weight="bold" font-family='"Liberation Sans", sans-serif'>c</text>
<path d="M153.28,514.60 C153.58,512.87 155.66,512.10 155.76,513.45 C155.86,514.80 154.27,518.07 153.48,519.22 C152.99,519.90 151.90,519.70 151.70,518.84 M154.08,516.43 C156.16,515.95 158.13,515.85 159.82,515.76 M161.60,512.58 C160.41,512.29 159.52,514.22 159.12,516.14 C158.73,518.07 158.63,519.22 159.42,519.70 C160.02,519.99 160.71,519.42 160.91,518.84" fill="none" stroke="#3a3a3a" stroke-width="0.95" stroke-linecap="round"/>
<text x="162.6" y="516.6" font-family='"Liberation Serif", serif' font-size="8" font-style="italic" fill="#3a3a3a">l</text>
<text x="165.8" y="516.6" font-family='"Liberation Serif", serif' font-size="8" font-style="normal" fill="#3a3a3a">−1</text>
<line x1="178.6" y1="512.8" x2="291.7" y2="512.8" stroke="#000" stroke-width="1.1"/>
<text x="328.6" y="513" font-size="10.4" font-weight="bold" font-style="normal" text-anchor="middle" dominant-baseline="central" fill="#000" font-family='"Liberation Sans", sans-serif' >An HGT layer</text>
<line x1="365.5" y1="512.8" x2="492.5" y2="512.8" stroke="#000" stroke-width="1.1" marker-end="url(#ah)"/>
<path d="M501.15,514.62 C501.38,513.22 503.02,512.60 503.10,513.69 C503.18,514.77 501.93,517.40 501.30,518.34 C500.91,518.88 500.06,518.72 499.90,518.02 M501.77,516.09 C503.41,515.70 504.97,515.62 506.30,515.55 M507.70,512.99 C506.76,512.75 506.06,514.31 505.75,515.86 C505.44,517.40 505.36,518.34 505.98,518.72 C506.45,518.96 507.00,518.49 507.15,518.02" fill="none" stroke="#3a3a3a" stroke-width="0.95" stroke-linecap="round"/>
<text x="508.8" y="515.9" font-family='"Liberation Serif", serif' font-size="6.3" font-style="italic" fill="#3a3a3a">l</text>
<line x1="142.1" y1="545.8" x2="161.4" y2="556.3" stroke="#000" stroke-width="1.2"/>
<line x1="142.1" y1="545.8" x2="144.8" y2="580.2" stroke="#000" stroke-width="1.2"/>
<line x1="161.4" y1="556.3" x2="166.9" y2="589.6" stroke="#000" stroke-width="1.2"/>
<line x1="144.8" y1="580.2" x2="166.9" y2="589.6" stroke="#000" stroke-width="1.2"/>
<rect x="146.3" y="525.5" width="4.399999999999977" height="14.700000000000045" rx="0" fill="#cc3333" stroke="#000" stroke-width="1.0"/>
<rect x="166.4" y="537.5" width="4.599999999999994" height="13.799999999999955" rx="0" fill="#f2b27a" stroke="#000" stroke-width="1.0"/>
<rect x="134.4" y="563.3" width="4.400000000000006" height="14.100000000000023" rx="0" fill="#7cc4dc" stroke="#000" stroke-width="1.0"/>
<rect x="172.5" y="572.5" width="4.199999999999989" height="14.100000000000023" rx="0" fill="#d9d9d9" stroke="#000" stroke-width="1.0"/>
<circle cx="142.1" cy="545.8" r="5.6" fill="#ab9cc9" stroke="#000" stroke-width="1.1"/>
<circle cx="166.9" cy="589.6" r="5.6" fill="#ab9cc9" stroke="#000" stroke-width="1.1"/>
<circle cx="161.4" cy="556.3" r="5.6" fill="#95b25a" stroke="#000" stroke-width="1.1"/>
<circle cx="144.8" cy="580.2" r="5.6" fill="#95b25a" stroke="#000" stroke-width="1.1"/>
<polygon points="187.2,546.7 197.3,566.3 187.2,585.9" fill="#8a8a8a"/>
<line x1="487.3" y1="547.5" x2="506.3" y2="558" stroke="#000" stroke-width="1.2"/>
<line x1="487.3" y1="547.5" x2="489.7" y2="581.5" stroke="#000" stroke-width="1.2"/>
<line x1="506.3" y1="558" x2="511.8" y2="591.1" stroke="#000" stroke-width="1.2"/>
<line x1="489.7" y1="581.5" x2="511.8" y2="591.1" stroke="#000" stroke-width="1.2"/>
<rect x="491.5" y="527.8" width="4.600000000000023" height="14.100000000000023" rx="0" fill="#a00010" stroke="#000" stroke-width="1.0"/>
<rect x="512.3" y="539.2" width="4.5" height="14.299999999999955" rx="0" fill="#f3a257" stroke="#000" stroke-width="1.0"/>
<rect x="479.6" y="565.3" width="4.599999999999966" height="14.400000000000091" rx="0" fill="#1a78c8" stroke="#000" stroke-width="1.0"/>
<rect x="518.2" y="574.5" width="4.599999999999909" height="14.0" rx="0" fill="#7f7f7f" stroke="#000" stroke-width="1.0"/>
<circle cx="487.3" cy="547.5" r="5.6" fill="#ab9cc9" stroke="#000" stroke-width="1.1"/>
<circle cx="511.8" cy="591.1" r="5.6" fill="#ab9cc9" stroke="#000" stroke-width="1.1"/>
<circle cx="506.3" cy="558" r="5.6" fill="#95b25a" stroke="#000" stroke-width="1.1"/>
<circle cx="489.7" cy="581.5" r="5.6" fill="#95b25a" stroke="#000" stroke-width="1.1"/>
<polygon points="459.3,548.9 469.8,568.45 459.3,588" fill="#8a8a8a"/>
<rect x="204.2" y="531.6" width="249" height="77" rx="8" fill="none" stroke="#000" stroke-width="1.2"/>
<line x1="224.7" y1="574.3" x2="223.1" y2="551.9" stroke="#000" stroke-width="1.1" marker-end="url(#ahs)"/>
<line x1="236.8" y1="553.0" x2="228.3" y2="548.5" stroke="#000" stroke-width="1.1" marker-end="url(#ahs)"/>
<circle cx="222.7" cy="545.6" r="5.7" fill="#ab9cc9" stroke="#d42020" stroke-width="1.3"/>
<circle cx="241.9" cy="555.6" r="5.7" fill="#95b25a" stroke="#000" stroke-width="1.1"/>
<circle cx="225.1" cy="580" r="5.7" fill="#95b25a" stroke="#000" stroke-width="1.1"/>
<circle cx="247.1" cy="589.5" r="5.7" fill="#ab9cc9" stroke="#000" stroke-width="1.1"/>
<line x1="290.7" y1="548.3" x2="299.4" y2="553.0" stroke="#000" stroke-width="1.1" marker-end="url(#ahs)"/>
<line x1="309.6" y1="583.9" x2="305.9" y2="562.2" stroke="#000" stroke-width="1.1" marker-end="url(#ahs)"/>
<circle cx="285.7" cy="545.6" r="5.7" fill="#ab9cc9" stroke="#000" stroke-width="1.1"/>
<circle cx="304.9" cy="556" r="5.7" fill="#95b25a" stroke="#d42020" stroke-width="1.3"/>
<circle cx="288.5" cy="580" r="5.7" fill="#95b25a" stroke="#000" stroke-width="1.1"/>
<circle cx="310.5" cy="589.5" r="5.7" fill="#ab9cc9" stroke="#000" stroke-width="1.1"/>
<line x1="349.8" y1="552.5" x2="351.1" y2="574.8" stroke="#000" stroke-width="1.1" marker-end="url(#ahs)"/>
<line x1="368.7" y1="588.5" x2="357.3" y2="583.6" stroke="#000" stroke-width="1.1" marker-end="url(#ahs)"/>
<circle cx="349.5" cy="546.8" r="5.7" fill="#ab9cc9" stroke="#000" stroke-width="1.1"/>
<circle cx="368.3" cy="557.6" r="5.7" fill="#95b25a" stroke="#000" stroke-width="1.1"/>
<circle cx="351.5" cy="581.1" r="5.7" fill="#95b25a" stroke="#d42020" stroke-width="1.3"/>
<circle cx="373.9" cy="590.7" r="5.7" fill="#ab9cc9" stroke="#000" stroke-width="1.1"/>
<line x1="434.2" y1="563.2" x2="437.5" y2="584.5" stroke="#000" stroke-width="1.1" marker-end="url(#ahs)"/>
<line x1="421.7" y1="583.4" x2="432.7" y2="588.2" stroke="#000" stroke-width="1.1" marker-end="url(#ahs)"/>
<circle cx="414.1" cy="546.8" r="5.7" fill="#ab9cc9" stroke="#000" stroke-width="1.1"/>
<circle cx="433.3" cy="557.6" r="5.7" fill="#95b25a" stroke="#000" stroke-width="1.1"/>
<circle cx="416.5" cy="581.1" r="5.7" fill="#95b25a" stroke="#000" stroke-width="1.1"/>
<circle cx="438.5" cy="590.7" r="5.7" fill="#ab9cc9" stroke="#d42020" stroke-width="1.3"/>
<line x1="212.4" y1="596.4" x2="129.8" y2="628.2" stroke="#000" stroke-width="1.2"/>
<line x1="269.8" y1="598.7" x2="537.4" y2="631.6" stroke="#000" stroke-width="1.2"/>
<path d="M148.23,630.07 C148.48,628.50 150.22,627.80 150.30,629.02 C150.39,630.25 149.06,633.22 148.39,634.27 C147.98,634.89 147.07,634.71 146.90,633.92 M148.89,631.74 C150.64,631.30 152.30,631.21 153.71,631.12 M155.20,628.24 C154.20,627.97 153.46,629.72 153.12,631.47 C152.79,633.22 152.71,634.27 153.37,634.71 C153.87,634.97 154.45,634.45 154.62,633.92" fill="none" stroke="#3a3a3a" stroke-width="0.95" stroke-linecap="round"/>
<text x="157.5" y="631.3" font-family='"Liberation Serif", serif' font-size="8" font-style="italic" fill="#3a3a3a">l</text>
<text x="160.7" y="631.3" font-family='"Liberation Serif", serif' font-size="8" font-style="normal" fill="#3a3a3a">−1</text>
<text x="171.6" y="636.2" font-family='"Liberation Serif", serif' font-size="11.5" font-style="normal" fill="#3a3a3a">[</text>
<text x="174.5" y="634.8" font-family='"Liberation Serif", serif' font-size="11" font-style="italic" fill="#3a3a3a">v</text>
<text x="180.6" y="637.2" font-family='"Liberation Serif", serif' font-size="7.5" font-style="italic" fill="#3a3a3a">t</text>
<text x="184.2" y="636.2" font-family='"Liberation Serif", serif' font-size="11.5" font-style="normal" fill="#3a3a3a">]</text>
<rect x="156.3" y="638" width="7.899999999999977" height="27.799999999999955" rx="0" fill="#fff" stroke="#cc2222" stroke-width="1.1"/>
<circle cx="160.25" cy="642.63" r="2.37" fill="none" stroke="#cc2222" stroke-width="0.9900000000000001"/>
<circle cx="160.25" cy="651.90" r="2.37" fill="none" stroke="#cc2222" stroke-width="0.9900000000000001"/>
<circle cx="160.25" cy="661.17" r="2.37" fill="none" stroke="#cc2222" stroke-width="0.9900000000000001"/>
<rect x="183.8" y="654" width="8.599999999999994" height="28.200000000000045" rx="0" fill="#fff" stroke="#f4a460" stroke-width="1.1"/>
<circle cx="188.10" cy="658.70" r="2.58" fill="none" stroke="#f4a460" stroke-width="0.9900000000000001"/>
<circle cx="188.10" cy="668.10" r="2.58" fill="none" stroke="#f4a460" stroke-width="0.9900000000000001"/>
<circle cx="188.10" cy="677.50" r="2.58" fill="none" stroke="#f4a460" stroke-width="0.9900000000000001"/>
<rect x="133.5" y="695.2" width="8.0" height="24.09999999999991" rx="0" fill="#fff" stroke="#1f78c8" stroke-width="1.1"/>
<circle cx="137.50" cy="699.22" r="2.40" fill="none" stroke="#1f78c8" stroke-width="0.9900000000000001"/>
<circle cx="137.50" cy="707.25" r="2.40" fill="none" stroke="#1f78c8" stroke-width="0.9900000000000001"/>
<circle cx="137.50" cy="715.28" r="2.40" fill="none" stroke="#1f78c8" stroke-width="0.9900000000000001"/>
<line x1="146.3" y1="669.2" x2="174" y2="688.6" stroke="#000" stroke-width="1.3"/>
<line x1="146.3" y1="669.2" x2="149.9" y2="722.9" stroke="#000" stroke-width="1.3"/>
<circle cx="146.3" cy="669.2" r="8.4" fill="#ab9cc9" stroke="#cc1111" stroke-width="1.8"/>
<circle cx="174" cy="688.6" r="8.4" fill="#95b25a" stroke="#f4a460" stroke-width="1.8"/>
<circle cx="149.9" cy="722.9" r="8.4" fill="#95b25a" stroke="#1f78c8" stroke-width="1.8"/>
<circle cx="182.6" cy="736.9" r="8.8" fill="#ab9cc9" stroke="#000" stroke-width="1.2"/>
<text x="146.3" y="669.5" font-family='"Liberation Sans", sans-serif' font-size="12.5" font-style="italic" text-anchor="middle" dominant-baseline="central" fill="#222">t</text>
<text x="174.5" y="688.3" font-family='"Liberation Sans", sans-serif' font-size="12.5" font-style="italic" text-anchor="middle" dominant-baseline="central" fill="#222">s<tspan font-size="8.5" dy="2.2">1</tspan></text>
<text x="150.5" y="722.6" font-family='"Liberation Sans", sans-serif' font-size="12.5" font-style="italic" text-anchor="middle" dominant-baseline="central" fill="#222">s<tspan font-size="8.5" dy="2.2">2</tspan></text>
<text x="234" y="627.5" font-size="7.4" font-weight="bold" font-style="normal" text-anchor="middle" dominant-baseline="central" fill="#000" font-family='"Liberation Sans", sans-serif' >Multi-head</text>
<line x1="215.7" y1="630.6" x2="252.5" y2="630.6" stroke="#000" stroke-width="1.0"/>
<rect x="212" y="634.4" width="43.5" height="129.5" rx="5" fill="none" stroke="#000" stroke-width="1.3"/>
<text x="233.5" y="639.6" font-family='"Liberation Sans", sans-serif' font-size="7.2" font-style="italic" font-weight="bold" text-anchor="middle" dominant-baseline="central" fill="#222">H=3</text>
<rect x="217.7" y="644.2" width="9.800000000000011" height="34.39999999999998" rx="0" fill="#fff" stroke="#cc2222" stroke-width="1.1"/>
<circle cx="222.60" cy="649.93" r="3.00" fill="none" stroke="#cc2222" stroke-width="0.9900000000000001"/>
<circle cx="222.60" cy="661.40" r="3.00" fill="none" stroke="#cc2222" stroke-width="0.9900000000000001"/>
<circle cx="222.60" cy="672.87" r="3.00" fill="none" stroke="#cc2222" stroke-width="0.9900000000000001"/>
<rect x="237.8" y="644.2" width="10.3" height="9.2" rx="0" fill="#fff" stroke="#cc2222" stroke-width="1.1"/>
<circle cx="242.95" cy="648.80" r="3" fill="none" stroke="#cc2222" stroke-width="1.15"/>
<rect x="237.8" y="655.8000000000001" width="10.3" height="9.2" rx="0" fill="#fff" stroke="#cc2222" stroke-width="1.1"/>
<circle cx="242.95" cy="660.40" r="3" fill="none" stroke="#cc2222" stroke-width="1.15"/>
<rect x="237.8" y="667.4000000000001" width="10.3" height="9.2" rx="0" fill="#fff" stroke="#cc2222" stroke-width="1.1"/>
<circle cx="242.95" cy="672.00" r="3" fill="none" stroke="#cc2222" stroke-width="1.15"/>
<rect x="217.7" y="683.2" width="9.800000000000011" height="34.39999999999998" rx="0" fill="#fff" stroke="#f4a460" stroke-width="1.1"/>
<circle cx="222.60" cy="688.93" r="3.00" fill="none" stroke="#f4a460" stroke-width="0.9900000000000001"/>
<circle cx="222.60" cy="700.40" r="3.00" fill="none" stroke="#f4a460" stroke-width="0.9900000000000001"/>
<circle cx="222.60" cy="711.87" r="3.00" fill="none" stroke="#f4a460" stroke-width="0.9900000000000001"/>
<rect x="237.8" y="683.2" width="10.3" height="9.2" rx="0" fill="#fff" stroke="#f4a460" stroke-width="1.1"/>
<circle cx="242.95" cy="687.80" r="3" fill="none" stroke="#f4a460" stroke-width="1.15"/>
<rect x="237.8" y="694.8000000000001" width="10.3" height="9.2" rx="0" fill="#fff" stroke="#f4a460" stroke-width="1.1"/>
<circle cx="242.95" cy="699.40" r="3" fill="none" stroke="#f4a460" stroke-width="1.15"/>
<rect x="237.8" y="706.4000000000001" width="10.3" height="9.2" rx="0" fill="#fff" stroke="#f4a460" stroke-width="1.1"/>
<circle cx="242.95" cy="711.00" r="3" fill="none" stroke="#f4a460" stroke-width="1.15"/>
<rect x="217.7" y="722.2" width="9.800000000000011" height="34.39999999999998" rx="0" fill="#fff" stroke="#1f78c8" stroke-width="1.1"/>
<circle cx="222.60" cy="727.93" r="3.00" fill="none" stroke="#1f78c8" stroke-width="0.9900000000000001"/>
<circle cx="222.60" cy="739.40" r="3.00" fill="none" stroke="#1f78c8" stroke-width="0.9900000000000001"/>
<circle cx="222.60" cy="750.87" r="3.00" fill="none" stroke="#1f78c8" stroke-width="0.9900000000000001"/>
<rect x="237.8" y="722.2" width="10.3" height="9.2" rx="0" fill="#fff" stroke="#1f78c8" stroke-width="1.1"/>
<circle cx="242.95" cy="726.80" r="3" fill="none" stroke="#1f78c8" stroke-width="1.15"/>
<rect x="237.8" y="733.8000000000001" width="10.3" height="9.2" rx="0" fill="#fff" stroke="#1f78c8" stroke-width="1.1"/>
<circle cx="242.95" cy="738.40" r="3" fill="none" stroke="#1f78c8" stroke-width="1.15"/>
<rect x="237.8" y="745.4000000000001" width="10.3" height="9.2" rx="0" fill="#fff" stroke="#1f78c8" stroke-width="1.1"/>
<circle cx="242.95" cy="750.00" r="3" fill="none" stroke="#1f78c8" stroke-width="1.15"/>
<rect x="277" y="646.3" width="228.7" height="134" rx="9" fill="#fff" stroke="#000" stroke-width="1.3"/>
<rect x="272" y="640.3" width="228.7" height="134" rx="9" fill="#fff" stroke="#000" stroke-width="1.3"/>
<rect x="267" y="634.3" width="228.7" height="134" rx="9" fill="#fff" stroke="#000" stroke-width="1.3"/>
<polygon points="283.6,638.4 320.4,642.6 320.4,657.0999999999999 283.6,661.3" fill="#fff" stroke="#000" stroke-width="1.2"/>
<text x="301" y="649.8499999999999" font-size="7.4" font-weight="normal" font-style="normal" text-anchor="middle" dominant-baseline="central" fill="#000" font-family='"Liberation Sans", sans-serif' >Query</text>
<polygon points="283.6,663.4 320.4,667.6 320.4,681.1999999999999 283.6,685.4" fill="#fff" stroke="#000" stroke-width="1.2"/>
<text x="301" y="674.4" font-size="7.4" font-weight="normal" font-style="normal" text-anchor="middle" dominant-baseline="central" fill="#000" font-family='"Liberation Sans", sans-serif' >Key</text>
<polygon points="283.6,687.2 320.4,691.4000000000001 320.4,704.9 283.6,709.1" fill="#fff" stroke="#000" stroke-width="1.2"/>
<text x="301" y="698.1500000000001" font-size="7.4" font-weight="normal" font-style="normal" text-anchor="middle" dominant-baseline="central" fill="#000" font-family='"Liberation Sans", sans-serif' >Key</text>
<polygon points="283.6,711.3 320.4,715.5 320.4,728.6999999999999 283.6,732.9" fill="#fff" stroke="#000" stroke-width="1.2"/>
<text x="301" y="717.8" font-size="7.4" font-weight="normal" font-style="normal" text-anchor="middle" dominant-baseline="central" fill="#000" font-family='"Liberation Sans", sans-serif' >Value</text>
<text x="301" y="726.3999999999999" font-size="7.4" font-weight="normal" font-style="normal" text-anchor="middle" dominant-baseline="central" fill="#000" font-family='"Liberation Sans", sans-serif' >projection</text>
<polygon points="283.6,734.6 320.4,738.8000000000001 320.4,752.4 283.6,756.6" fill="#fff" stroke="#000" stroke-width="1.2"/>
<text x="301" y="741.3000000000001" font-size="7.4" font-weight="normal" font-style="normal" text-anchor="middle" dominant-baseline="central" fill="#000" font-family='"Liberation Sans", sans-serif' >Value</text>
<text x="301" y="749.9" font-size="7.4" font-weight="normal" font-style="normal" text-anchor="middle" dominant-baseline="central" fill="#000" font-family='"Liberation Sans", sans-serif' >projection</text>
<rect x="339.4" y="664.2" width="24" height="17.4" rx="0" fill="none" stroke="#000" stroke-width="1.2"/>
<text x="344" y="673.7" font-family='"Liberation Serif", serif' font-size="8.3" font-style="italic" fill="#333" dominant-baseline="central">W<tspan font-size="5.6" dy="-2.8">ATT</tspan></text>
<rect x="339.4" y="688.2" width="24" height="17.4" rx="0" fill="none" stroke="#000" stroke-width="1.2"/>
<text x="344" y="697.7" font-family='"Liberation Serif", serif' font-size="8.3" font-style="italic" fill="#333" dominant-baseline="central">W<tspan font-size="5.6" dy="-2.8">ATT</tspan></text>
<rect x="339.4" y="712.2" width="24" height="17.4" rx="0" fill="none" stroke="#000" stroke-width="1.2"/>
<text x="344" y="721.7" font-family='"Liberation Serif", serif' font-size="8.3" font-style="italic" fill="#333" dominant-baseline="central">W<tspan font-size="5.6" dy="-2.8">MSG</tspan></text>
<rect x="339.4" y="736.5" width="24" height="17.4" rx="0" fill="none" stroke="#000" stroke-width="1.2"/>
<text x="344" y="746.0" font-family='"Liberation Serif", serif' font-size="8.3" font-style="italic" fill="#333" dominant-baseline="central">W<tspan font-size="5.6" dy="-2.8">MSG</tspan></text>
<rect x="377.3" y="668.7" width="31" height="33.1" rx="0" fill="none" stroke="#000" stroke-width="1.2"/>
<text x="392.8" y="676.5" font-size="7.4" font-weight="normal" font-style="normal" text-anchor="middle" dominant-baseline="central" fill="#000" font-family='"Liberation Sans", sans-serif' >Node</text>
<text x="392.8" y="685.6" font-size="7.4" font-weight="normal" font-style="normal" text-anchor="middle" dominant-baseline="central" fill="#000" font-family='"Liberation Sans", sans-serif' >softma</text>
<text x="392.8" y="694.2" font-size="7.4" font-weight="normal" font-style="normal" text-anchor="middle" dominant-baseline="central" fill="#000" font-family='"Liberation Sans", sans-serif' >x</text>
<text x="372" y="652.2" font-size="7.4" font-weight="bold" font-style="normal" text-anchor="middle" dominant-baseline="central" fill="#000" font-family='"Liberation Sans", sans-serif' >Mutual attention</text>
<text x="351.3" y="760.5" font-size="7.4" font-weight="bold" font-style="normal" text-anchor="middle" dominant-baseline="central" fill="#000" font-family='"Liberation Sans", sans-serif' >Message passing</text>
<text x="457.6" y="760.2" font-size="7.4" font-weight="bold" font-style="normal" text-anchor="middle" dominant-baseline="central" fill="#000" font-family='"Liberation Sans", sans-serif' >Target aggregation</text>
<path d="M247.9,648.5 C258,644 266,652 282,650.5" stroke="#cc2222" stroke-width="1.1" fill="none" marker-end="url(#ahR)" />
<path d="M247.9,688 C256,676 264,673 282,673.1" stroke="#f4a460" stroke-width="1.1" fill="none" marker-end="url(#ahO)" />
<path d="M247.9,688 C256,705 264,712 282,720.6" stroke="#f4a460" stroke-width="1.1" fill="none" marker-end="url(#ahO)" />
<path d="M247.9,726.7 C256,712 264,702 282,699.5" stroke="#1f78c8" stroke-width="1.1" fill="none" marker-end="url(#ahB)" />
<path d="M247.9,726.7 C256,740 264,746 282,747" stroke="#1f78c8" stroke-width="1.1" fill="none" marker-end="url(#ahB)" />
<path d="M320.4,649 C330,652 330,670 338.8,672.4" stroke="#cc2222" stroke-width="1.1" fill="none" marker-end="url(#ahR)" />
<path d="M320.4,649 C332,655 330,690 338.8,696.5" stroke="#cc2222" stroke-width="1.1" fill="none" marker-end="url(#ahR)" />
<path d="M320.4,673.9 H338.8" stroke="#f4a460" stroke-width="1.1" fill="none" marker-end="url(#ahO)" />
<path d="M320.4,697.5 H338.8" stroke="#1f78c8" stroke-width="1.1" fill="none" marker-end="url(#ahB)" />
<path d="M320.4,720.8 H338.8" stroke="#f4a460" stroke-width="1.1" fill="none" marker-end="url(#ahO)" />
<path d="M320.4,745 H338.8" stroke="#1f78c8" stroke-width="1.1" fill="none" marker-end="url(#ahB)" />
<path d="M363.4,673 H376.8" stroke="#f4a460" stroke-width="1.1" fill="none" marker-end="url(#ahO)" />
<path d="M363.4,697 H376.8" stroke="#1f78c8" stroke-width="1.1" fill="none" marker-end="url(#ahB)" />
<path d="M408.3,674.5 C419,672.5 427,675 434,680" stroke="#f4a460" stroke-width="1.1" fill="none" marker-end="url(#ahO)" />
<path d="M363.4,721 C395,728 420,705 435.5,687.5" stroke="#f4a460" stroke-width="1.1" fill="none" marker-end="url(#ahO)" />
<path d="M408.3,697.5 C420,705 426,716 434,726.8" stroke="#1f78c8" stroke-width="1.1" fill="none" marker-end="url(#ahB)" />
<path d="M363.4,745.5 C395,746 420,740 433.8,732.6" stroke="#1f78c8" stroke-width="1.1" fill="none" marker-end="url(#ahB)" />
<circle cx="439.3" cy="682.4" r="5.4" fill="#fff" stroke="#000" stroke-width="1.1"/>
<line x1="435.48220000000003" y1="678.5822" x2="443.1178" y2="686.2178" stroke="#000" stroke-width="1.0"/>
<line x1="435.48220000000003" y1="686.2178" x2="443.1178" y2="678.5822" stroke="#000" stroke-width="1.0"/>
<circle cx="439.3" cy="731" r="5.4" fill="#fff" stroke="#000" stroke-width="1.1"/>
<line x1="435.48220000000003" y1="727.1822" x2="443.1178" y2="734.8178" stroke="#000" stroke-width="1.0"/>
<line x1="435.48220000000003" y1="734.8178" x2="443.1178" y2="727.1822" stroke="#000" stroke-width="1.0"/>
<circle cx="464.3" cy="706.9" r="5.4" fill="#fff" stroke="#000" stroke-width="1.1"/>
<line x1="458.90000000000003" y1="706.9" x2="469.7" y2="706.9" stroke="#000" stroke-width="1.0"/>
<line x1="464.3" y1="701.5" x2="464.3" y2="712.3" stroke="#000" stroke-width="1.0"/>
<path d="M444.5,685 C452,688 456,693 460.5,701.5" stroke="#000" stroke-width="1.1" fill="none" marker-end="url(#ahs)" />
<path d="M444.5,728.5 C452,726 456,720 460.5,712.2" stroke="#000" stroke-width="1.1" fill="none" marker-end="url(#ahs)" />
<text x="413" y="670" font-family='"Liberation Serif", serif' font-size="8.0" font-style="italic" fill="#f4a460" dominant-baseline="central">Att(s<tspan font-size="5.5" dy="1.5">1</tspan><tspan dy="-1.5">, t)</tspan></text>
<text x="424.3" y="710" font-family='"Liberation Serif", serif' font-size="8.0" font-style="italic" fill="#1f78c8" dominant-baseline="central">Att(s<tspan font-size="5.5" dy="1.5">2</tspan><tspan dy="-1.5">, t)</tspan></text>
<path d="M469.7,706.9 H478 V675.5" stroke="#000" stroke-width="1.1" fill="none" marker-end="url(#ahs)" />
<rect x="464.3" y="657.4" width="24.5" height="17.6" rx="0" fill="none" stroke="#000" stroke-width="1.1"/>
<text x="476.5" y="666.4" font-size="7.6" font-weight="normal" font-style="normal" text-anchor="middle" dominant-baseline="central" fill="#000" font-family='"Liberation Sans", sans-serif' >ReLU</text>
<path d="M478,657.4 V646.8" stroke="#000" stroke-width="1.1" fill="none" marker-end="url(#ahs)" />
<rect x="472.9" y="637.5" width="9.8" height="8.8" rx="0" fill="#fff" stroke="#cc2222" stroke-width="1.1"/>
<circle cx="477.8" cy="641.9" r="2.9" fill="none" stroke="#cc2222" stroke-width="1"/>
<line x1="508" y1="643.1" x2="521.8" y2="643.1" stroke="#000" stroke-width="1.2" marker-end="url(#ah)"/>
<circle cx="527.6" cy="643.1" r="5.3" fill="#fff" stroke="#000" stroke-width="1.1"/>
<line x1="522.3000000000001" y1="643.1" x2="532.9" y2="643.1" stroke="#000" stroke-width="1.0"/>
<line x1="527.6" y1="637.8000000000001" x2="527.6" y2="648.4" stroke="#000" stroke-width="1.0"/>
<line x1="527.6" y1="648.5" x2="527.6" y2="663.8" stroke="#000" stroke-width="1.2" marker-end="url(#ah)"/>
<rect x="523.4" y="664.5" width="9.899999999999977" height="33.799999999999955" rx="0" fill="#fff" stroke="#cc2222" stroke-width="1.3"/>
<circle cx="528.35" cy="670.13" r="3.10" fill="none" stroke="#cc2222" stroke-width="1.1700000000000002"/>
<circle cx="528.35" cy="681.40" r="3.10" fill="none" stroke="#cc2222" stroke-width="1.1700000000000002"/>
<circle cx="528.35" cy="692.67" r="3.10" fill="none" stroke="#cc2222" stroke-width="1.1700000000000002"/>
<path d="M517.24,706.01 C517.45,704.48 518.94,703.80 519.01,704.99 C519.08,706.18 517.95,709.07 517.38,710.09 C517.02,710.68 516.24,710.51 516.10,709.75 M517.80,707.62 C519.30,707.20 520.72,707.12 521.92,707.03 M523.20,704.22 C522.35,703.97 521.71,705.67 521.43,707.37 C521.14,709.07 521.07,710.09 521.64,710.51 C522.06,710.77 522.56,710.26 522.70,709.75" fill="none" stroke="#3a3a3a" stroke-width="0.95" stroke-linecap="round"/>
<text x="524.2" y="707.2" font-family='"Liberation Serif", serif' font-size="6.3" font-style="italic" fill="#3a3a3a">l</text>
<text x="527.6" y="710.6" font-family='"Liberation Serif", serif' font-size="10.5" font-style="normal" fill="#3a3a3a">[</text>
<text x="530.5" y="709.5" font-family='"Liberation Serif", serif' font-size="10" font-style="italic" fill="#3a3a3a">v</text>
<text x="536.3" y="712" font-family='"Liberation Serif", serif' font-size="6.8" font-style="italic" fill="#3a3a3a">t</text>
<text x="539.4" y="710.6" font-family='"Liberation Serif", serif' font-size="10.5" font-style="normal" fill="#3a3a3a">]</text>
</svg></body></html>
